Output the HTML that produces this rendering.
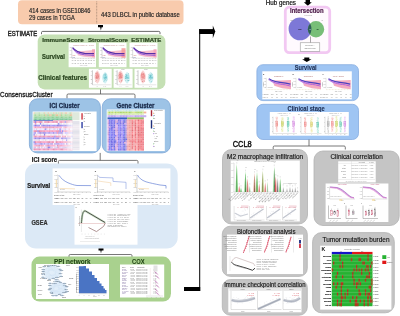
<!DOCTYPE html>
<html><head><meta charset="utf-8"><title>Workflow</title>
<style>
html,body{margin:0;padding:0;background:#fff;}
#fig{position:relative;width:400px;height:316px;overflow:hidden;background:#fff;}
svg{display:block;filter:blur(0.25px);}
</style></head>
<body><div id="fig">
<svg width="400" height="316" viewBox="0 0 400 316">
<rect x="18" y="0.3" width="165.5" height="23.9" rx="4" fill="#f8cbad"/>
<line x1="96.7" y1="1.5" x2="96.7" y2="23.5" stroke="#7a6658" stroke-width="0.6" stroke-dasharray="0.8,0.7"/>
<text x="29.1" y="13.23" font-size="6.5" font-weight="normal" fill="#262626" stroke="#262626" stroke-width="0.18" stroke-linejoin="round" textLength="61.2" lengthAdjust="spacingAndGlyphs" font-family="'Liberation Sans', Arial, sans-serif" >414 cases in GSE10846</text>
<text x="29.1" y="19.73" font-size="6.5" font-weight="normal" fill="#262626" stroke="#262626" stroke-width="0.18" stroke-linejoin="round" textLength="45.6" lengthAdjust="spacingAndGlyphs" font-family="'Liberation Sans', Arial, sans-serif" >29 cases in TCGA</text>
<text x="101" y="17.13" font-size="6.5" font-weight="normal" fill="#262626" stroke="#262626" stroke-width="0.18" stroke-linejoin="round" textLength="78.7" lengthAdjust="spacingAndGlyphs" font-family="'Liberation Sans', Arial, sans-serif" >443 DLBCL in public database</text>
<path d="M98,25.1 L103,25.1 L103,27.3 L101.6,27.3 L100.9,30.6 L100.2,27.3 L98,27.3 Z" fill="#000" />
<path d="M41.5,34.2 L41.5,32.6 Q41.5,31.4 42.7,31.4 L158.8,31.4 Q160,31.4 160,32.6 L160,34.2" fill="none" stroke="#444" stroke-width="0.8" />
<text x="7.75" y="35.76" font-size="6.3" font-weight="normal" fill="#1a1a1a" stroke="#1a1a1a" stroke-width="0.33" stroke-linejoin="round" textLength="29.5" lengthAdjust="spacingAndGlyphs" font-family="'Liberation Sans', Arial, sans-serif" >ESTIMATE</text>
<rect x="37.7" y="34.4" width="127.7" height="55" rx="7" fill="#c5e0b4"/>
<text x="42.2" y="42.08" font-size="6.1" font-weight="bold" fill="#2b4620" stroke="#2b4620" stroke-width="0.22" stroke-linejoin="round" textLength="41.55" lengthAdjust="spacingAndGlyphs" font-family="'Liberation Sans', Arial, sans-serif" >ImmuneScore</text>
<text x="88" y="42.08" font-size="6.1" font-weight="bold" fill="#2b4620" stroke="#2b4620" stroke-width="0.22" stroke-linejoin="round" textLength="40" lengthAdjust="spacingAndGlyphs" font-family="'Liberation Sans', Arial, sans-serif" >StromalScore</text>
<text x="131.25" y="42.08" font-size="6.1" font-weight="bold" fill="#2b4620" stroke="#2b4620" stroke-width="0.22" stroke-linejoin="round" textLength="30" lengthAdjust="spacingAndGlyphs" font-family="'Liberation Sans', Arial, sans-serif" >ESTIMATE</text>
<text x="42" y="58.71" font-size="7" font-weight="bold" fill="#2b4620" stroke="#2b4620" stroke-width="0.22" stroke-linejoin="round" textLength="22.9" lengthAdjust="spacingAndGlyphs" font-family="'Liberation Sans', Arial, sans-serif" >Survival</text>
<text x="38.2" y="80.21" font-size="7" font-weight="bold" fill="#2b4620" stroke="#2b4620" stroke-width="0.22" stroke-linejoin="round" textLength="48.8" lengthAdjust="spacingAndGlyphs" font-family="'Liberation Sans', Arial, sans-serif" >Clinical features</text>
<rect x="68.6" y="42.7" width="27.4" height="24.5" fill="#fff"/>
<rect x="98.8" y="42.7" width="27.7" height="24.5" fill="#fff"/>
<rect x="129.5" y="42.7" width="28" height="24.5" fill="#fff"/>
<rect x="88.9" y="68.8" width="22.8" height="19" fill="#fff"/>
<rect x="113.6" y="68.8" width="19" height="19" fill="#fff"/>
<rect x="134.5" y="68.8" width="22.8" height="19" fill="#fff"/>
<text x="0" y="96.71" font-size="7" font-weight="normal" fill="#1a1a1a" stroke="#1a1a1a" stroke-width="0.3" stroke-linejoin="round" textLength="52.6" lengthAdjust="spacingAndGlyphs" font-family="'Liberation Sans', Arial, sans-serif" >ConsensusCluster</text>
<line x1="100.5" y1="89.4" x2="100.5" y2="94" stroke="#555" stroke-width="0.8" />
<path d="M67,98.5 L67,95.2 Q67,94 68.2,94 L133.8,94 Q135,94 135,95.2 L135,98.5" fill="none" stroke="#555" stroke-width="0.8" />
<rect x="29.4" y="98.8" width="71" height="54.1" rx="8" fill="#9dc3e6" stroke="#7ea6d6" stroke-width="0.8"/>
<rect x="102.3" y="98.8" width="68.1" height="54.1" rx="8" fill="#9dc3e6" stroke="#7ea6d6" stroke-width="0.8"/>
<text x="49.5" y="108.03" font-size="6.8" font-weight="bold" fill="#1c2c4c" stroke="#1c2c4c" stroke-width="0.3" stroke-linejoin="round" textLength="30" lengthAdjust="spacingAndGlyphs" font-family="'Liberation Sans', Arial, sans-serif" >ICI Cluster</text>
<text x="116.5" y="108.03" font-size="6.8" font-weight="bold" fill="#1c2c4c" stroke="#1c2c4c" stroke-width="0.3" stroke-linejoin="round" textLength="37.9" lengthAdjust="spacingAndGlyphs" font-family="'Liberation Sans', Arial, sans-serif" >Gene Cluster</text>
<rect x="32.6" y="111.5" width="64" height="39.5" fill="#fff"/>
<rect x="106.7" y="109.5" width="58.1" height="41.5" fill="#fff"/>
<line x1="100.2" y1="152.9" x2="100.2" y2="160.4" stroke="#555" stroke-width="0.8" />
<path d="M58.4,164 L58.4,161.6 Q58.4,160.4 59.6,160.4 L136.8,160.4 Q138,160.4 138,161.6 L138,164" fill="none" stroke="#555" stroke-width="0.8" />
<text x="31.8" y="162.23" font-size="6.5" font-weight="bold" fill="#222" stroke="#222" stroke-width="0.22" stroke-linejoin="round" textLength="25.4" lengthAdjust="spacingAndGlyphs" font-family="'Liberation Sans', Arial, sans-serif" >ICI score</text>
<rect x="25" y="163.5" width="152.7" height="84.9" rx="11" fill="#dce9f6"/>
<text x="27.2" y="187.53" font-size="6.5" font-weight="bold" fill="#222" stroke="#222" stroke-width="0.22" stroke-linejoin="round" textLength="23" lengthAdjust="spacingAndGlyphs" font-family="'Liberation Sans', Arial, sans-serif" >Survival</text>
<text x="31.4" y="225.33" font-size="6.5" font-weight="bold" fill="#333" stroke="#333" stroke-width="0.22" stroke-linejoin="round" textLength="16.2" lengthAdjust="spacingAndGlyphs" font-family="'Liberation Sans', Arial, sans-serif" >GSEA</text>
<rect x="52.6" y="168.4" width="117.8" height="36.6" fill="#fff"/>
<rect x="74.5" y="205" width="63" height="39.7" fill="#fff"/>
<path d="M98.5,248.6 L103.5,248.6 L103.5,250.6 L101.6,250.6 L101,253.5 L100.4,250.6 L98.5,250.6 Z" fill="#000" />
<path d="M69,257 L69,255.7 Q69,254.5 70.2,254.5 L130.8,254.5 Q132,254.5 132,255.7 L132,257" fill="none" stroke="#555" stroke-width="0.8" />
<rect x="31.5" y="256.6" width="139.5" height="44.9" rx="8" fill="#a9d18e"/>
<text x="54" y="263.63" font-size="6.8" font-weight="bold" fill="#1d3f12" stroke="#1d3f12" stroke-width="0.05" stroke-linejoin="round" textLength="36.6" lengthAdjust="spacingAndGlyphs" font-family="'Liberation Sans', Arial, sans-serif" >PPI network</text>
<text x="132" y="263.63" font-size="6.8" font-weight="bold" fill="#1d3f12" stroke="#1d3f12" stroke-width="0.05" stroke-linejoin="round" textLength="12.6" lengthAdjust="spacingAndGlyphs" font-family="'Liberation Sans', Arial, sans-serif" >COX</text>
<rect x="36" y="264" width="73" height="35" fill="#fff"/>
<rect x="120" y="264.5" width="44.2" height="33" fill="#fff"/>
<rect x="199.2" y="29.1" width="1" height="261.9" fill="#000"/>
<rect x="199.2" y="29.1" width="14" height="4.9" fill="#000"/>
<polygon points="212.8,25.6 215.3,31.6 212.8,38.2" fill="#000" />
<rect x="184" y="287" width="16.2" height="4" fill="#000"/>
<text x="265.8" y="4.49" font-size="6.4" font-weight="normal" fill="#111" stroke="#111" stroke-width="0.2" stroke-linejoin="round" textLength="30.2" lengthAdjust="spacingAndGlyphs" font-family="'Liberation Sans', Arial, sans-serif" >Hub genes</text>
<path d="M305.6,-1 L310,-1 L310,2.2 L311.8,2.2 L307.8,5.8 L303.8,2.2 L305.6,2.2 Z" fill="#000" />
<rect x="285.3" y="7.2" width="44.4" height="45.4" rx="4" fill="#fffafe" stroke="#f2c8f2" stroke-width="2.8"/>
<text x="290" y="13.26" font-size="6.6" font-weight="bold" fill="#4e1a4a" stroke="#4e1a4a" stroke-width="0.22" stroke-linejoin="round" textLength="33.6" lengthAdjust="spacingAndGlyphs" font-family="'Liberation Sans', Arial, sans-serif" >Intersection</text>
<circle cx="300" cy="28.9" r="11.4" fill="#7d78d7" />
<circle cx="316" cy="29.3" r="8.2" fill="#78be78" />
<clipPath id="cb"><circle cx="300.0" cy="28.9" r="11.4"/></clipPath>
<circle cx="316.0" cy="29.3" r="8.2" fill="#2f5d58" clip-path="url(#cb)"/>
<line x1="310.5" y1="36.5" x2="310.5" y2="42.8" stroke="#555" stroke-width="0.5" />
<rect x="300.2" y="42.8" width="19.6" height="8.5" fill="#fff" stroke="#888" stroke-width="0.5"/>
<path d="M304.3,57.6 L309.3,57.6 L309.3,59.3 L311.5,59.3 L306.8,62 L302.1,59.3 L304.3,59.3 Z" fill="#000" />
<rect x="256.9" y="64.7" width="101.6" height="35.9" rx="6" fill="#9fc5f3" stroke="#86ace0" stroke-width="0.8"/>
<text x="294.7" y="70.03" font-size="6.5" font-weight="bold" fill="#1a2c52" stroke="#1a2c52" stroke-width="0.1" stroke-linejoin="round" textLength="22" lengthAdjust="spacingAndGlyphs" font-family="'Liberation Sans', Arial, sans-serif" >Survival</text>
<rect x="262.3" y="71.3" width="89.5" height="28" fill="#fff"/>
<rect x="256.9" y="104.3" width="101.6" height="35.2" rx="6" fill="#9fc5f3" stroke="#86ace0" stroke-width="0.8"/>
<text x="287.5" y="110.83" font-size="6.5" font-weight="bold" fill="#1a2c52" stroke="#1a2c52" stroke-width="0.1" stroke-linejoin="round" textLength="37.2" lengthAdjust="spacingAndGlyphs" font-family="'Liberation Sans', Arial, sans-serif" >Clinical stage</text>
<rect x="269.8" y="112" width="79" height="23.7" fill="#fff"/>
<line x1="309" y1="139.6" x2="309" y2="146" stroke="#555" stroke-width="0.8" />
<path d="M273.2,149.5 L273.2,147.2 Q273.2,146 274.4,146 L344.1,146 Q345.3,146 345.3,147.2 L345.3,149.5" fill="none" stroke="#555" stroke-width="0.8" />
<text x="232.7" y="146.75" font-size="8.8" font-weight="normal" fill="#111" stroke="#111" stroke-width="0.45" stroke-linejoin="round" textLength="19" lengthAdjust="spacingAndGlyphs" font-family="'Liberation Sans', Arial, sans-serif" >CCL8</text>
<rect x="222.5" y="149.5" width="85" height="74.5" rx="9" fill="#c5c5c5" stroke="#b3b3b3" stroke-width="0.8"/>
<text x="227" y="158.76" font-size="6.3" font-weight="normal" fill="#151515" stroke="#151515" stroke-width="0.14" stroke-linejoin="round" textLength="76.2" lengthAdjust="spacingAndGlyphs" font-family="'Liberation Sans', Arial, sans-serif" >M2 macrophage infiltration</text>
<rect x="230.7" y="160.5" width="69.1" height="61" fill="#fff"/>
<rect x="314" y="151" width="85.2" height="74.5" rx="9" fill="#c5c5c5" stroke="#b3b3b3" stroke-width="0.8"/>
<text x="330.5" y="159.26" font-size="6.3" font-weight="normal" fill="#151515" stroke="#151515" stroke-width="0.14" stroke-linejoin="round" textLength="52.2" lengthAdjust="spacingAndGlyphs" font-family="'Liberation Sans', Arial, sans-serif" >Clinical correlation</text>
<rect x="338.2" y="161.3" width="37.5" height="21.1" fill="#fff"/>
<rect x="325.6" y="183.5" width="62.8" height="38.5" fill="#fff"/>
<rect x="222.3" y="226.2" width="85" height="50.2" rx="8" fill="#c5c5c5" stroke="#b3b3b3" stroke-width="0.8"/>
<text x="237" y="233.66" font-size="6.3" font-weight="normal" fill="#151515" stroke="#151515" stroke-width="0.14" stroke-linejoin="round" textLength="58.5" lengthAdjust="spacingAndGlyphs" font-family="'Liberation Sans', Arial, sans-serif" >Biofonctional analysis</text>
<rect x="227" y="234.6" width="76" height="39.4" fill="#fff"/>
<rect x="222.3" y="279.6" width="85" height="35.6" rx="8" fill="#c5c5c5" stroke="#b3b3b3" stroke-width="0.8"/>
<text x="224.2" y="287.16" font-size="6.3" font-weight="normal" fill="#151515" stroke="#151515" stroke-width="0.14" stroke-linejoin="round" textLength="81.3" lengthAdjust="spacingAndGlyphs" font-family="'Liberation Sans', Arial, sans-serif" >Immune checkpoint correlation</text>
<rect x="228.3" y="288.3" width="73.2" height="24" fill="#fff"/>
<rect x="312.6" y="232.6" width="81.7" height="80.2" rx="9" fill="#c5c5c5" stroke="#b3b3b3" stroke-width="0.8"/>
<text x="322.5" y="241.76" font-size="6.3" font-weight="normal" fill="#151515" stroke="#151515" stroke-width="0.14" stroke-linejoin="round" textLength="67" lengthAdjust="spacingAndGlyphs" font-family="'Liberation Sans', Arial, sans-serif" >Tumor mutation burden</text>
<rect x="320.2" y="245.7" width="71.2" height="63.9" fill="#fff"/>
<text x="83.67" y="45.7" font-size="1.8" fill="#b98080" text-anchor="middle" font-family="'Liberation Sans', Arial, sans-serif" >Immune Score (p &lt; 0.001)</text>
<line x1="71.8" y1="47.2" x2="71.8" y2="58.2" stroke="#999" stroke-width="0.35" />
<text x="71.5" y="48.2" font-size="1.2" fill="#999" text-anchor="end" font-family="'Liberation Sans', Arial, sans-serif" >1.0</text>
<text x="71.5" y="51.4" font-size="1.2" fill="#999" text-anchor="end" font-family="'Liberation Sans', Arial, sans-serif" >0.8</text>
<text x="71.5" y="54.6" font-size="1.2" fill="#999" text-anchor="end" font-family="'Liberation Sans', Arial, sans-serif" >0.5</text>
<text x="71.5" y="57.8" font-size="1.2" fill="#999" text-anchor="end" font-family="'Liberation Sans', Arial, sans-serif" >0.2</text>
<line x1="71.8" y1="58.2" x2="95" y2="58.2" stroke="#aaa" stroke-width="0.3" />
<polygon points="77.6,51.2 83.6,50.9 95,49.7 95,57.7 83.6,56.7 77.6,55.2" fill="#f6acc0" opacity="0.8"/>
<rect x="92" y="49.2" width="3" height="8" fill="#f5a0b8" opacity="0.8"/>
<polygon points="72.6,47.2 76.6,50.7 82.6,52.5 82.6,55.2 76.6,53.7 72.6,49.2" fill="#c7a8ee" opacity="0.7"/>
<path d="M72.6,47.7 C75.6,51.5 79.6,52.9 84.6,53.3 L94,53.7" fill="none" stroke="#5530a8" stroke-width="1.3" />
<path d="M73.1,48.9 C76.1,52.7 80.1,54.3 84.6,54.8 L94,55.4" fill="none" stroke="#9a58d0" stroke-width="1" />
<text x="72.4" y="56.3" font-size="1.4" fill="#c66" text-anchor="start" font-family="'Liberation Sans', Arial, sans-serif" >High</text>
<text x="72.4" y="57.7" font-size="1.4" fill="#66a" text-anchor="start" font-family="'Liberation Sans', Arial, sans-serif" >Low</text>
<line x1="72.6" y1="58.2" x2="72.6" y2="59" stroke="#999" stroke-width="0.3" />
<text x="72.6" y="60.6" font-size="1.6" fill="#888" text-anchor="middle" font-family="'Liberation Sans', Arial, sans-serif" >90</text>
<text x="72.6" y="64.1" font-size="1.6" fill="#888" text-anchor="middle" font-family="'Liberation Sans', Arial, sans-serif" >60</text>
<line x1="75.27" y1="58.2" x2="75.27" y2="59" stroke="#999" stroke-width="0.3" />
<text x="75.27" y="60.6" font-size="1.6" fill="#888" text-anchor="middle" font-family="'Liberation Sans', Arial, sans-serif" >80</text>
<text x="75.27" y="64.1" font-size="1.6" fill="#888" text-anchor="middle" font-family="'Liberation Sans', Arial, sans-serif" >53</text>
<line x1="77.95" y1="58.2" x2="77.95" y2="59" stroke="#999" stroke-width="0.3" />
<text x="77.95" y="60.6" font-size="1.6" fill="#888" text-anchor="middle" font-family="'Liberation Sans', Arial, sans-serif" >70</text>
<text x="77.95" y="64.1" font-size="1.6" fill="#888" text-anchor="middle" font-family="'Liberation Sans', Arial, sans-serif" >46</text>
<line x1="80.62" y1="58.2" x2="80.62" y2="59" stroke="#999" stroke-width="0.3" />
<text x="80.62" y="60.6" font-size="1.6" fill="#888" text-anchor="middle" font-family="'Liberation Sans', Arial, sans-serif" >60</text>
<text x="80.62" y="64.1" font-size="1.6" fill="#888" text-anchor="middle" font-family="'Liberation Sans', Arial, sans-serif" >39</text>
<line x1="83.3" y1="58.2" x2="83.3" y2="59" stroke="#999" stroke-width="0.3" />
<text x="83.3" y="60.6" font-size="1.6" fill="#888" text-anchor="middle" font-family="'Liberation Sans', Arial, sans-serif" >50</text>
<text x="83.3" y="64.1" font-size="1.6" fill="#888" text-anchor="middle" font-family="'Liberation Sans', Arial, sans-serif" >32</text>
<line x1="85.97" y1="58.2" x2="85.97" y2="59" stroke="#999" stroke-width="0.3" />
<text x="85.97" y="60.6" font-size="1.6" fill="#888" text-anchor="middle" font-family="'Liberation Sans', Arial, sans-serif" >40</text>
<text x="85.97" y="64.1" font-size="1.6" fill="#888" text-anchor="middle" font-family="'Liberation Sans', Arial, sans-serif" >25</text>
<line x1="88.65" y1="58.2" x2="88.65" y2="59" stroke="#999" stroke-width="0.3" />
<text x="88.65" y="60.6" font-size="1.6" fill="#888" text-anchor="middle" font-family="'Liberation Sans', Arial, sans-serif" >30</text>
<text x="88.65" y="64.1" font-size="1.6" fill="#888" text-anchor="middle" font-family="'Liberation Sans', Arial, sans-serif" >18</text>
<line x1="91.33" y1="58.2" x2="91.33" y2="59" stroke="#999" stroke-width="0.3" />
<text x="91.33" y="60.6" font-size="1.6" fill="#888" text-anchor="middle" font-family="'Liberation Sans', Arial, sans-serif" >20</text>
<text x="91.33" y="64.1" font-size="1.6" fill="#888" text-anchor="middle" font-family="'Liberation Sans', Arial, sans-serif" >11</text>
<line x1="94" y1="58.2" x2="94" y2="59" stroke="#999" stroke-width="0.3" />
<text x="94" y="60.6" font-size="1.6" fill="#888" text-anchor="middle" font-family="'Liberation Sans', Arial, sans-serif" >10</text>
<text x="94" y="64.1" font-size="1.6" fill="#888" text-anchor="middle" font-family="'Liberation Sans', Arial, sans-serif" >4</text>
<text x="83.67" y="66.3" font-size="1.4" fill="#aaa" text-anchor="middle" font-family="'Liberation Sans', Arial, sans-serif" >Time (years)</text>
<text x="114.03" y="45.7" font-size="1.8" fill="#b98080" text-anchor="middle" font-family="'Liberation Sans', Arial, sans-serif" >Immune Score (p &lt; 0.001)</text>
<line x1="102" y1="47.2" x2="102" y2="58.2" stroke="#999" stroke-width="0.35" />
<text x="101.7" y="48.2" font-size="1.2" fill="#999" text-anchor="end" font-family="'Liberation Sans', Arial, sans-serif" >1.0</text>
<text x="101.7" y="51.4" font-size="1.2" fill="#999" text-anchor="end" font-family="'Liberation Sans', Arial, sans-serif" >0.8</text>
<text x="101.7" y="54.6" font-size="1.2" fill="#999" text-anchor="end" font-family="'Liberation Sans', Arial, sans-serif" >0.5</text>
<text x="101.7" y="57.8" font-size="1.2" fill="#999" text-anchor="end" font-family="'Liberation Sans', Arial, sans-serif" >0.2</text>
<line x1="102" y1="58.2" x2="125.5" y2="58.2" stroke="#aaa" stroke-width="0.3" />
<polygon points="107.8,51.2 113.8,50.9 125.5,49.7 125.5,57.7 113.8,56.7 107.8,55.2" fill="#f6acc0" opacity="0.8"/>
<rect x="121.5" y="48.2" width="4" height="9.5" fill="#f59a9a" opacity="0.85"/>
<polygon points="102.8,47.2 106.8,50.7 112.8,52.5 112.8,55.2 106.8,53.7 102.8,49.2" fill="#c7a8ee" opacity="0.7"/>
<path d="M102.8,47.7 C105.8,51.5 109.8,52.9 114.8,53.3 L124.5,53.7" fill="none" stroke="#5530a8" stroke-width="1.3" />
<path d="M103.3,48.9 C106.3,52.7 110.3,54.3 114.8,54.8 L124.5,55.4" fill="none" stroke="#9a58d0" stroke-width="1" />
<text x="102.6" y="56.3" font-size="1.4" fill="#c66" text-anchor="start" font-family="'Liberation Sans', Arial, sans-serif" >High</text>
<text x="102.6" y="57.7" font-size="1.4" fill="#66a" text-anchor="start" font-family="'Liberation Sans', Arial, sans-serif" >Low</text>
<line x1="102.8" y1="58.2" x2="102.8" y2="59" stroke="#999" stroke-width="0.3" />
<text x="102.8" y="60.6" font-size="1.6" fill="#888" text-anchor="middle" font-family="'Liberation Sans', Arial, sans-serif" >90</text>
<text x="102.8" y="64.1" font-size="1.6" fill="#888" text-anchor="middle" font-family="'Liberation Sans', Arial, sans-serif" >60</text>
<line x1="105.51" y1="58.2" x2="105.51" y2="59" stroke="#999" stroke-width="0.3" />
<text x="105.51" y="60.6" font-size="1.6" fill="#888" text-anchor="middle" font-family="'Liberation Sans', Arial, sans-serif" >80</text>
<text x="105.51" y="64.1" font-size="1.6" fill="#888" text-anchor="middle" font-family="'Liberation Sans', Arial, sans-serif" >53</text>
<line x1="108.22" y1="58.2" x2="108.22" y2="59" stroke="#999" stroke-width="0.3" />
<text x="108.22" y="60.6" font-size="1.6" fill="#888" text-anchor="middle" font-family="'Liberation Sans', Arial, sans-serif" >70</text>
<text x="108.22" y="64.1" font-size="1.6" fill="#888" text-anchor="middle" font-family="'Liberation Sans', Arial, sans-serif" >46</text>
<line x1="110.94" y1="58.2" x2="110.94" y2="59" stroke="#999" stroke-width="0.3" />
<text x="110.94" y="60.6" font-size="1.6" fill="#888" text-anchor="middle" font-family="'Liberation Sans', Arial, sans-serif" >60</text>
<text x="110.94" y="64.1" font-size="1.6" fill="#888" text-anchor="middle" font-family="'Liberation Sans', Arial, sans-serif" >39</text>
<line x1="113.65" y1="58.2" x2="113.65" y2="59" stroke="#999" stroke-width="0.3" />
<text x="113.65" y="60.6" font-size="1.6" fill="#888" text-anchor="middle" font-family="'Liberation Sans', Arial, sans-serif" >50</text>
<text x="113.65" y="64.1" font-size="1.6" fill="#888" text-anchor="middle" font-family="'Liberation Sans', Arial, sans-serif" >32</text>
<line x1="116.36" y1="58.2" x2="116.36" y2="59" stroke="#999" stroke-width="0.3" />
<text x="116.36" y="60.6" font-size="1.6" fill="#888" text-anchor="middle" font-family="'Liberation Sans', Arial, sans-serif" >40</text>
<text x="116.36" y="64.1" font-size="1.6" fill="#888" text-anchor="middle" font-family="'Liberation Sans', Arial, sans-serif" >25</text>
<line x1="119.08" y1="58.2" x2="119.08" y2="59" stroke="#999" stroke-width="0.3" />
<text x="119.08" y="60.6" font-size="1.6" fill="#888" text-anchor="middle" font-family="'Liberation Sans', Arial, sans-serif" >30</text>
<text x="119.08" y="64.1" font-size="1.6" fill="#888" text-anchor="middle" font-family="'Liberation Sans', Arial, sans-serif" >18</text>
<line x1="121.79" y1="58.2" x2="121.79" y2="59" stroke="#999" stroke-width="0.3" />
<text x="121.79" y="60.6" font-size="1.6" fill="#888" text-anchor="middle" font-family="'Liberation Sans', Arial, sans-serif" >20</text>
<text x="121.79" y="64.1" font-size="1.6" fill="#888" text-anchor="middle" font-family="'Liberation Sans', Arial, sans-serif" >11</text>
<line x1="124.5" y1="58.2" x2="124.5" y2="59" stroke="#999" stroke-width="0.3" />
<text x="124.5" y="60.6" font-size="1.6" fill="#888" text-anchor="middle" font-family="'Liberation Sans', Arial, sans-serif" >10</text>
<text x="124.5" y="64.1" font-size="1.6" fill="#888" text-anchor="middle" font-family="'Liberation Sans', Arial, sans-serif" >4</text>
<text x="114.03" y="66.3" font-size="1.4" fill="#aaa" text-anchor="middle" font-family="'Liberation Sans', Arial, sans-serif" >Time (years)</text>
<text x="144.9" y="45.7" font-size="1.8" fill="#b98080" text-anchor="middle" font-family="'Liberation Sans', Arial, sans-serif" >Immune Score (p &lt; 0.001)</text>
<line x1="132.7" y1="47.2" x2="132.7" y2="58.2" stroke="#999" stroke-width="0.35" />
<text x="132.4" y="48.2" font-size="1.2" fill="#999" text-anchor="end" font-family="'Liberation Sans', Arial, sans-serif" >1.0</text>
<text x="132.4" y="51.4" font-size="1.2" fill="#999" text-anchor="end" font-family="'Liberation Sans', Arial, sans-serif" >0.8</text>
<text x="132.4" y="54.6" font-size="1.2" fill="#999" text-anchor="end" font-family="'Liberation Sans', Arial, sans-serif" >0.5</text>
<text x="132.4" y="57.8" font-size="1.2" fill="#999" text-anchor="end" font-family="'Liberation Sans', Arial, sans-serif" >0.2</text>
<line x1="132.7" y1="58.2" x2="156.5" y2="58.2" stroke="#aaa" stroke-width="0.3" />
<polygon points="138.5,51.2 144.5,50.9 156.5,49.7 156.5,57.7 144.5,56.7 138.5,55.2" fill="#f6acc0" opacity="0.8"/>
<rect x="153.5" y="49.2" width="3" height="8" fill="#f5a0b8" opacity="0.8"/>
<polygon points="133.5,47.2 137.5,50.7 143.5,52.5 143.5,55.2 137.5,53.7 133.5,49.2" fill="#c7a8ee" opacity="0.7"/>
<path d="M133.5,47.7 C136.5,51.5 140.5,52.9 145.5,53.3 L155.5,53.7" fill="none" stroke="#5530a8" stroke-width="1.3" />
<path d="M134,48.9 C137,52.7 141,54.3 145.5,54.8 L155.5,55.4" fill="none" stroke="#9a58d0" stroke-width="1" />
<text x="133.3" y="56.3" font-size="1.4" fill="#c66" text-anchor="start" font-family="'Liberation Sans', Arial, sans-serif" >High</text>
<text x="133.3" y="57.7" font-size="1.4" fill="#66a" text-anchor="start" font-family="'Liberation Sans', Arial, sans-serif" >Low</text>
<line x1="133.5" y1="58.2" x2="133.5" y2="59" stroke="#999" stroke-width="0.3" />
<text x="133.5" y="60.6" font-size="1.6" fill="#888" text-anchor="middle" font-family="'Liberation Sans', Arial, sans-serif" >90</text>
<text x="133.5" y="64.1" font-size="1.6" fill="#888" text-anchor="middle" font-family="'Liberation Sans', Arial, sans-serif" >60</text>
<line x1="136.25" y1="58.2" x2="136.25" y2="59" stroke="#999" stroke-width="0.3" />
<text x="136.25" y="60.6" font-size="1.6" fill="#888" text-anchor="middle" font-family="'Liberation Sans', Arial, sans-serif" >80</text>
<text x="136.25" y="64.1" font-size="1.6" fill="#888" text-anchor="middle" font-family="'Liberation Sans', Arial, sans-serif" >53</text>
<line x1="139" y1="58.2" x2="139" y2="59" stroke="#999" stroke-width="0.3" />
<text x="139" y="60.6" font-size="1.6" fill="#888" text-anchor="middle" font-family="'Liberation Sans', Arial, sans-serif" >70</text>
<text x="139" y="64.1" font-size="1.6" fill="#888" text-anchor="middle" font-family="'Liberation Sans', Arial, sans-serif" >46</text>
<line x1="141.75" y1="58.2" x2="141.75" y2="59" stroke="#999" stroke-width="0.3" />
<text x="141.75" y="60.6" font-size="1.6" fill="#888" text-anchor="middle" font-family="'Liberation Sans', Arial, sans-serif" >60</text>
<text x="141.75" y="64.1" font-size="1.6" fill="#888" text-anchor="middle" font-family="'Liberation Sans', Arial, sans-serif" >39</text>
<line x1="144.5" y1="58.2" x2="144.5" y2="59" stroke="#999" stroke-width="0.3" />
<text x="144.5" y="60.6" font-size="1.6" fill="#888" text-anchor="middle" font-family="'Liberation Sans', Arial, sans-serif" >50</text>
<text x="144.5" y="64.1" font-size="1.6" fill="#888" text-anchor="middle" font-family="'Liberation Sans', Arial, sans-serif" >32</text>
<line x1="147.25" y1="58.2" x2="147.25" y2="59" stroke="#999" stroke-width="0.3" />
<text x="147.25" y="60.6" font-size="1.6" fill="#888" text-anchor="middle" font-family="'Liberation Sans', Arial, sans-serif" >40</text>
<text x="147.25" y="64.1" font-size="1.6" fill="#888" text-anchor="middle" font-family="'Liberation Sans', Arial, sans-serif" >25</text>
<line x1="150" y1="58.2" x2="150" y2="59" stroke="#999" stroke-width="0.3" />
<text x="150" y="60.6" font-size="1.6" fill="#888" text-anchor="middle" font-family="'Liberation Sans', Arial, sans-serif" >30</text>
<text x="150" y="64.1" font-size="1.6" fill="#888" text-anchor="middle" font-family="'Liberation Sans', Arial, sans-serif" >18</text>
<line x1="152.75" y1="58.2" x2="152.75" y2="59" stroke="#999" stroke-width="0.3" />
<text x="152.75" y="60.6" font-size="1.6" fill="#888" text-anchor="middle" font-family="'Liberation Sans', Arial, sans-serif" >20</text>
<text x="152.75" y="64.1" font-size="1.6" fill="#888" text-anchor="middle" font-family="'Liberation Sans', Arial, sans-serif" >11</text>
<line x1="155.5" y1="58.2" x2="155.5" y2="59" stroke="#999" stroke-width="0.3" />
<text x="155.5" y="60.6" font-size="1.6" fill="#888" text-anchor="middle" font-family="'Liberation Sans', Arial, sans-serif" >10</text>
<text x="155.5" y="64.1" font-size="1.6" fill="#888" text-anchor="middle" font-family="'Liberation Sans', Arial, sans-serif" >4</text>
<text x="144.9" y="66.3" font-size="1.4" fill="#aaa" text-anchor="middle" font-family="'Liberation Sans', Arial, sans-serif" >Time (years)</text>
<line x1="92.4" y1="70.3" x2="92.4" y2="84.8" stroke="#777" stroke-width="0.4" />
<text x="91.7" y="71.8" font-size="1.5" fill="#777" text-anchor="end" font-family="'Liberation Sans', Arial, sans-serif" >4</text>
<text x="91.7" y="75.8" font-size="1.5" fill="#777" text-anchor="end" font-family="'Liberation Sans', Arial, sans-serif" >3</text>
<text x="91.7" y="79.8" font-size="1.5" fill="#777" text-anchor="end" font-family="'Liberation Sans', Arial, sans-serif" >2</text>
<text x="91.7" y="83.8" font-size="1.5" fill="#777" text-anchor="end" font-family="'Liberation Sans', Arial, sans-serif" >1</text>
<text x="100.3" y="70.4" font-size="1.4" fill="#999" text-anchor="middle" font-family="'Liberation Sans', Arial, sans-serif" >Stage</text>
<path d="M97.34,70.3 C99.86,73 101.54,76.38 99.02,81.77 L97.34,83.8 L95.66,81.77 C93.14,76.38 94.82,73 97.34,70.3 Z" fill="#f39c9c" opacity="0.45"/>
<ellipse cx="97.34" cy="75.97" rx="1.89" ry="2.97" fill="#f39c9c" opacity="0.8"/>
<circle cx="96.02" cy="75.39" r="0.35" fill="#d35a5a" opacity="0.7"/>
<circle cx="95.72" cy="78.48" r="0.35" fill="#d35a5a" opacity="0.7"/>
<circle cx="96.83" cy="77.39" r="0.35" fill="#d35a5a" opacity="0.7"/>
<circle cx="97.36" cy="72.87" r="0.35" fill="#d35a5a" opacity="0.7"/>
<circle cx="97.09" cy="72.68" r="0.35" fill="#d35a5a" opacity="0.7"/>
<circle cx="95.79" cy="72.99" r="0.35" fill="#d35a5a" opacity="0.7"/>
<circle cx="98.57" cy="76.34" r="0.35" fill="#d35a5a" opacity="0.7"/>
<circle cx="96.29" cy="73.49" r="0.35" fill="#d35a5a" opacity="0.7"/>
<circle cx="99.03" cy="78.25" r="0.35" fill="#d35a5a" opacity="0.7"/>
<circle cx="96.95" cy="77.78" r="0.35" fill="#d35a5a" opacity="0.7"/>
<circle cx="95.62" cy="81.55" r="0.35" fill="#d35a5a" opacity="0.7"/>
<circle cx="96.54" cy="80.44" r="0.35" fill="#d35a5a" opacity="0.7"/>
<circle cx="95.89" cy="73.69" r="0.35" fill="#d35a5a" opacity="0.7"/>
<circle cx="98.53" cy="75.24" r="0.35" fill="#d35a5a" opacity="0.7"/>
<circle cx="97.64" cy="74.03" r="0.35" fill="#d35a5a" opacity="0.7"/>
<circle cx="96.85" cy="78.36" r="0.35" fill="#d35a5a" opacity="0.7"/>
<circle cx="95.68" cy="77.5" r="0.35" fill="#d35a5a" opacity="0.7"/>
<circle cx="96.22" cy="72.89" r="0.35" fill="#d35a5a" opacity="0.7"/>
<circle cx="97.06" cy="78.75" r="0.35" fill="#d35a5a" opacity="0.7"/>
<circle cx="97.66" cy="75.29" r="0.35" fill="#d35a5a" opacity="0.7"/>
<circle cx="96.58" cy="76.61" r="0.35" fill="#d35a5a" opacity="0.7"/>
<circle cx="98.09" cy="79.83" r="0.35" fill="#d35a5a" opacity="0.7"/>
<line x1="95.87" y1="77.05" x2="98.81" y2="77.05" stroke="#d35a5a" stroke-width="0.4" />
<path d="M105.09,71.8 C107.61,74.2 109.29,77.2 106.77,82 L105.09,83.8 L103.41,82 C100.89,77.2 102.57,74.2 105.09,71.8 Z" fill="#98dde4" opacity="0.45"/>
<ellipse cx="105.09" cy="76.84" rx="1.89" ry="2.64" fill="#98dde4" opacity="0.8"/>
<circle cx="105.37" cy="75.65" r="0.35" fill="#3aa6b2" opacity="0.7"/>
<circle cx="106.51" cy="78.01" r="0.35" fill="#3aa6b2" opacity="0.7"/>
<circle cx="104.29" cy="79.73" r="0.35" fill="#3aa6b2" opacity="0.7"/>
<circle cx="103.64" cy="81.83" r="0.35" fill="#3aa6b2" opacity="0.7"/>
<circle cx="106.06" cy="77.11" r="0.35" fill="#3aa6b2" opacity="0.7"/>
<circle cx="105.05" cy="74.88" r="0.35" fill="#3aa6b2" opacity="0.7"/>
<circle cx="105.72" cy="73.93" r="0.35" fill="#3aa6b2" opacity="0.7"/>
<circle cx="105.36" cy="80.02" r="0.35" fill="#3aa6b2" opacity="0.7"/>
<circle cx="104.38" cy="80.95" r="0.35" fill="#3aa6b2" opacity="0.7"/>
<circle cx="105.44" cy="79.44" r="0.35" fill="#3aa6b2" opacity="0.7"/>
<circle cx="104.92" cy="78.47" r="0.35" fill="#3aa6b2" opacity="0.7"/>
<circle cx="106.77" cy="80.66" r="0.35" fill="#3aa6b2" opacity="0.7"/>
<circle cx="105.71" cy="77.58" r="0.35" fill="#3aa6b2" opacity="0.7"/>
<circle cx="105.85" cy="74.11" r="0.35" fill="#3aa6b2" opacity="0.7"/>
<circle cx="106.95" cy="79.04" r="0.35" fill="#3aa6b2" opacity="0.7"/>
<circle cx="104.27" cy="80.5" r="0.35" fill="#3aa6b2" opacity="0.7"/>
<circle cx="105.73" cy="76.84" r="0.35" fill="#3aa6b2" opacity="0.7"/>
<circle cx="104.94" cy="73.79" r="0.35" fill="#3aa6b2" opacity="0.7"/>
<circle cx="103.64" cy="75.01" r="0.35" fill="#3aa6b2" opacity="0.7"/>
<circle cx="106.1" cy="74.1" r="0.35" fill="#3aa6b2" opacity="0.7"/>
<circle cx="104.13" cy="74.69" r="0.35" fill="#3aa6b2" opacity="0.7"/>
<circle cx="106.49" cy="76.88" r="0.35" fill="#3aa6b2" opacity="0.7"/>
<line x1="103.62" y1="77.8" x2="106.56" y2="77.8" stroke="#3aa6b2" stroke-width="0.4" />
<line x1="92.4" y1="84.8" x2="110.7" y2="84.8" stroke="#aaa" stroke-width="0.3" />
<text x="97.34" y="86.8" font-size="1.3" fill="#999" text-anchor="middle" font-family="'Liberation Sans', Arial, sans-serif" >I-II</text>
<text x="104.86" y="86.8" font-size="1.3" fill="#999" text-anchor="middle" font-family="'Liberation Sans', Arial, sans-serif" >III-IV</text>
<line x1="117.1" y1="70.3" x2="117.1" y2="84.8" stroke="#777" stroke-width="0.4" />
<text x="116.4" y="71.8" font-size="1.5" fill="#777" text-anchor="end" font-family="'Liberation Sans', Arial, sans-serif" >4</text>
<text x="116.4" y="75.8" font-size="1.5" fill="#777" text-anchor="end" font-family="'Liberation Sans', Arial, sans-serif" >3</text>
<text x="116.4" y="79.8" font-size="1.5" fill="#777" text-anchor="end" font-family="'Liberation Sans', Arial, sans-serif" >2</text>
<text x="116.4" y="83.8" font-size="1.5" fill="#777" text-anchor="end" font-family="'Liberation Sans', Arial, sans-serif" >1</text>
<text x="123.1" y="70.4" font-size="1.4" fill="#999" text-anchor="middle" font-family="'Liberation Sans', Arial, sans-serif" >Stage</text>
<path d="M120.63,70.3 C123.15,73 124.83,76.38 122.31,81.77 L120.63,83.8 L118.95,81.77 C116.43,76.38 118.11,73 120.63,70.3 Z" fill="#f39c9c" opacity="0.45"/>
<ellipse cx="120.63" cy="75.97" rx="1.89" ry="2.97" fill="#f39c9c" opacity="0.8"/>
<circle cx="120.44" cy="73.09" r="0.35" fill="#d35a5a" opacity="0.7"/>
<circle cx="122.08" cy="77.52" r="0.35" fill="#d35a5a" opacity="0.7"/>
<circle cx="122.01" cy="80.07" r="0.35" fill="#d35a5a" opacity="0.7"/>
<circle cx="120.31" cy="74.96" r="0.35" fill="#d35a5a" opacity="0.7"/>
<circle cx="122.08" cy="75.72" r="0.35" fill="#d35a5a" opacity="0.7"/>
<circle cx="119.31" cy="81.38" r="0.35" fill="#d35a5a" opacity="0.7"/>
<circle cx="119.62" cy="73.99" r="0.35" fill="#d35a5a" opacity="0.7"/>
<circle cx="120.57" cy="74.53" r="0.35" fill="#d35a5a" opacity="0.7"/>
<circle cx="119.73" cy="77.89" r="0.35" fill="#d35a5a" opacity="0.7"/>
<circle cx="120.32" cy="72.36" r="0.35" fill="#d35a5a" opacity="0.7"/>
<circle cx="120.88" cy="75.81" r="0.35" fill="#d35a5a" opacity="0.7"/>
<circle cx="121.35" cy="81.33" r="0.35" fill="#d35a5a" opacity="0.7"/>
<circle cx="121.07" cy="77.2" r="0.35" fill="#d35a5a" opacity="0.7"/>
<circle cx="118.94" cy="78.72" r="0.35" fill="#d35a5a" opacity="0.7"/>
<circle cx="121.69" cy="80.83" r="0.35" fill="#d35a5a" opacity="0.7"/>
<circle cx="121.76" cy="80.59" r="0.35" fill="#d35a5a" opacity="0.7"/>
<circle cx="120.25" cy="76.03" r="0.35" fill="#d35a5a" opacity="0.7"/>
<circle cx="121.14" cy="73.3" r="0.35" fill="#d35a5a" opacity="0.7"/>
<circle cx="118.99" cy="72.91" r="0.35" fill="#d35a5a" opacity="0.7"/>
<circle cx="119.35" cy="74.3" r="0.35" fill="#d35a5a" opacity="0.7"/>
<circle cx="118.94" cy="75.54" r="0.35" fill="#d35a5a" opacity="0.7"/>
<circle cx="119.31" cy="72.33" r="0.35" fill="#d35a5a" opacity="0.7"/>
<line x1="119.16" y1="77.05" x2="122.1" y2="77.05" stroke="#d35a5a" stroke-width="0.4" />
<path d="M127.09,71.8 C129.61,74.2 131.29,77.2 128.77,82 L127.09,83.8 L125.41,82 C122.89,77.2 124.57,74.2 127.09,71.8 Z" fill="#98dde4" opacity="0.45"/>
<ellipse cx="127.09" cy="76.84" rx="1.89" ry="2.64" fill="#98dde4" opacity="0.8"/>
<circle cx="126.57" cy="74.45" r="0.35" fill="#3aa6b2" opacity="0.7"/>
<circle cx="128.5" cy="73.81" r="0.35" fill="#3aa6b2" opacity="0.7"/>
<circle cx="125.76" cy="78.76" r="0.35" fill="#3aa6b2" opacity="0.7"/>
<circle cx="126.51" cy="75.72" r="0.35" fill="#3aa6b2" opacity="0.7"/>
<circle cx="125.66" cy="76.66" r="0.35" fill="#3aa6b2" opacity="0.7"/>
<circle cx="128.95" cy="80.73" r="0.35" fill="#3aa6b2" opacity="0.7"/>
<circle cx="127.03" cy="77.51" r="0.35" fill="#3aa6b2" opacity="0.7"/>
<circle cx="125.59" cy="74.32" r="0.35" fill="#3aa6b2" opacity="0.7"/>
<circle cx="126.2" cy="76.48" r="0.35" fill="#3aa6b2" opacity="0.7"/>
<circle cx="125.81" cy="80.56" r="0.35" fill="#3aa6b2" opacity="0.7"/>
<circle cx="128.79" cy="73.79" r="0.35" fill="#3aa6b2" opacity="0.7"/>
<circle cx="125.75" cy="78.04" r="0.35" fill="#3aa6b2" opacity="0.7"/>
<circle cx="125.3" cy="78.16" r="0.35" fill="#3aa6b2" opacity="0.7"/>
<circle cx="128.9" cy="78.04" r="0.35" fill="#3aa6b2" opacity="0.7"/>
<circle cx="127.83" cy="80.85" r="0.35" fill="#3aa6b2" opacity="0.7"/>
<circle cx="126.59" cy="75.79" r="0.35" fill="#3aa6b2" opacity="0.7"/>
<circle cx="128.12" cy="75" r="0.35" fill="#3aa6b2" opacity="0.7"/>
<circle cx="128.14" cy="78.07" r="0.35" fill="#3aa6b2" opacity="0.7"/>
<circle cx="126.04" cy="76.37" r="0.35" fill="#3aa6b2" opacity="0.7"/>
<circle cx="128.92" cy="80.42" r="0.35" fill="#3aa6b2" opacity="0.7"/>
<circle cx="128.25" cy="80.76" r="0.35" fill="#3aa6b2" opacity="0.7"/>
<circle cx="128" cy="80.47" r="0.35" fill="#3aa6b2" opacity="0.7"/>
<line x1="125.62" y1="77.8" x2="128.56" y2="77.8" stroke="#3aa6b2" stroke-width="0.4" />
<line x1="117.1" y1="84.8" x2="131.6" y2="84.8" stroke="#aaa" stroke-width="0.3" />
<text x="120.63" y="86.8" font-size="1.3" fill="#999" text-anchor="middle" font-family="'Liberation Sans', Arial, sans-serif" >I-II</text>
<text x="126.9" y="86.8" font-size="1.3" fill="#999" text-anchor="middle" font-family="'Liberation Sans', Arial, sans-serif" >III-IV</text>
<line x1="138" y1="70.3" x2="138" y2="84.8" stroke="#777" stroke-width="0.4" />
<text x="137.3" y="71.8" font-size="1.5" fill="#777" text-anchor="end" font-family="'Liberation Sans', Arial, sans-serif" >4</text>
<text x="137.3" y="75.8" font-size="1.5" fill="#777" text-anchor="end" font-family="'Liberation Sans', Arial, sans-serif" >3</text>
<text x="137.3" y="79.8" font-size="1.5" fill="#777" text-anchor="end" font-family="'Liberation Sans', Arial, sans-serif" >2</text>
<text x="137.3" y="83.8" font-size="1.5" fill="#777" text-anchor="end" font-family="'Liberation Sans', Arial, sans-serif" >1</text>
<text x="145.9" y="70.4" font-size="1.4" fill="#999" text-anchor="middle" font-family="'Liberation Sans', Arial, sans-serif" >Stage</text>
<path d="M142.94,70.3 C145.46,73 147.14,76.38 144.62,81.77 L142.94,83.8 L141.26,81.77 C138.74,76.38 140.42,73 142.94,70.3 Z" fill="#f39c9c" opacity="0.45"/>
<ellipse cx="142.94" cy="75.97" rx="1.89" ry="2.97" fill="#f39c9c" opacity="0.8"/>
<circle cx="143" cy="74.47" r="0.35" fill="#d35a5a" opacity="0.7"/>
<circle cx="141.16" cy="75.69" r="0.35" fill="#d35a5a" opacity="0.7"/>
<circle cx="142.1" cy="72.59" r="0.35" fill="#d35a5a" opacity="0.7"/>
<circle cx="143.66" cy="74.77" r="0.35" fill="#d35a5a" opacity="0.7"/>
<circle cx="142.74" cy="81.36" r="0.35" fill="#d35a5a" opacity="0.7"/>
<circle cx="144.78" cy="81.18" r="0.35" fill="#d35a5a" opacity="0.7"/>
<circle cx="142.42" cy="81.35" r="0.35" fill="#d35a5a" opacity="0.7"/>
<circle cx="141.9" cy="74.41" r="0.35" fill="#d35a5a" opacity="0.7"/>
<circle cx="141.82" cy="74.18" r="0.35" fill="#d35a5a" opacity="0.7"/>
<circle cx="144.45" cy="78.22" r="0.35" fill="#d35a5a" opacity="0.7"/>
<circle cx="142.86" cy="80.27" r="0.35" fill="#d35a5a" opacity="0.7"/>
<circle cx="144.07" cy="78.5" r="0.35" fill="#d35a5a" opacity="0.7"/>
<circle cx="143.54" cy="73.13" r="0.35" fill="#d35a5a" opacity="0.7"/>
<circle cx="144" cy="80.92" r="0.35" fill="#d35a5a" opacity="0.7"/>
<circle cx="142.85" cy="79.41" r="0.35" fill="#d35a5a" opacity="0.7"/>
<circle cx="144.03" cy="74.01" r="0.35" fill="#d35a5a" opacity="0.7"/>
<circle cx="144.07" cy="75.47" r="0.35" fill="#d35a5a" opacity="0.7"/>
<circle cx="142.54" cy="81.51" r="0.35" fill="#d35a5a" opacity="0.7"/>
<circle cx="144.62" cy="76.12" r="0.35" fill="#d35a5a" opacity="0.7"/>
<circle cx="141.69" cy="79.17" r="0.35" fill="#d35a5a" opacity="0.7"/>
<circle cx="141.62" cy="73.53" r="0.35" fill="#d35a5a" opacity="0.7"/>
<circle cx="144.09" cy="80.88" r="0.35" fill="#d35a5a" opacity="0.7"/>
<line x1="141.47" y1="77.05" x2="144.41" y2="77.05" stroke="#d35a5a" stroke-width="0.4" />
<path d="M150.69,71.8 C153.21,74.2 154.89,77.2 152.37,82 L150.69,83.8 L149.01,82 C146.49,77.2 148.17,74.2 150.69,71.8 Z" fill="#98dde4" opacity="0.45"/>
<ellipse cx="150.69" cy="76.84" rx="1.89" ry="2.64" fill="#98dde4" opacity="0.8"/>
<circle cx="151.92" cy="74.83" r="0.35" fill="#3aa6b2" opacity="0.7"/>
<circle cx="151.28" cy="81.83" r="0.35" fill="#3aa6b2" opacity="0.7"/>
<circle cx="150.87" cy="76.54" r="0.35" fill="#3aa6b2" opacity="0.7"/>
<circle cx="148.85" cy="74.7" r="0.35" fill="#3aa6b2" opacity="0.7"/>
<circle cx="151.25" cy="81.76" r="0.35" fill="#3aa6b2" opacity="0.7"/>
<circle cx="152.33" cy="78.02" r="0.35" fill="#3aa6b2" opacity="0.7"/>
<circle cx="152.09" cy="77.24" r="0.35" fill="#3aa6b2" opacity="0.7"/>
<circle cx="149.6" cy="80.54" r="0.35" fill="#3aa6b2" opacity="0.7"/>
<circle cx="149.91" cy="75.72" r="0.35" fill="#3aa6b2" opacity="0.7"/>
<circle cx="151.01" cy="75.62" r="0.35" fill="#3aa6b2" opacity="0.7"/>
<circle cx="150.38" cy="75.78" r="0.35" fill="#3aa6b2" opacity="0.7"/>
<circle cx="152.24" cy="74.7" r="0.35" fill="#3aa6b2" opacity="0.7"/>
<circle cx="150.53" cy="76.57" r="0.35" fill="#3aa6b2" opacity="0.7"/>
<circle cx="152.22" cy="78.5" r="0.35" fill="#3aa6b2" opacity="0.7"/>
<circle cx="152.27" cy="77.13" r="0.35" fill="#3aa6b2" opacity="0.7"/>
<circle cx="150.81" cy="77.81" r="0.35" fill="#3aa6b2" opacity="0.7"/>
<circle cx="148.87" cy="78" r="0.35" fill="#3aa6b2" opacity="0.7"/>
<circle cx="149.49" cy="77.3" r="0.35" fill="#3aa6b2" opacity="0.7"/>
<circle cx="151.82" cy="73.63" r="0.35" fill="#3aa6b2" opacity="0.7"/>
<circle cx="150.59" cy="75.05" r="0.35" fill="#3aa6b2" opacity="0.7"/>
<circle cx="150.9" cy="79.69" r="0.35" fill="#3aa6b2" opacity="0.7"/>
<circle cx="150.76" cy="76.34" r="0.35" fill="#3aa6b2" opacity="0.7"/>
<line x1="149.22" y1="77.8" x2="152.16" y2="77.8" stroke="#3aa6b2" stroke-width="0.4" />
<line x1="138" y1="84.8" x2="156.3" y2="84.8" stroke="#aaa" stroke-width="0.3" />
<text x="142.94" y="86.8" font-size="1.3" fill="#999" text-anchor="middle" font-family="'Liberation Sans', Arial, sans-serif" >I-II</text>
<text x="150.46" y="86.8" font-size="1.3" fill="#999" text-anchor="middle" font-family="'Liberation Sans', Arial, sans-serif" >III-IV</text>
<rect x="33.5" y="112.2" width="1.35" height="2" fill="#e8d2b8"/>
<rect x="34.8" y="112.2" width="1.35" height="2" fill="#cfe5c9"/>
<rect x="36.1" y="112.2" width="1.35" height="2" fill="#cfe5c9"/>
<rect x="37.4" y="112.2" width="1.35" height="2" fill="#c3e0bd"/>
<rect x="38.7" y="112.2" width="1.35" height="2" fill="#c3e0bd"/>
<rect x="40" y="112.2" width="1.35" height="2" fill="#d8ead0"/>
<rect x="41.3" y="112.2" width="1.35" height="2" fill="#cfe5c9"/>
<rect x="42.6" y="112.2" width="1.35" height="2" fill="#cfe5c9"/>
<rect x="43.9" y="112.2" width="1.35" height="2" fill="#e8d2b8"/>
<rect x="45.2" y="112.2" width="1.35" height="2" fill="#cfe5c9"/>
<rect x="46.5" y="112.2" width="1.35" height="2" fill="#cfe5c9"/>
<rect x="47.8" y="112.2" width="1.35" height="2" fill="#e8d2b8"/>
<rect x="49.1" y="112.2" width="1.35" height="2" fill="#d8ead0"/>
<rect x="50.4" y="112.2" width="1.35" height="2" fill="#c3e0bd"/>
<rect x="51.7" y="112.2" width="1.35" height="2" fill="#d8ead0"/>
<rect x="53" y="112.2" width="1.35" height="2" fill="#e8d2b8"/>
<rect x="54.3" y="112.2" width="1.35" height="2" fill="#e8d2b8"/>
<rect x="55.6" y="112.2" width="1.35" height="2" fill="#c3e0bd"/>
<rect x="56.9" y="112.2" width="1.35" height="2" fill="#d8ead0"/>
<rect x="58.2" y="112.2" width="1.35" height="2" fill="#c3e0bd"/>
<rect x="59.5" y="112.2" width="1.35" height="2" fill="#e8d2b8"/>
<rect x="60.8" y="112.2" width="1.35" height="2" fill="#c3e0bd"/>
<rect x="62.1" y="112.2" width="1.35" height="2" fill="#e8d2b8"/>
<rect x="63.4" y="112.2" width="1.35" height="2" fill="#cfe5c9"/>
<rect x="64.7" y="112.2" width="1.35" height="2" fill="#e8d2b8"/>
<rect x="66" y="112.2" width="1.35" height="2" fill="#e8d2b8"/>
<rect x="67.3" y="112.2" width="1.35" height="2" fill="#d8ead0"/>
<rect x="68.6" y="112.2" width="1.35" height="2" fill="#cfe5c9"/>
<rect x="69.9" y="112.2" width="1.35" height="2" fill="#c3e0bd"/>
<rect x="71.2" y="112.2" width="1.35" height="2" fill="#e8d2b8"/>
<rect x="33.5" y="114.2" width="1.35" height="2.2" fill="#b2dcaa"/>
<rect x="34.8" y="114.2" width="1.35" height="2.2" fill="#a9d8a3"/>
<rect x="36.1" y="114.2" width="1.35" height="2.2" fill="#c1e2b0"/>
<rect x="37.4" y="114.2" width="1.35" height="2.2" fill="#b2dcaa"/>
<rect x="38.7" y="114.2" width="1.35" height="2.2" fill="#a9d8a3"/>
<rect x="40" y="114.2" width="1.35" height="2.2" fill="#c1e2b0"/>
<rect x="41.3" y="114.2" width="1.35" height="2.2" fill="#a9d8a3"/>
<rect x="42.6" y="114.2" width="1.35" height="2.2" fill="#c1e2b0"/>
<rect x="43.9" y="114.2" width="1.35" height="2.2" fill="#a9d8a3"/>
<rect x="45.2" y="114.2" width="1.35" height="2.2" fill="#e2c29a"/>
<rect x="46.5" y="114.2" width="1.35" height="2.2" fill="#a9d8a3"/>
<rect x="47.8" y="114.2" width="1.35" height="2.2" fill="#b2dcaa"/>
<rect x="49.1" y="114.2" width="1.35" height="2.2" fill="#e2c29a"/>
<rect x="50.4" y="114.2" width="1.35" height="2.2" fill="#e2c29a"/>
<rect x="51.7" y="114.2" width="1.35" height="2.2" fill="#a9d8a3"/>
<rect x="53" y="114.2" width="1.35" height="2.2" fill="#a9d8a3"/>
<rect x="54.3" y="114.2" width="1.35" height="2.2" fill="#a9d8a3"/>
<rect x="55.6" y="114.2" width="1.35" height="2.2" fill="#e2c29a"/>
<rect x="56.9" y="114.2" width="1.35" height="2.2" fill="#e2c29a"/>
<rect x="58.2" y="114.2" width="1.35" height="2.2" fill="#c1e2b0"/>
<rect x="59.5" y="114.2" width="1.35" height="2.2" fill="#e2c29a"/>
<rect x="60.8" y="114.2" width="1.35" height="2.2" fill="#a9d8a3"/>
<rect x="62.1" y="114.2" width="1.35" height="2.2" fill="#c1e2b0"/>
<rect x="63.4" y="114.2" width="1.35" height="2.2" fill="#c1e2b0"/>
<rect x="64.7" y="114.2" width="1.35" height="2.2" fill="#b2dcaa"/>
<rect x="66" y="114.2" width="1.35" height="2.2" fill="#c1e2b0"/>
<rect x="67.3" y="114.2" width="1.35" height="2.2" fill="#b2dcaa"/>
<rect x="68.6" y="114.2" width="1.35" height="2.2" fill="#c1e2b0"/>
<rect x="69.9" y="114.2" width="1.35" height="2.2" fill="#e2c29a"/>
<rect x="71.2" y="114.2" width="1.35" height="2.2" fill="#e2c29a"/>
<rect x="33.5" y="116.4" width="1.35" height="2" fill="#a2d8a2"/>
<rect x="34.8" y="116.4" width="1.35" height="2" fill="#97d49c"/>
<rect x="36.1" y="116.4" width="1.35" height="2" fill="#8fd097"/>
<rect x="37.4" y="116.4" width="1.35" height="2" fill="#8fd097"/>
<rect x="38.7" y="116.4" width="1.35" height="2" fill="#a2d8a2"/>
<rect x="40" y="116.4" width="1.35" height="2" fill="#a2d8a2"/>
<rect x="41.3" y="116.4" width="1.35" height="2" fill="#8fd097"/>
<rect x="42.6" y="116.4" width="1.35" height="2" fill="#a2d8a2"/>
<rect x="43.9" y="116.4" width="1.35" height="2" fill="#97d49c"/>
<rect x="45.2" y="116.4" width="1.35" height="2" fill="#97d49c"/>
<rect x="46.5" y="116.4" width="1.35" height="2" fill="#97d49c"/>
<rect x="47.8" y="116.4" width="1.35" height="2" fill="#97d49c"/>
<rect x="49.1" y="116.4" width="1.35" height="2" fill="#97d49c"/>
<rect x="50.4" y="116.4" width="1.35" height="2" fill="#8fd097"/>
<rect x="51.7" y="116.4" width="1.35" height="2" fill="#8fd097"/>
<rect x="53" y="116.4" width="1.35" height="2" fill="#97d49c"/>
<rect x="54.3" y="116.4" width="1.35" height="2" fill="#97d49c"/>
<rect x="55.6" y="116.4" width="1.35" height="2" fill="#8fd097"/>
<rect x="56.9" y="116.4" width="1.35" height="2" fill="#97d49c"/>
<rect x="58.2" y="116.4" width="1.35" height="2" fill="#8fd097"/>
<rect x="59.5" y="116.4" width="1.35" height="2" fill="#a2d8a2"/>
<rect x="60.8" y="116.4" width="1.35" height="2" fill="#8fd097"/>
<rect x="62.1" y="116.4" width="1.35" height="2" fill="#8fd097"/>
<rect x="63.4" y="116.4" width="1.35" height="2" fill="#97d49c"/>
<rect x="64.7" y="116.4" width="1.35" height="2" fill="#a2d8a2"/>
<rect x="66" y="116.4" width="1.35" height="2" fill="#a2d8a2"/>
<rect x="67.3" y="116.4" width="1.35" height="2" fill="#a2d8a2"/>
<rect x="68.6" y="116.4" width="1.35" height="2" fill="#8fd097"/>
<rect x="69.9" y="116.4" width="1.35" height="2" fill="#a2d8a2"/>
<rect x="71.2" y="116.4" width="1.35" height="2" fill="#8fd097"/>
<rect x="33.5" y="118.4" width="1.35" height="1.8" fill="#7cc79a"/>
<rect x="34.8" y="118.4" width="1.35" height="1.8" fill="#74c295"/>
<rect x="36.1" y="118.4" width="1.35" height="1.8" fill="#7cc79a"/>
<rect x="37.4" y="118.4" width="1.35" height="1.8" fill="#86cc9c"/>
<rect x="38.7" y="118.4" width="1.35" height="1.8" fill="#7cc79a"/>
<rect x="40" y="118.4" width="1.35" height="1.8" fill="#74c295"/>
<rect x="41.3" y="118.4" width="1.35" height="1.8" fill="#7cc79a"/>
<rect x="42.6" y="118.4" width="1.35" height="1.8" fill="#74c295"/>
<rect x="43.9" y="118.4" width="1.35" height="1.8" fill="#7cc79a"/>
<rect x="45.2" y="118.4" width="1.35" height="1.8" fill="#86cc9c"/>
<rect x="46.5" y="118.4" width="1.35" height="1.8" fill="#7cc79a"/>
<rect x="47.8" y="118.4" width="1.35" height="1.8" fill="#74c295"/>
<rect x="49.1" y="118.4" width="1.35" height="1.8" fill="#7cc79a"/>
<rect x="50.4" y="118.4" width="1.35" height="1.8" fill="#86cc9c"/>
<rect x="51.7" y="118.4" width="1.35" height="1.8" fill="#7cc79a"/>
<rect x="53" y="118.4" width="1.35" height="1.8" fill="#7cc79a"/>
<rect x="54.3" y="118.4" width="1.35" height="1.8" fill="#74c295"/>
<rect x="55.6" y="118.4" width="1.35" height="1.8" fill="#7cc79a"/>
<rect x="56.9" y="118.4" width="1.35" height="1.8" fill="#74c295"/>
<rect x="58.2" y="118.4" width="1.35" height="1.8" fill="#7cc79a"/>
<rect x="59.5" y="118.4" width="1.35" height="1.8" fill="#74c295"/>
<rect x="60.8" y="118.4" width="1.35" height="1.8" fill="#86cc9c"/>
<rect x="62.1" y="118.4" width="1.35" height="1.8" fill="#74c295"/>
<rect x="63.4" y="118.4" width="1.35" height="1.8" fill="#74c295"/>
<rect x="64.7" y="118.4" width="1.35" height="1.8" fill="#86cc9c"/>
<rect x="66" y="118.4" width="1.35" height="1.8" fill="#7cc79a"/>
<rect x="67.3" y="118.4" width="1.35" height="1.8" fill="#7cc79a"/>
<rect x="68.6" y="118.4" width="1.35" height="1.8" fill="#86cc9c"/>
<rect x="69.9" y="118.4" width="1.35" height="1.8" fill="#86cc9c"/>
<rect x="71.2" y="118.4" width="1.35" height="1.8" fill="#7cc79a"/>
<rect x="33.5" y="120.2" width="19.5" height="0.9" fill="#5a72c4"/>
<rect x="53" y="120.2" width="19.5" height="0.9" fill="#e0b4c8"/>
<rect x="33.5" y="121.1" width="1.35" height="1.88" fill="#e58fad"/>
<rect x="34.8" y="121.1" width="1.35" height="1.88" fill="#8f86ee"/>
<rect x="36.1" y="121.1" width="1.35" height="1.88" fill="#f19bb9"/>
<rect x="37.4" y="121.1" width="1.35" height="1.88" fill="#ffa9c7"/>
<rect x="38.7" y="121.1" width="1.35" height="1.88" fill="#f09ab8"/>
<rect x="40" y="121.1" width="1.35" height="1.88" fill="#e993b1"/>
<rect x="41.3" y="121.1" width="1.35" height="1.88" fill="#df89a7"/>
<rect x="42.6" y="121.1" width="1.35" height="1.88" fill="#f8f0f6"/>
<rect x="43.9" y="121.1" width="1.35" height="1.88" fill="#fea8c6"/>
<rect x="45.2" y="121.1" width="1.35" height="1.88" fill="#ea94b2"/>
<rect x="46.5" y="121.1" width="1.35" height="1.88" fill="#ed97b5"/>
<rect x="47.8" y="121.1" width="1.35" height="1.88" fill="#e48eac"/>
<rect x="49.1" y="121.1" width="1.35" height="1.88" fill="#f9a3c1"/>
<rect x="50.4" y="121.1" width="1.35" height="1.88" fill="#ffaac8"/>
<rect x="51.7" y="121.1" width="1.35" height="1.88" fill="#f7a1bf"/>
<rect x="53" y="121.1" width="1.35" height="1.88" fill="#f19bb9"/>
<rect x="54.3" y="121.1" width="1.35" height="1.88" fill="#ec96b4"/>
<rect x="55.6" y="121.1" width="1.35" height="1.88" fill="#e690ae"/>
<rect x="56.9" y="121.1" width="1.35" height="1.88" fill="#f49ebc"/>
<rect x="58.2" y="121.1" width="1.35" height="1.88" fill="#f8f0f6"/>
<rect x="59.5" y="121.1" width="1.35" height="1.88" fill="#ee98b6"/>
<rect x="60.8" y="121.1" width="1.35" height="1.88" fill="#f29cc0"/>
<rect x="62.1" y="121.1" width="1.35" height="1.88" fill="#fea8c6"/>
<rect x="63.4" y="121.1" width="1.35" height="1.88" fill="#f09ab8"/>
<rect x="64.7" y="121.1" width="1.35" height="1.88" fill="#8f86ee"/>
<rect x="66" y="121.1" width="1.35" height="1.88" fill="#e892b0"/>
<rect x="67.3" y="121.1" width="1.35" height="1.88" fill="#de88a6"/>
<rect x="68.6" y="121.1" width="1.35" height="1.88" fill="#f39dbb"/>
<rect x="69.9" y="121.1" width="1.35" height="1.88" fill="#ffabc9"/>
<rect x="71.2" y="121.1" width="1.35" height="1.88" fill="#e08aa8"/>
<rect x="33.5" y="122.92" width="1.35" height="1.88" fill="#f8f1f7"/>
<rect x="34.8" y="122.92" width="1.35" height="1.88" fill="#f29cc0"/>
<rect x="36.1" y="122.92" width="1.35" height="1.88" fill="#eae3e9"/>
<rect x="37.4" y="122.92" width="1.35" height="1.88" fill="#fffeff"/>
<rect x="38.7" y="122.92" width="1.35" height="1.88" fill="#f4edf3"/>
<rect x="40" y="122.92" width="1.35" height="1.88" fill="#8f86ee"/>
<rect x="41.3" y="122.92" width="1.35" height="1.88" fill="#eee7ed"/>
<rect x="42.6" y="122.92" width="1.35" height="1.88" fill="#e7e0e6"/>
<rect x="43.9" y="122.92" width="1.35" height="1.88" fill="#f8f1f7"/>
<rect x="45.2" y="122.92" width="1.35" height="1.88" fill="#f8f0f6"/>
<rect x="46.5" y="122.92" width="1.35" height="1.88" fill="#eee7ed"/>
<rect x="47.8" y="122.92" width="1.35" height="1.88" fill="#fdf6fc"/>
<rect x="49.1" y="122.92" width="1.35" height="1.88" fill="#fffdff"/>
<rect x="50.4" y="122.92" width="1.35" height="1.88" fill="#f8f0f6"/>
<rect x="51.7" y="122.92" width="1.35" height="1.88" fill="#fffeff"/>
<rect x="53" y="122.92" width="1.35" height="1.88" fill="#fffeff"/>
<rect x="54.3" y="122.92" width="1.35" height="1.88" fill="#ffffff"/>
<rect x="55.6" y="122.92" width="1.35" height="1.88" fill="#ffffff"/>
<rect x="56.9" y="122.92" width="1.35" height="1.88" fill="#e6dfe5"/>
<rect x="58.2" y="122.92" width="1.35" height="1.88" fill="#8f86ee"/>
<rect x="59.5" y="122.92" width="1.35" height="1.88" fill="#ede6ec"/>
<rect x="60.8" y="122.92" width="1.35" height="1.88" fill="#ebe4ea"/>
<rect x="62.1" y="122.92" width="1.35" height="1.88" fill="#fffaff"/>
<rect x="63.4" y="122.92" width="1.35" height="1.88" fill="#e6dfe5"/>
<rect x="64.7" y="122.92" width="1.35" height="1.88" fill="#f4edf3"/>
<rect x="66" y="122.92" width="1.35" height="1.88" fill="#e5dee4"/>
<rect x="67.3" y="122.92" width="1.35" height="1.88" fill="#e9e2e8"/>
<rect x="68.6" y="122.92" width="1.35" height="1.88" fill="#fffeff"/>
<rect x="69.9" y="122.92" width="1.35" height="1.88" fill="#eae3e9"/>
<rect x="71.2" y="122.92" width="1.35" height="1.88" fill="#e9e2e8"/>
<rect x="33.5" y="124.75" width="1.35" height="1.88" fill="#a69bfc"/>
<rect x="34.8" y="124.75" width="1.35" height="1.88" fill="#8c81e2"/>
<rect x="36.1" y="124.75" width="1.35" height="1.88" fill="#978ced"/>
<rect x="37.4" y="124.75" width="1.35" height="1.88" fill="#958aeb"/>
<rect x="38.7" y="124.75" width="1.35" height="1.88" fill="#a59afb"/>
<rect x="40" y="124.75" width="1.35" height="1.88" fill="#f8f0f6"/>
<rect x="41.3" y="124.75" width="1.35" height="1.88" fill="#9a8ff0"/>
<rect x="42.6" y="124.75" width="1.35" height="1.88" fill="#8f86ee"/>
<rect x="43.9" y="124.75" width="1.35" height="1.88" fill="#9d92f3"/>
<rect x="45.2" y="124.75" width="1.35" height="1.88" fill="#9b90f1"/>
<rect x="46.5" y="124.75" width="1.35" height="1.88" fill="#8f86ee"/>
<rect x="47.8" y="124.75" width="1.35" height="1.88" fill="#a79cfd"/>
<rect x="49.1" y="124.75" width="1.35" height="1.88" fill="#8e83e4"/>
<rect x="50.4" y="124.75" width="1.35" height="1.88" fill="#a79cfd"/>
<rect x="51.7" y="124.75" width="1.35" height="1.88" fill="#a99eff"/>
<rect x="53" y="124.75" width="1.35" height="1.88" fill="#a59afb"/>
<rect x="54.3" y="124.75" width="1.35" height="1.88" fill="#8f84e5"/>
<rect x="55.6" y="124.75" width="1.35" height="1.88" fill="#aba0ff"/>
<rect x="56.9" y="124.75" width="1.35" height="1.88" fill="#8d82e3"/>
<rect x="58.2" y="124.75" width="1.35" height="1.88" fill="#897edf"/>
<rect x="59.5" y="124.75" width="1.35" height="1.88" fill="#8c81e2"/>
<rect x="60.8" y="124.75" width="1.35" height="1.88" fill="#a499fa"/>
<rect x="62.1" y="124.75" width="1.35" height="1.88" fill="#a095f6"/>
<rect x="63.4" y="124.75" width="1.35" height="1.88" fill="#8f86ee"/>
<rect x="64.7" y="124.75" width="1.35" height="1.88" fill="#9186e7"/>
<rect x="66" y="124.75" width="1.35" height="1.88" fill="#988dee"/>
<rect x="67.3" y="124.75" width="1.35" height="1.88" fill="#9085e6"/>
<rect x="68.6" y="124.75" width="1.35" height="1.88" fill="#a89dfe"/>
<rect x="69.9" y="124.75" width="1.35" height="1.88" fill="#8f84e5"/>
<rect x="71.2" y="124.75" width="1.35" height="1.88" fill="#968bec"/>
<rect x="33.5" y="126.58" width="1.35" height="1.88" fill="#ffb3d1"/>
<rect x="34.8" y="126.58" width="1.35" height="1.88" fill="#f29cc0"/>
<rect x="36.1" y="126.58" width="1.35" height="1.88" fill="#feb0ce"/>
<rect x="37.4" y="126.58" width="1.35" height="1.88" fill="#eb9dbb"/>
<rect x="38.7" y="126.58" width="1.35" height="1.88" fill="#faacca"/>
<rect x="40" y="126.58" width="1.35" height="1.88" fill="#f29cc0"/>
<rect x="41.3" y="126.58" width="1.35" height="1.88" fill="#fbadcb"/>
<rect x="42.6" y="126.58" width="1.35" height="1.88" fill="#eea0be"/>
<rect x="43.9" y="126.58" width="1.35" height="1.88" fill="#f4a6c4"/>
<rect x="45.2" y="126.58" width="1.35" height="1.88" fill="#e698b6"/>
<rect x="46.5" y="126.58" width="1.35" height="1.88" fill="#e698b6"/>
<rect x="47.8" y="126.58" width="1.35" height="1.88" fill="#fdafcd"/>
<rect x="49.1" y="126.58" width="1.35" height="1.88" fill="#e597b5"/>
<rect x="50.4" y="126.58" width="1.35" height="1.88" fill="#e597b5"/>
<rect x="51.7" y="126.58" width="1.35" height="1.88" fill="#f4a6c4"/>
<rect x="53" y="126.58" width="1.35" height="1.88" fill="#eb9dbb"/>
<rect x="54.3" y="126.58" width="1.35" height="1.88" fill="#f3a5c3"/>
<rect x="55.6" y="126.58" width="1.35" height="1.88" fill="#f6a8c6"/>
<rect x="56.9" y="126.58" width="1.35" height="1.88" fill="#f9abc9"/>
<rect x="58.2" y="126.58" width="1.35" height="1.88" fill="#fdafcd"/>
<rect x="59.5" y="126.58" width="1.35" height="1.88" fill="#fbadcb"/>
<rect x="60.8" y="126.58" width="1.35" height="1.88" fill="#ffb7d5"/>
<rect x="62.1" y="126.58" width="1.35" height="1.88" fill="#f8f0f6"/>
<rect x="63.4" y="126.58" width="1.35" height="1.88" fill="#fcaecc"/>
<rect x="64.7" y="126.58" width="1.35" height="1.88" fill="#ea9cba"/>
<rect x="66" y="126.58" width="1.35" height="1.88" fill="#f4a6c4"/>
<rect x="67.3" y="126.58" width="1.35" height="1.88" fill="#ffb7d5"/>
<rect x="68.6" y="126.58" width="1.35" height="1.88" fill="#ffb2d0"/>
<rect x="69.9" y="126.58" width="1.35" height="1.88" fill="#f4a6c4"/>
<rect x="71.2" y="126.58" width="1.35" height="1.88" fill="#f2a4c2"/>
<rect x="33.5" y="128.4" width="1.35" height="1.88" fill="#dfd5f3"/>
<rect x="34.8" y="128.4" width="1.35" height="1.88" fill="#f3e9ff"/>
<rect x="36.1" y="128.4" width="1.35" height="1.88" fill="#d7cdeb"/>
<rect x="37.4" y="128.4" width="1.35" height="1.88" fill="#f8f0f6"/>
<rect x="38.7" y="128.4" width="1.35" height="1.88" fill="#efe5ff"/>
<rect x="40" y="128.4" width="1.35" height="1.88" fill="#ece2ff"/>
<rect x="41.3" y="128.4" width="1.35" height="1.88" fill="#ece2ff"/>
<rect x="42.6" y="128.4" width="1.35" height="1.88" fill="#f3e9ff"/>
<rect x="43.9" y="128.4" width="1.35" height="1.88" fill="#d5cbe9"/>
<rect x="45.2" y="128.4" width="1.35" height="1.88" fill="#8f86ee"/>
<rect x="46.5" y="128.4" width="1.35" height="1.88" fill="#e7ddfb"/>
<rect x="47.8" y="128.4" width="1.35" height="1.88" fill="#f4eaff"/>
<rect x="49.1" y="128.4" width="1.35" height="1.88" fill="#d1c7e5"/>
<rect x="50.4" y="128.4" width="1.35" height="1.88" fill="#eae0fe"/>
<rect x="51.7" y="128.4" width="1.35" height="1.88" fill="#f1e7ff"/>
<rect x="53" y="128.4" width="1.35" height="1.88" fill="#e1d7f5"/>
<rect x="54.3" y="128.4" width="1.35" height="1.88" fill="#d3c9e7"/>
<rect x="55.6" y="128.4" width="1.35" height="1.88" fill="#f4eaff"/>
<rect x="56.9" y="128.4" width="1.35" height="1.88" fill="#d8ceec"/>
<rect x="58.2" y="128.4" width="1.35" height="1.88" fill="#f1e7ff"/>
<rect x="59.5" y="128.4" width="1.35" height="1.88" fill="#8f86ee"/>
<rect x="60.8" y="128.4" width="1.35" height="1.88" fill="#e8defc"/>
<rect x="62.1" y="128.4" width="1.35" height="1.88" fill="#ece2ff"/>
<rect x="63.4" y="128.4" width="1.35" height="1.88" fill="#e3d9f7"/>
<rect x="64.7" y="128.4" width="1.35" height="1.88" fill="#d1c7e5"/>
<rect x="66" y="128.4" width="1.35" height="1.88" fill="#ebe1ff"/>
<rect x="67.3" y="128.4" width="1.35" height="1.88" fill="#eee4ff"/>
<rect x="68.6" y="128.4" width="1.35" height="1.88" fill="#f29cc0"/>
<rect x="69.9" y="128.4" width="1.35" height="1.88" fill="#f1e7ff"/>
<rect x="71.2" y="128.4" width="1.35" height="1.88" fill="#ece2ff"/>
<rect x="33.5" y="130.22" width="1.35" height="1.88" fill="#e690b4"/>
<rect x="34.8" y="130.22" width="1.35" height="1.88" fill="#e993b7"/>
<rect x="36.1" y="130.22" width="1.35" height="1.88" fill="#e690b4"/>
<rect x="37.4" y="130.22" width="1.35" height="1.88" fill="#8f86ee"/>
<rect x="38.7" y="130.22" width="1.35" height="1.88" fill="#e08aae"/>
<rect x="40" y="130.22" width="1.35" height="1.88" fill="#ee98bc"/>
<rect x="41.3" y="130.22" width="1.35" height="1.88" fill="#e28cb0"/>
<rect x="42.6" y="130.22" width="1.35" height="1.88" fill="#f39dc1"/>
<rect x="43.9" y="130.22" width="1.35" height="1.88" fill="#f09abe"/>
<rect x="45.2" y="130.22" width="1.35" height="1.88" fill="#fba5c9"/>
<rect x="46.5" y="130.22" width="1.35" height="1.88" fill="#f29cc0"/>
<rect x="47.8" y="130.22" width="1.35" height="1.88" fill="#ffabcf"/>
<rect x="49.1" y="130.22" width="1.35" height="1.88" fill="#ec96ba"/>
<rect x="50.4" y="130.22" width="1.35" height="1.88" fill="#ee98bc"/>
<rect x="51.7" y="130.22" width="1.35" height="1.88" fill="#f29cc0"/>
<rect x="53" y="130.22" width="1.35" height="1.88" fill="#fda7cb"/>
<rect x="54.3" y="130.22" width="1.35" height="1.88" fill="#f49ec2"/>
<rect x="55.6" y="130.22" width="1.35" height="1.88" fill="#ef99bd"/>
<rect x="56.9" y="130.22" width="1.35" height="1.88" fill="#ef99bd"/>
<rect x="58.2" y="130.22" width="1.35" height="1.88" fill="#e18baf"/>
<rect x="59.5" y="130.22" width="1.35" height="1.88" fill="#8f86ee"/>
<rect x="60.8" y="130.22" width="1.35" height="1.88" fill="#ffa9cd"/>
<rect x="62.1" y="130.22" width="1.35" height="1.88" fill="#8f86ee"/>
<rect x="63.4" y="130.22" width="1.35" height="1.88" fill="#fba5c9"/>
<rect x="64.7" y="130.22" width="1.35" height="1.88" fill="#ee98bc"/>
<rect x="66" y="130.22" width="1.35" height="1.88" fill="#f59fc3"/>
<rect x="67.3" y="130.22" width="1.35" height="1.88" fill="#f7a1c5"/>
<rect x="68.6" y="130.22" width="1.35" height="1.88" fill="#f29cc0"/>
<rect x="69.9" y="130.22" width="1.35" height="1.88" fill="#f29cc0"/>
<rect x="71.2" y="130.22" width="1.35" height="1.88" fill="#ec96ba"/>
<rect x="33.5" y="132.05" width="1.35" height="1.88" fill="#b1a0ec"/>
<rect x="34.8" y="132.05" width="1.35" height="1.88" fill="#b3a2ee"/>
<rect x="36.1" y="132.05" width="1.35" height="1.88" fill="#f8f0f6"/>
<rect x="37.4" y="132.05" width="1.35" height="1.88" fill="#c4b3ff"/>
<rect x="38.7" y="132.05" width="1.35" height="1.88" fill="#b3a2ee"/>
<rect x="40" y="132.05" width="1.35" height="1.88" fill="#a897e3"/>
<rect x="41.3" y="132.05" width="1.35" height="1.88" fill="#ae9de9"/>
<rect x="42.6" y="132.05" width="1.35" height="1.88" fill="#a897e3"/>
<rect x="43.9" y="132.05" width="1.35" height="1.88" fill="#ae9de9"/>
<rect x="45.2" y="132.05" width="1.35" height="1.88" fill="#a897e3"/>
<rect x="46.5" y="132.05" width="1.35" height="1.88" fill="#c1b0fc"/>
<rect x="47.8" y="132.05" width="1.35" height="1.88" fill="#b9a8f4"/>
<rect x="49.1" y="132.05" width="1.35" height="1.88" fill="#aa99e5"/>
<rect x="50.4" y="132.05" width="1.35" height="1.88" fill="#baa9f5"/>
<rect x="51.7" y="132.05" width="1.35" height="1.88" fill="#c6b5ff"/>
<rect x="53" y="132.05" width="1.35" height="1.88" fill="#a796e2"/>
<rect x="54.3" y="132.05" width="1.35" height="1.88" fill="#bdacf8"/>
<rect x="55.6" y="132.05" width="1.35" height="1.88" fill="#baa9f5"/>
<rect x="56.9" y="132.05" width="1.35" height="1.88" fill="#f29cc0"/>
<rect x="58.2" y="132.05" width="1.35" height="1.88" fill="#aa99e5"/>
<rect x="59.5" y="132.05" width="1.35" height="1.88" fill="#ac9be7"/>
<rect x="60.8" y="132.05" width="1.35" height="1.88" fill="#b2a1ed"/>
<rect x="62.1" y="132.05" width="1.35" height="1.88" fill="#b8a7f3"/>
<rect x="63.4" y="132.05" width="1.35" height="1.88" fill="#f8f0f6"/>
<rect x="64.7" y="132.05" width="1.35" height="1.88" fill="#c3b2fe"/>
<rect x="66" y="132.05" width="1.35" height="1.88" fill="#c7b6ff"/>
<rect x="67.3" y="132.05" width="1.35" height="1.88" fill="#b1a0ec"/>
<rect x="68.6" y="132.05" width="1.35" height="1.88" fill="#f29cc0"/>
<rect x="69.9" y="132.05" width="1.35" height="1.88" fill="#b4a3ef"/>
<rect x="71.2" y="132.05" width="1.35" height="1.88" fill="#8f86ee"/>
<rect x="33.5" y="133.87" width="1.35" height="1.88" fill="#8f86ee"/>
<rect x="34.8" y="133.87" width="1.35" height="1.88" fill="#f5e4ee"/>
<rect x="36.1" y="133.87" width="1.35" height="1.88" fill="#e9d8e2"/>
<rect x="37.4" y="133.87" width="1.35" height="1.88" fill="#fae9f3"/>
<rect x="38.7" y="133.87" width="1.35" height="1.88" fill="#fae9f3"/>
<rect x="40" y="133.87" width="1.35" height="1.88" fill="#e7d6e0"/>
<rect x="41.3" y="133.87" width="1.35" height="1.88" fill="#f9e8f2"/>
<rect x="42.6" y="133.87" width="1.35" height="1.88" fill="#f8f0f6"/>
<rect x="43.9" y="133.87" width="1.35" height="1.88" fill="#8f86ee"/>
<rect x="45.2" y="133.87" width="1.35" height="1.88" fill="#ebdae4"/>
<rect x="46.5" y="133.87" width="1.35" height="1.88" fill="#fff1fb"/>
<rect x="47.8" y="133.87" width="1.35" height="1.88" fill="#fdecf6"/>
<rect x="49.1" y="133.87" width="1.35" height="1.88" fill="#ffeff9"/>
<rect x="50.4" y="133.87" width="1.35" height="1.88" fill="#eddce6"/>
<rect x="51.7" y="133.87" width="1.35" height="1.88" fill="#f8f0f6"/>
<rect x="53" y="133.87" width="1.35" height="1.88" fill="#f8e7f1"/>
<rect x="54.3" y="133.87" width="1.35" height="1.88" fill="#eedde7"/>
<rect x="55.6" y="133.87" width="1.35" height="1.88" fill="#f9e8f2"/>
<rect x="56.9" y="133.87" width="1.35" height="1.88" fill="#fff1fb"/>
<rect x="58.2" y="133.87" width="1.35" height="1.88" fill="#ead9e3"/>
<rect x="59.5" y="133.87" width="1.35" height="1.88" fill="#feedf7"/>
<rect x="60.8" y="133.87" width="1.35" height="1.88" fill="#f4e3ed"/>
<rect x="62.1" y="133.87" width="1.35" height="1.88" fill="#e7d6e0"/>
<rect x="63.4" y="133.87" width="1.35" height="1.88" fill="#fff6ff"/>
<rect x="64.7" y="133.87" width="1.35" height="1.88" fill="#ffeff9"/>
<rect x="66" y="133.87" width="1.35" height="1.88" fill="#e9d8e2"/>
<rect x="67.3" y="133.87" width="1.35" height="1.88" fill="#ead9e3"/>
<rect x="68.6" y="133.87" width="1.35" height="1.88" fill="#ffeef8"/>
<rect x="69.9" y="133.87" width="1.35" height="1.88" fill="#fff0fa"/>
<rect x="71.2" y="133.87" width="1.35" height="1.88" fill="#eddce6"/>
<rect x="33.5" y="135.7" width="1.35" height="1.88" fill="#ef9dbc"/>
<rect x="34.8" y="135.7" width="1.35" height="1.88" fill="#e795b4"/>
<rect x="36.1" y="135.7" width="1.35" height="1.88" fill="#f2a0bf"/>
<rect x="37.4" y="135.7" width="1.35" height="1.88" fill="#ffb2d1"/>
<rect x="38.7" y="135.7" width="1.35" height="1.88" fill="#f09ebd"/>
<rect x="40" y="135.7" width="1.35" height="1.88" fill="#ec9ab9"/>
<rect x="41.3" y="135.7" width="1.35" height="1.88" fill="#eb99b8"/>
<rect x="42.6" y="135.7" width="1.35" height="1.88" fill="#e997b6"/>
<rect x="43.9" y="135.7" width="1.35" height="1.88" fill="#ec9ab9"/>
<rect x="45.2" y="135.7" width="1.35" height="1.88" fill="#f9a7c6"/>
<rect x="46.5" y="135.7" width="1.35" height="1.88" fill="#ef9dbc"/>
<rect x="47.8" y="135.7" width="1.35" height="1.88" fill="#ee9cbb"/>
<rect x="49.1" y="135.7" width="1.35" height="1.88" fill="#e694b3"/>
<rect x="50.4" y="135.7" width="1.35" height="1.88" fill="#f29cc0"/>
<rect x="51.7" y="135.7" width="1.35" height="1.88" fill="#ee9cbb"/>
<rect x="53" y="135.7" width="1.35" height="1.88" fill="#f29cc0"/>
<rect x="54.3" y="135.7" width="1.35" height="1.88" fill="#8f86ee"/>
<rect x="55.6" y="135.7" width="1.35" height="1.88" fill="#ec9ab9"/>
<rect x="56.9" y="135.7" width="1.35" height="1.88" fill="#f7a5c4"/>
<rect x="58.2" y="135.7" width="1.35" height="1.88" fill="#eb99b8"/>
<rect x="59.5" y="135.7" width="1.35" height="1.88" fill="#f09ebd"/>
<rect x="60.8" y="135.7" width="1.35" height="1.88" fill="#f8f0f6"/>
<rect x="62.1" y="135.7" width="1.35" height="1.88" fill="#f6a4c3"/>
<rect x="63.4" y="135.7" width="1.35" height="1.88" fill="#f7a5c4"/>
<rect x="64.7" y="135.7" width="1.35" height="1.88" fill="#e290af"/>
<rect x="66" y="135.7" width="1.35" height="1.88" fill="#f8f0f6"/>
<rect x="67.3" y="135.7" width="1.35" height="1.88" fill="#ed9bba"/>
<rect x="68.6" y="135.7" width="1.35" height="1.88" fill="#f4a2c1"/>
<rect x="69.9" y="135.7" width="1.35" height="1.88" fill="#f7a5c4"/>
<rect x="71.2" y="135.7" width="1.35" height="1.88" fill="#8f86ee"/>
<rect x="33.5" y="137.52" width="1.35" height="1.88" fill="#b1a3fd"/>
<rect x="34.8" y="137.52" width="1.35" height="1.88" fill="#9688e2"/>
<rect x="36.1" y="137.52" width="1.35" height="1.88" fill="#ab9df7"/>
<rect x="37.4" y="137.52" width="1.35" height="1.88" fill="#9b8de7"/>
<rect x="38.7" y="137.52" width="1.35" height="1.88" fill="#9789e3"/>
<rect x="40" y="137.52" width="1.35" height="1.88" fill="#ab9df7"/>
<rect x="41.3" y="137.52" width="1.35" height="1.88" fill="#ac9ef8"/>
<rect x="42.6" y="137.52" width="1.35" height="1.88" fill="#a597f1"/>
<rect x="43.9" y="137.52" width="1.35" height="1.88" fill="#9587e1"/>
<rect x="45.2" y="137.52" width="1.35" height="1.88" fill="#b6a8ff"/>
<rect x="46.5" y="137.52" width="1.35" height="1.88" fill="#ac9ef8"/>
<rect x="47.8" y="137.52" width="1.35" height="1.88" fill="#a99bf5"/>
<rect x="49.1" y="137.52" width="1.35" height="1.88" fill="#ab9df7"/>
<rect x="50.4" y="137.52" width="1.35" height="1.88" fill="#9f91eb"/>
<rect x="51.7" y="137.52" width="1.35" height="1.88" fill="#ad9ff9"/>
<rect x="53" y="137.52" width="1.35" height="1.88" fill="#8f86ee"/>
<rect x="54.3" y="137.52" width="1.35" height="1.88" fill="#ab9df7"/>
<rect x="55.6" y="137.52" width="1.35" height="1.88" fill="#a99bf5"/>
<rect x="56.9" y="137.52" width="1.35" height="1.88" fill="#9c8ee8"/>
<rect x="58.2" y="137.52" width="1.35" height="1.88" fill="#9587e1"/>
<rect x="59.5" y="137.52" width="1.35" height="1.88" fill="#f8f0f6"/>
<rect x="60.8" y="137.52" width="1.35" height="1.88" fill="#a99bf5"/>
<rect x="62.1" y="137.52" width="1.35" height="1.88" fill="#9c8ee8"/>
<rect x="63.4" y="137.52" width="1.35" height="1.88" fill="#a496f0"/>
<rect x="64.7" y="137.52" width="1.35" height="1.88" fill="#9c8ee8"/>
<rect x="66" y="137.52" width="1.35" height="1.88" fill="#988ae4"/>
<rect x="67.3" y="137.52" width="1.35" height="1.88" fill="#9e90ea"/>
<rect x="68.6" y="137.52" width="1.35" height="1.88" fill="#9486e0"/>
<rect x="69.9" y="137.52" width="1.35" height="1.88" fill="#b0a2fc"/>
<rect x="71.2" y="137.52" width="1.35" height="1.88" fill="#f8f0f6"/>
<rect x="33.5" y="139.35" width="1.35" height="1.88" fill="#ecdcea"/>
<rect x="34.8" y="139.35" width="1.35" height="1.88" fill="#f0e0ee"/>
<rect x="36.1" y="139.35" width="1.35" height="1.88" fill="#eedeec"/>
<rect x="37.4" y="139.35" width="1.35" height="1.88" fill="#edddeb"/>
<rect x="38.7" y="139.35" width="1.35" height="1.88" fill="#e4d4e2"/>
<rect x="40" y="139.35" width="1.35" height="1.88" fill="#fff3ff"/>
<rect x="41.3" y="139.35" width="1.35" height="1.88" fill="#f8e8f6"/>
<rect x="42.6" y="139.35" width="1.35" height="1.88" fill="#f1e1ef"/>
<rect x="43.9" y="139.35" width="1.35" height="1.88" fill="#f8f0f6"/>
<rect x="45.2" y="139.35" width="1.35" height="1.88" fill="#e4d4e2"/>
<rect x="46.5" y="139.35" width="1.35" height="1.88" fill="#f8f0f6"/>
<rect x="47.8" y="139.35" width="1.35" height="1.88" fill="#ffeffd"/>
<rect x="49.1" y="139.35" width="1.35" height="1.88" fill="#f5e5f3"/>
<rect x="50.4" y="139.35" width="1.35" height="1.88" fill="#f5e5f3"/>
<rect x="51.7" y="139.35" width="1.35" height="1.88" fill="#fdedfb"/>
<rect x="53" y="139.35" width="1.35" height="1.88" fill="#f9e9f7"/>
<rect x="54.3" y="139.35" width="1.35" height="1.88" fill="#feeefc"/>
<rect x="55.6" y="139.35" width="1.35" height="1.88" fill="#e2d2e0"/>
<rect x="56.9" y="139.35" width="1.35" height="1.88" fill="#fff1ff"/>
<rect x="58.2" y="139.35" width="1.35" height="1.88" fill="#feeefc"/>
<rect x="59.5" y="139.35" width="1.35" height="1.88" fill="#ffeffd"/>
<rect x="60.8" y="139.35" width="1.35" height="1.88" fill="#fff0fe"/>
<rect x="62.1" y="139.35" width="1.35" height="1.88" fill="#e6d6e4"/>
<rect x="63.4" y="139.35" width="1.35" height="1.88" fill="#fdedfb"/>
<rect x="64.7" y="139.35" width="1.35" height="1.88" fill="#feeefc"/>
<rect x="66" y="139.35" width="1.35" height="1.88" fill="#8f86ee"/>
<rect x="67.3" y="139.35" width="1.35" height="1.88" fill="#e7d7e5"/>
<rect x="68.6" y="139.35" width="1.35" height="1.88" fill="#f6e6f4"/>
<rect x="69.9" y="139.35" width="1.35" height="1.88" fill="#f8f0f6"/>
<rect x="71.2" y="139.35" width="1.35" height="1.88" fill="#faeaf8"/>
<rect x="33.5" y="141.17" width="1.35" height="1.88" fill="#8f86ee"/>
<rect x="34.8" y="141.17" width="1.35" height="1.88" fill="#e48daf"/>
<rect x="36.1" y="141.17" width="1.35" height="1.88" fill="#fca5c7"/>
<rect x="37.4" y="141.17" width="1.35" height="1.88" fill="#e790b2"/>
<rect x="38.7" y="141.17" width="1.35" height="1.88" fill="#f29cc0"/>
<rect x="40" y="141.17" width="1.35" height="1.88" fill="#ed96b8"/>
<rect x="41.3" y="141.17" width="1.35" height="1.88" fill="#ee97b9"/>
<rect x="42.6" y="141.17" width="1.35" height="1.88" fill="#faa3c5"/>
<rect x="43.9" y="141.17" width="1.35" height="1.88" fill="#fda6c8"/>
<rect x="45.2" y="141.17" width="1.35" height="1.88" fill="#fba4c6"/>
<rect x="46.5" y="141.17" width="1.35" height="1.88" fill="#ed96b8"/>
<rect x="47.8" y="141.17" width="1.35" height="1.88" fill="#ec95b7"/>
<rect x="49.1" y="141.17" width="1.35" height="1.88" fill="#df88aa"/>
<rect x="50.4" y="141.17" width="1.35" height="1.88" fill="#f69fc1"/>
<rect x="51.7" y="141.17" width="1.35" height="1.88" fill="#ee97b9"/>
<rect x="53" y="141.17" width="1.35" height="1.88" fill="#f59ec0"/>
<rect x="54.3" y="141.17" width="1.35" height="1.88" fill="#f8f0f6"/>
<rect x="55.6" y="141.17" width="1.35" height="1.88" fill="#e089ab"/>
<rect x="56.9" y="141.17" width="1.35" height="1.88" fill="#f49dbf"/>
<rect x="58.2" y="141.17" width="1.35" height="1.88" fill="#f9a2c4"/>
<rect x="59.5" y="141.17" width="1.35" height="1.88" fill="#e38cae"/>
<rect x="60.8" y="141.17" width="1.35" height="1.88" fill="#ffa8ca"/>
<rect x="62.1" y="141.17" width="1.35" height="1.88" fill="#f69fc1"/>
<rect x="63.4" y="141.17" width="1.35" height="1.88" fill="#f49dbf"/>
<rect x="64.7" y="141.17" width="1.35" height="1.88" fill="#f49dbf"/>
<rect x="66" y="141.17" width="1.35" height="1.88" fill="#f49dbf"/>
<rect x="67.3" y="141.17" width="1.35" height="1.88" fill="#e28bad"/>
<rect x="68.6" y="141.17" width="1.35" height="1.88" fill="#e891b3"/>
<rect x="69.9" y="141.17" width="1.35" height="1.88" fill="#e089ab"/>
<rect x="71.2" y="141.17" width="1.35" height="1.88" fill="#fea7c9"/>
<rect x="33.5" y="143" width="1.35" height="1.88" fill="#c5b4f6"/>
<rect x="34.8" y="143" width="1.35" height="1.88" fill="#b3a2e4"/>
<rect x="36.1" y="143" width="1.35" height="1.88" fill="#c3b2f4"/>
<rect x="37.4" y="143" width="1.35" height="1.88" fill="#ccbbfd"/>
<rect x="38.7" y="143" width="1.35" height="1.88" fill="#c8b7f9"/>
<rect x="40" y="143" width="1.35" height="1.88" fill="#b9a8ea"/>
<rect x="41.3" y="143" width="1.35" height="1.88" fill="#8f86ee"/>
<rect x="42.6" y="143" width="1.35" height="1.88" fill="#d5c4ff"/>
<rect x="43.9" y="143" width="1.35" height="1.88" fill="#b7a6e8"/>
<rect x="45.2" y="143" width="1.35" height="1.88" fill="#d3c2ff"/>
<rect x="46.5" y="143" width="1.35" height="1.88" fill="#c4b3f5"/>
<rect x="47.8" y="143" width="1.35" height="1.88" fill="#beadef"/>
<rect x="49.1" y="143" width="1.35" height="1.88" fill="#cfbeff"/>
<rect x="50.4" y="143" width="1.35" height="1.88" fill="#b1a0e2"/>
<rect x="51.7" y="143" width="1.35" height="1.88" fill="#c0aff1"/>
<rect x="53" y="143" width="1.35" height="1.88" fill="#f8f0f6"/>
<rect x="54.3" y="143" width="1.35" height="1.88" fill="#baa9eb"/>
<rect x="55.6" y="143" width="1.35" height="1.88" fill="#c2b1f3"/>
<rect x="56.9" y="143" width="1.35" height="1.88" fill="#c1b0f2"/>
<rect x="58.2" y="143" width="1.35" height="1.88" fill="#b4a3e5"/>
<rect x="59.5" y="143" width="1.35" height="1.88" fill="#d4c3ff"/>
<rect x="60.8" y="143" width="1.35" height="1.88" fill="#cdbcfe"/>
<rect x="62.1" y="143" width="1.35" height="1.88" fill="#d2c1ff"/>
<rect x="63.4" y="143" width="1.35" height="1.88" fill="#c0aff1"/>
<rect x="64.7" y="143" width="1.35" height="1.88" fill="#f8f0f6"/>
<rect x="66" y="143" width="1.35" height="1.88" fill="#b2a1e3"/>
<rect x="67.3" y="143" width="1.35" height="1.88" fill="#c0aff1"/>
<rect x="68.6" y="143" width="1.35" height="1.88" fill="#f8f0f6"/>
<rect x="69.9" y="143" width="1.35" height="1.88" fill="#bdacee"/>
<rect x="71.2" y="143" width="1.35" height="1.88" fill="#bdacee"/>
<rect x="33.5" y="144.82" width="1.35" height="1.88" fill="#ffb6d4"/>
<rect x="34.8" y="144.82" width="1.35" height="1.88" fill="#feb0ce"/>
<rect x="36.1" y="144.82" width="1.35" height="1.88" fill="#efa1bf"/>
<rect x="37.4" y="144.82" width="1.35" height="1.88" fill="#e89ab8"/>
<rect x="38.7" y="144.82" width="1.35" height="1.88" fill="#e799b7"/>
<rect x="40" y="144.82" width="1.35" height="1.88" fill="#ffb4d2"/>
<rect x="41.3" y="144.82" width="1.35" height="1.88" fill="#e496b4"/>
<rect x="42.6" y="144.82" width="1.35" height="1.88" fill="#ffb1cf"/>
<rect x="43.9" y="144.82" width="1.35" height="1.88" fill="#f8f0f6"/>
<rect x="45.2" y="144.82" width="1.35" height="1.88" fill="#ffb2d0"/>
<rect x="46.5" y="144.82" width="1.35" height="1.88" fill="#ea9cba"/>
<rect x="47.8" y="144.82" width="1.35" height="1.88" fill="#e698b6"/>
<rect x="49.1" y="144.82" width="1.35" height="1.88" fill="#f4a6c4"/>
<rect x="50.4" y="144.82" width="1.35" height="1.88" fill="#f5a7c5"/>
<rect x="51.7" y="144.82" width="1.35" height="1.88" fill="#ffb1cf"/>
<rect x="53" y="144.82" width="1.35" height="1.88" fill="#ffb7d5"/>
<rect x="54.3" y="144.82" width="1.35" height="1.88" fill="#f6a8c6"/>
<rect x="55.6" y="144.82" width="1.35" height="1.88" fill="#f8f0f6"/>
<rect x="56.9" y="144.82" width="1.35" height="1.88" fill="#e496b4"/>
<rect x="58.2" y="144.82" width="1.35" height="1.88" fill="#f3a5c3"/>
<rect x="59.5" y="144.82" width="1.35" height="1.88" fill="#f0a2c0"/>
<rect x="60.8" y="144.82" width="1.35" height="1.88" fill="#f8aac8"/>
<rect x="62.1" y="144.82" width="1.35" height="1.88" fill="#fcaecc"/>
<rect x="63.4" y="144.82" width="1.35" height="1.88" fill="#f3a5c3"/>
<rect x="64.7" y="144.82" width="1.35" height="1.88" fill="#ffb8d6"/>
<rect x="66" y="144.82" width="1.35" height="1.88" fill="#ffb7d5"/>
<rect x="67.3" y="144.82" width="1.35" height="1.88" fill="#e597b5"/>
<rect x="68.6" y="144.82" width="1.35" height="1.88" fill="#f2a4c2"/>
<rect x="69.9" y="144.82" width="1.35" height="1.88" fill="#f7a9c7"/>
<rect x="71.2" y="144.82" width="1.35" height="1.88" fill="#fdafcd"/>
<rect x="33.5" y="146.65" width="1.35" height="1.88" fill="#cbc1e7"/>
<rect x="34.8" y="146.65" width="1.35" height="1.88" fill="#d1c7ed"/>
<rect x="36.1" y="146.65" width="1.35" height="1.88" fill="#f8f0f6"/>
<rect x="37.4" y="146.65" width="1.35" height="1.88" fill="#d1c7ed"/>
<rect x="38.7" y="146.65" width="1.35" height="1.88" fill="#d0c6ec"/>
<rect x="40" y="146.65" width="1.35" height="1.88" fill="#f8f0f6"/>
<rect x="41.3" y="146.65" width="1.35" height="1.88" fill="#c9bfe5"/>
<rect x="42.6" y="146.65" width="1.35" height="1.88" fill="#f8f0f6"/>
<rect x="43.9" y="146.65" width="1.35" height="1.88" fill="#ded4fa"/>
<rect x="45.2" y="146.65" width="1.35" height="1.88" fill="#e9dfff"/>
<rect x="46.5" y="146.65" width="1.35" height="1.88" fill="#cbc1e7"/>
<rect x="47.8" y="146.65" width="1.35" height="1.88" fill="#8f86ee"/>
<rect x="49.1" y="146.65" width="1.35" height="1.88" fill="#8f86ee"/>
<rect x="50.4" y="146.65" width="1.35" height="1.88" fill="#ccc2e8"/>
<rect x="51.7" y="146.65" width="1.35" height="1.88" fill="#d9cff5"/>
<rect x="53" y="146.65" width="1.35" height="1.88" fill="#f8f0f6"/>
<rect x="54.3" y="146.65" width="1.35" height="1.88" fill="#d4caf0"/>
<rect x="55.6" y="146.65" width="1.35" height="1.88" fill="#dcd2f8"/>
<rect x="56.9" y="146.65" width="1.35" height="1.88" fill="#c8bee4"/>
<rect x="58.2" y="146.65" width="1.35" height="1.88" fill="#f29cc0"/>
<rect x="59.5" y="146.65" width="1.35" height="1.88" fill="#dbd1f7"/>
<rect x="60.8" y="146.65" width="1.35" height="1.88" fill="#e7ddff"/>
<rect x="62.1" y="146.65" width="1.35" height="1.88" fill="#d9cff5"/>
<rect x="63.4" y="146.65" width="1.35" height="1.88" fill="#c8bee4"/>
<rect x="64.7" y="146.65" width="1.35" height="1.88" fill="#c8bee4"/>
<rect x="66" y="146.65" width="1.35" height="1.88" fill="#cdc3e9"/>
<rect x="67.3" y="146.65" width="1.35" height="1.88" fill="#cac0e6"/>
<rect x="68.6" y="146.65" width="1.35" height="1.88" fill="#d4caf0"/>
<rect x="69.9" y="146.65" width="1.35" height="1.88" fill="#ccc2e8"/>
<rect x="71.2" y="146.65" width="1.35" height="1.88" fill="#d9cff5"/>
<rect x="33.5" y="148.47" width="1.35" height="1.88" fill="#df8bae"/>
<rect x="34.8" y="148.47" width="1.35" height="1.88" fill="#f19dc0"/>
<rect x="36.1" y="148.47" width="1.35" height="1.88" fill="#f29cc0"/>
<rect x="37.4" y="148.47" width="1.35" height="1.88" fill="#e591b4"/>
<rect x="38.7" y="148.47" width="1.35" height="1.88" fill="#ea96b9"/>
<rect x="40" y="148.47" width="1.35" height="1.88" fill="#f5a1c4"/>
<rect x="41.3" y="148.47" width="1.35" height="1.88" fill="#ffabce"/>
<rect x="42.6" y="148.47" width="1.35" height="1.88" fill="#e995b8"/>
<rect x="43.9" y="148.47" width="1.35" height="1.88" fill="#ec98bb"/>
<rect x="45.2" y="148.47" width="1.35" height="1.88" fill="#ed99bc"/>
<rect x="46.5" y="148.47" width="1.35" height="1.88" fill="#e692b5"/>
<rect x="47.8" y="148.47" width="1.35" height="1.88" fill="#e490b3"/>
<rect x="49.1" y="148.47" width="1.35" height="1.88" fill="#ffaed1"/>
<rect x="50.4" y="148.47" width="1.35" height="1.88" fill="#f39fc2"/>
<rect x="51.7" y="148.47" width="1.35" height="1.88" fill="#f8a4c7"/>
<rect x="53" y="148.47" width="1.35" height="1.88" fill="#e490b3"/>
<rect x="54.3" y="148.47" width="1.35" height="1.88" fill="#e08caf"/>
<rect x="55.6" y="148.47" width="1.35" height="1.88" fill="#f29ec1"/>
<rect x="56.9" y="148.47" width="1.35" height="1.88" fill="#ffadd0"/>
<rect x="58.2" y="148.47" width="1.35" height="1.88" fill="#f7a3c6"/>
<rect x="59.5" y="148.47" width="1.35" height="1.88" fill="#ed99bc"/>
<rect x="60.8" y="148.47" width="1.35" height="1.88" fill="#e793b6"/>
<rect x="62.1" y="148.47" width="1.35" height="1.88" fill="#e18db0"/>
<rect x="63.4" y="148.47" width="1.35" height="1.88" fill="#f39fc2"/>
<rect x="64.7" y="148.47" width="1.35" height="1.88" fill="#fba7ca"/>
<rect x="66" y="148.47" width="1.35" height="1.88" fill="#f39fc2"/>
<rect x="67.3" y="148.47" width="1.35" height="1.88" fill="#fba7ca"/>
<rect x="68.6" y="148.47" width="1.35" height="1.88" fill="#ef9bbe"/>
<rect x="69.9" y="148.47" width="1.35" height="1.88" fill="#e793b6"/>
<rect x="71.2" y="148.47" width="1.35" height="1.88" fill="#ee9abd"/>
<linearGradient id="fadeI" x1="0" x2="1" y1="0" y2="0"><stop offset="0" stop-color="#fff" stop-opacity="0"/><stop offset="1" stop-color="#fff" stop-opacity="0.85"/></linearGradient>
<rect x="62" y="121.1" width="10.5" height="29.2" fill="url(#fadeI)"/>
<rect x="72.5" y="121.1" width="7" height="1.83" fill="#e2e2ea"/>
<rect x="72.5" y="122.92" width="7" height="1.83" fill="#e2e2ea"/>
<rect x="72.5" y="124.75" width="7" height="1.83" fill="#efeaf0"/>
<rect x="72.5" y="126.58" width="7" height="1.83" fill="#efeaf0"/>
<rect x="72.5" y="128.4" width="7" height="1.82" fill="#efeaf0"/>
<rect x="72.5" y="130.22" width="7" height="1.83" fill="#e2e2ea"/>
<rect x="72.5" y="132.05" width="7" height="1.82" fill="#e2e2ea"/>
<rect x="72.5" y="133.88" width="7" height="1.82" fill="#efeaf0"/>
<rect x="72.5" y="135.7" width="7" height="1.83" fill="#efeaf0"/>
<rect x="72.5" y="137.53" width="7" height="1.82" fill="#e2e2ea"/>
<rect x="72.5" y="139.35" width="7" height="1.83" fill="#efeaf0"/>
<rect x="72.5" y="141.18" width="7" height="1.82" fill="#e2e2ea"/>
<rect x="72.5" y="143" width="7" height="1.83" fill="#e6e4ec"/>
<rect x="72.5" y="144.83" width="7" height="1.82" fill="#efeaf0"/>
<rect x="72.5" y="146.65" width="7" height="1.83" fill="#e6e4ec"/>
<rect x="72.5" y="148.48" width="7" height="1.82" fill="#efeaf0"/>
<rect x="72.5" y="112.2" width="7" height="8" fill="#dfe9dc"/>
<rect x="81.3" y="113.2" width="1.5" height="6.4" fill="#d0444e"/>
<rect x="81.3" y="122" width="1.5" height="6.2" fill="#3b4aa8"/>
<text x="84" y="114.2" font-size="1.7" fill="#777" text-anchor="start" font-family="'Liberation Sans', Arial, sans-serif" >ICIcluster</text>
<text x="84" y="116.8" font-size="1.7" fill="#777" text-anchor="start" font-family="'Liberation Sans', Arial, sans-serif" >A</text>
<rect x="83.8" y="115.5" width="0.3" height="1.4" fill="#999"/>
<text x="84" y="119.4" font-size="1.7" fill="#777" text-anchor="start" font-family="'Liberation Sans', Arial, sans-serif" >B</text>
<rect x="83.8" y="118.1" width="0.3" height="1.4" fill="#999"/>
<text x="84" y="122" font-size="1.7" fill="#777" text-anchor="start" font-family="'Liberation Sans', Arial, sans-serif" >C</text>
<rect x="83.8" y="120.7" width="0.3" height="1.4" fill="#999"/>
<text x="84" y="124.6" font-size="1.7" fill="#777" text-anchor="start" font-family="'Liberation Sans', Arial, sans-serif" ></text>
<text x="84" y="127.2" font-size="1.7" fill="#777" text-anchor="start" font-family="'Liberation Sans', Arial, sans-serif" >Gender</text>
<text x="84" y="129.8" font-size="1.7" fill="#777" text-anchor="start" font-family="'Liberation Sans', Arial, sans-serif" >F</text>
<rect x="83.8" y="128.5" width="0.3" height="1.4" fill="#999"/>
<text x="84" y="132.4" font-size="1.7" fill="#777" text-anchor="start" font-family="'Liberation Sans', Arial, sans-serif" >M</text>
<rect x="83.8" y="131.1" width="0.3" height="1.4" fill="#999"/>
<text x="84" y="135" font-size="1.7" fill="#777" text-anchor="start" font-family="'Liberation Sans', Arial, sans-serif" >Stage</text>
<text x="84" y="137.6" font-size="1.7" fill="#777" text-anchor="start" font-family="'Liberation Sans', Arial, sans-serif" >I</text>
<rect x="83.8" y="136.3" width="0.3" height="1.4" fill="#999"/>
<text x="84" y="140.2" font-size="1.7" fill="#777" text-anchor="start" font-family="'Liberation Sans', Arial, sans-serif" >II</text>
<rect x="83.8" y="138.9" width="0.3" height="1.4" fill="#999"/>
<text x="84" y="142.8" font-size="1.7" fill="#777" text-anchor="start" font-family="'Liberation Sans', Arial, sans-serif" >III</text>
<rect x="83.8" y="141.5" width="0.3" height="1.4" fill="#999"/>
<text x="84" y="145.4" font-size="1.7" fill="#777" text-anchor="start" font-family="'Liberation Sans', Arial, sans-serif" >IV</text>
<rect x="83.8" y="144.1" width="0.3" height="1.4" fill="#999"/>
<rect x="107.5" y="110" width="1.56" height="1.6" fill="#bfe4ea"/>
<rect x="109.01" y="110" width="1.56" height="1.6" fill="#cfe9ee"/>
<rect x="110.53" y="110" width="1.56" height="1.6" fill="#cfe9ee"/>
<rect x="112.04" y="110" width="1.56" height="1.6" fill="#bfe4ea"/>
<rect x="113.55" y="110" width="1.56" height="1.6" fill="#d9eed8"/>
<rect x="115.06" y="110" width="1.56" height="1.6" fill="#bfe4ea"/>
<rect x="116.58" y="110" width="1.56" height="1.6" fill="#bfe4ea"/>
<rect x="118.09" y="110" width="1.56" height="1.6" fill="#bfe4ea"/>
<rect x="119.6" y="110" width="1.56" height="1.6" fill="#cfe9ee"/>
<rect x="121.11" y="110" width="1.56" height="1.6" fill="#cfe9ee"/>
<rect x="122.62" y="110" width="1.56" height="1.6" fill="#d9eed8"/>
<rect x="124.14" y="110" width="1.56" height="1.6" fill="#cfe9ee"/>
<rect x="125.65" y="110" width="1.56" height="1.6" fill="#bfe4ea"/>
<rect x="127.16" y="110" width="1.56" height="1.6" fill="#cfe9ee"/>
<rect x="128.68" y="110" width="1.56" height="1.6" fill="#bfe4ea"/>
<rect x="130.19" y="110" width="1.56" height="1.6" fill="#bfe4ea"/>
<rect x="131.7" y="110" width="1.56" height="1.6" fill="#cfe9ee"/>
<rect x="133.21" y="110" width="1.56" height="1.6" fill="#cfe9ee"/>
<rect x="134.73" y="110" width="1.56" height="1.6" fill="#bfe4ea"/>
<rect x="136.24" y="110" width="1.56" height="1.6" fill="#bfe4ea"/>
<rect x="137.75" y="110" width="1.56" height="1.6" fill="#d9eed8"/>
<rect x="139.26" y="110" width="1.56" height="1.6" fill="#cfe9ee"/>
<rect x="140.78" y="110" width="1.56" height="1.6" fill="#d9eed8"/>
<rect x="142.29" y="110" width="1.56" height="1.6" fill="#d9eed8"/>
<rect x="107.5" y="111.6" width="1.56" height="2" fill="#d4e58c"/>
<rect x="109.01" y="111.6" width="1.56" height="2" fill="#a9d46a"/>
<rect x="110.53" y="111.6" width="1.56" height="2" fill="#c9e07a"/>
<rect x="112.04" y="111.6" width="1.56" height="2" fill="#b5d86f"/>
<rect x="113.55" y="111.6" width="1.56" height="2" fill="#d4e58c"/>
<rect x="115.06" y="111.6" width="1.56" height="2" fill="#a9d46a"/>
<rect x="116.58" y="111.6" width="1.56" height="2" fill="#c9e07a"/>
<rect x="118.09" y="111.6" width="1.56" height="2" fill="#b5d86f"/>
<rect x="119.6" y="111.6" width="1.56" height="2" fill="#a9d46a"/>
<rect x="121.11" y="111.6" width="1.56" height="2" fill="#a9d46a"/>
<rect x="122.62" y="111.6" width="1.56" height="2" fill="#b5d86f"/>
<rect x="124.14" y="111.6" width="1.56" height="2" fill="#b5d86f"/>
<rect x="125.65" y="111.6" width="1.56" height="2" fill="#b5d86f"/>
<rect x="127.16" y="111.6" width="1.56" height="2" fill="#c9e07a"/>
<rect x="128.68" y="111.6" width="1.56" height="2" fill="#a9d46a"/>
<rect x="130.19" y="111.6" width="1.56" height="2" fill="#a9d46a"/>
<rect x="131.7" y="111.6" width="1.56" height="2" fill="#d4e58c"/>
<rect x="133.21" y="111.6" width="1.56" height="2" fill="#d4e58c"/>
<rect x="134.73" y="111.6" width="1.56" height="2" fill="#c9e07a"/>
<rect x="136.24" y="111.6" width="1.56" height="2" fill="#a9d46a"/>
<rect x="137.75" y="111.6" width="1.56" height="2" fill="#b5d86f"/>
<rect x="139.26" y="111.6" width="1.56" height="2" fill="#a9d46a"/>
<rect x="140.78" y="111.6" width="1.56" height="2" fill="#b5d86f"/>
<rect x="142.29" y="111.6" width="1.56" height="2" fill="#d4e58c"/>
<rect x="107.5" y="113.6" width="1.56" height="1.6" fill="#cfe6b3"/>
<rect x="109.01" y="113.6" width="1.56" height="1.6" fill="#cfe6b3"/>
<rect x="110.53" y="113.6" width="1.56" height="1.6" fill="#cfe6b3"/>
<rect x="112.04" y="113.6" width="1.56" height="1.6" fill="#d6eab9"/>
<rect x="113.55" y="113.6" width="1.56" height="1.6" fill="#e0efc4"/>
<rect x="115.06" y="113.6" width="1.56" height="1.6" fill="#cfe6b3"/>
<rect x="116.58" y="113.6" width="1.56" height="1.6" fill="#e0efc4"/>
<rect x="118.09" y="113.6" width="1.56" height="1.6" fill="#e0efc4"/>
<rect x="119.6" y="113.6" width="1.56" height="1.6" fill="#e0efc4"/>
<rect x="121.11" y="113.6" width="1.56" height="1.6" fill="#d6eab9"/>
<rect x="122.62" y="113.6" width="1.56" height="1.6" fill="#e0efc4"/>
<rect x="124.14" y="113.6" width="1.56" height="1.6" fill="#cfe6b3"/>
<rect x="125.65" y="113.6" width="1.56" height="1.6" fill="#d6eab9"/>
<rect x="127.16" y="113.6" width="1.56" height="1.6" fill="#cfe6b3"/>
<rect x="128.68" y="113.6" width="1.56" height="1.6" fill="#cfe6b3"/>
<rect x="130.19" y="113.6" width="1.56" height="1.6" fill="#d6eab9"/>
<rect x="131.7" y="113.6" width="1.56" height="1.6" fill="#d6eab9"/>
<rect x="133.21" y="113.6" width="1.56" height="1.6" fill="#cfe6b3"/>
<rect x="134.73" y="113.6" width="1.56" height="1.6" fill="#e0efc4"/>
<rect x="136.24" y="113.6" width="1.56" height="1.6" fill="#d6eab9"/>
<rect x="137.75" y="113.6" width="1.56" height="1.6" fill="#d6eab9"/>
<rect x="139.26" y="113.6" width="1.56" height="1.6" fill="#e0efc4"/>
<rect x="140.78" y="113.6" width="1.56" height="1.6" fill="#d6eab9"/>
<rect x="142.29" y="113.6" width="1.56" height="1.6" fill="#e0efc4"/>
<rect x="107.5" y="115.2" width="1.56" height="2.2" fill="#d4b7f4"/>
<rect x="109.01" y="115.2" width="1.56" height="2.2" fill="#c7a8f2"/>
<rect x="110.53" y="115.2" width="1.56" height="2.2" fill="#b8a5ee"/>
<rect x="112.04" y="115.2" width="1.56" height="2.2" fill="#bd9ff0"/>
<rect x="113.55" y="115.2" width="1.56" height="2.2" fill="#b8a5ee"/>
<rect x="115.06" y="115.2" width="1.56" height="2.2" fill="#c7a8f2"/>
<rect x="116.58" y="115.2" width="1.56" height="2.2" fill="#d4b7f4"/>
<rect x="118.09" y="115.2" width="1.56" height="2.2" fill="#d4b7f4"/>
<rect x="119.6" y="115.2" width="1.56" height="2.2" fill="#b8a5ee"/>
<rect x="121.11" y="115.2" width="1.56" height="2.2" fill="#b8a5ee"/>
<rect x="122.62" y="115.2" width="1.56" height="2.2" fill="#bd9ff0"/>
<rect x="124.14" y="115.2" width="1.56" height="2.2" fill="#bd9ff0"/>
<rect x="125.65" y="115.2" width="1.56" height="2.2" fill="#b8a5ee"/>
<rect x="127.16" y="115.2" width="1.56" height="2.2" fill="#c7a8f2"/>
<rect x="128.68" y="115.2" width="1.56" height="2.2" fill="#d4b7f4"/>
<rect x="130.19" y="115.2" width="1.56" height="2.2" fill="#c7a8f2"/>
<rect x="131.7" y="115.2" width="1.56" height="2.2" fill="#d4b7f4"/>
<rect x="133.21" y="115.2" width="1.56" height="2.2" fill="#d4b7f4"/>
<rect x="134.73" y="115.2" width="1.56" height="2.2" fill="#b8a5ee"/>
<rect x="136.24" y="115.2" width="1.56" height="2.2" fill="#b8a5ee"/>
<rect x="137.75" y="115.2" width="1.56" height="2.2" fill="#c7a8f2"/>
<rect x="139.26" y="115.2" width="1.56" height="2.2" fill="#c7a8f2"/>
<rect x="140.78" y="115.2" width="1.56" height="2.2" fill="#c7a8f2"/>
<rect x="142.29" y="115.2" width="1.56" height="2.2" fill="#b8a5ee"/>
<rect x="107.5" y="117.4" width="19.66" height="2" fill="#3563bf"/>
<rect x="127.16" y="117.4" width="16.64" height="2" fill="#8fc063"/>
<rect x="107.5" y="119.4" width="1.56" height="1.78" fill="#d6aee6"/>
<rect x="107.5" y="121.13" width="1.56" height="1.78" fill="#cda5dd"/>
<rect x="107.5" y="122.87" width="1.56" height="1.78" fill="#c59dd5"/>
<rect x="107.5" y="124.6" width="1.56" height="1.78" fill="#d9b1e9"/>
<rect x="107.5" y="126.33" width="1.56" height="1.78" fill="#d2aae2"/>
<rect x="107.5" y="128.07" width="1.56" height="1.78" fill="#dbb3eb"/>
<rect x="107.5" y="129.8" width="1.56" height="1.78" fill="#d0a8e0"/>
<rect x="107.5" y="131.53" width="1.56" height="1.78" fill="#c69ed6"/>
<rect x="107.5" y="133.27" width="1.56" height="1.78" fill="#c49cd4"/>
<rect x="107.5" y="135" width="1.56" height="1.78" fill="#d6aee6"/>
<rect x="107.5" y="136.73" width="1.56" height="1.78" fill="#d6aee6"/>
<rect x="107.5" y="138.47" width="1.56" height="1.78" fill="#c9a1d9"/>
<rect x="107.5" y="140.2" width="1.56" height="1.78" fill="#c69ed6"/>
<rect x="107.5" y="141.93" width="1.56" height="1.78" fill="#d6aee6"/>
<rect x="107.5" y="143.67" width="1.56" height="1.78" fill="#dbb3eb"/>
<rect x="107.5" y="145.4" width="1.56" height="1.78" fill="#d0a8e0"/>
<rect x="107.5" y="147.13" width="1.56" height="1.78" fill="#dab2ea"/>
<rect x="107.5" y="148.87" width="1.56" height="1.78" fill="#c69ed6"/>
<rect x="109.01" y="119.4" width="1.56" height="1.78" fill="#877ced"/>
<rect x="109.01" y="121.13" width="1.56" height="1.78" fill="#8378e9"/>
<rect x="109.01" y="122.87" width="1.56" height="1.78" fill="#887dee"/>
<rect x="109.01" y="124.6" width="1.56" height="1.78" fill="#897eef"/>
<rect x="109.01" y="126.33" width="1.56" height="1.78" fill="#c0a0e8"/>
<rect x="109.01" y="128.07" width="1.56" height="1.78" fill="#877ced"/>
<rect x="109.01" y="129.8" width="1.56" height="1.78" fill="#857aeb"/>
<rect x="109.01" y="131.53" width="1.56" height="1.78" fill="#8b80f1"/>
<rect x="109.01" y="133.27" width="1.56" height="1.78" fill="#9085f6"/>
<rect x="109.01" y="135" width="1.56" height="1.78" fill="#988dfe"/>
<rect x="109.01" y="136.73" width="1.56" height="1.78" fill="#857aeb"/>
<rect x="109.01" y="138.47" width="1.56" height="1.78" fill="#7d72e3"/>
<rect x="109.01" y="140.2" width="1.56" height="1.78" fill="#8e83f4"/>
<rect x="109.01" y="141.93" width="1.56" height="1.78" fill="#958afb"/>
<rect x="109.01" y="143.67" width="1.56" height="1.78" fill="#8c81f2"/>
<rect x="109.01" y="145.4" width="1.56" height="1.78" fill="#9085f6"/>
<rect x="109.01" y="147.13" width="1.56" height="1.78" fill="#7a78ea"/>
<rect x="109.01" y="148.87" width="1.56" height="1.78" fill="#9085f6"/>
<rect x="110.53" y="119.4" width="1.56" height="1.78" fill="#7e7cee"/>
<rect x="110.53" y="121.13" width="1.56" height="1.78" fill="#7371e3"/>
<rect x="110.53" y="122.87" width="1.56" height="1.78" fill="#7a78ea"/>
<rect x="110.53" y="124.6" width="1.56" height="1.78" fill="#706ee0"/>
<rect x="110.53" y="126.33" width="1.56" height="1.78" fill="#7876e8"/>
<rect x="110.53" y="128.07" width="1.56" height="1.78" fill="#716fe1"/>
<rect x="110.53" y="129.8" width="1.56" height="1.78" fill="#8280f2"/>
<rect x="110.53" y="131.53" width="1.56" height="1.78" fill="#8583f5"/>
<rect x="110.53" y="133.27" width="1.56" height="1.78" fill="#8886f8"/>
<rect x="110.53" y="135" width="1.56" height="1.78" fill="#8583f5"/>
<rect x="110.53" y="136.73" width="1.56" height="1.78" fill="#7573e5"/>
<rect x="110.53" y="138.47" width="1.56" height="1.78" fill="#8280f2"/>
<rect x="110.53" y="140.2" width="1.56" height="1.78" fill="#6e6cde"/>
<rect x="110.53" y="141.93" width="1.56" height="1.78" fill="#7a78ea"/>
<rect x="110.53" y="143.67" width="1.56" height="1.78" fill="#6f6ddf"/>
<rect x="110.53" y="145.4" width="1.56" height="1.78" fill="#7472e4"/>
<rect x="110.53" y="147.13" width="1.56" height="1.78" fill="#8684f6"/>
<rect x="110.53" y="148.87" width="1.56" height="1.78" fill="#7b79eb"/>
<rect x="112.04" y="119.4" width="1.56" height="1.78" fill="#8a7ff0"/>
<rect x="112.04" y="121.13" width="1.56" height="1.78" fill="#9287f8"/>
<rect x="112.04" y="122.87" width="1.56" height="1.78" fill="#8b80f1"/>
<rect x="112.04" y="124.6" width="1.56" height="1.78" fill="#8f84f5"/>
<rect x="112.04" y="126.33" width="1.56" height="1.78" fill="#7c71e2"/>
<rect x="112.04" y="128.07" width="1.56" height="1.78" fill="#867bec"/>
<rect x="112.04" y="129.8" width="1.56" height="1.78" fill="#8e83f4"/>
<rect x="112.04" y="131.53" width="1.56" height="1.78" fill="#857aeb"/>
<rect x="112.04" y="133.27" width="1.56" height="1.78" fill="#877ced"/>
<rect x="112.04" y="135" width="1.56" height="1.78" fill="#9186f7"/>
<rect x="112.04" y="136.73" width="1.56" height="1.78" fill="#9085f6"/>
<rect x="112.04" y="138.47" width="1.56" height="1.78" fill="#6f70e6"/>
<rect x="112.04" y="140.2" width="1.56" height="1.78" fill="#9186f7"/>
<rect x="112.04" y="141.93" width="1.56" height="1.78" fill="#867bec"/>
<rect x="112.04" y="143.67" width="1.56" height="1.78" fill="#7f74e5"/>
<rect x="112.04" y="145.4" width="1.56" height="1.78" fill="#8b80f1"/>
<rect x="112.04" y="147.13" width="1.56" height="1.78" fill="#d0a8e0"/>
<rect x="112.04" y="148.87" width="1.56" height="1.78" fill="#9085f6"/>
<rect x="113.55" y="119.4" width="1.56" height="1.78" fill="#8785f7"/>
<rect x="113.55" y="121.13" width="1.56" height="1.78" fill="#7674e6"/>
<rect x="113.55" y="122.87" width="1.56" height="1.78" fill="#7c7aec"/>
<rect x="113.55" y="124.6" width="1.56" height="1.78" fill="#7270e2"/>
<rect x="113.55" y="126.33" width="1.56" height="1.78" fill="#7674e6"/>
<rect x="113.55" y="128.07" width="1.56" height="1.78" fill="#c0a0e8"/>
<rect x="113.55" y="129.8" width="1.56" height="1.78" fill="#7573e5"/>
<rect x="113.55" y="131.53" width="1.56" height="1.78" fill="#7b79eb"/>
<rect x="113.55" y="133.27" width="1.56" height="1.78" fill="#7c7aec"/>
<rect x="113.55" y="135" width="1.56" height="1.78" fill="#8785f7"/>
<rect x="113.55" y="136.73" width="1.56" height="1.78" fill="#7270e2"/>
<rect x="113.55" y="138.47" width="1.56" height="1.78" fill="#8583f5"/>
<rect x="113.55" y="140.2" width="1.56" height="1.78" fill="#7270e2"/>
<rect x="113.55" y="141.93" width="1.56" height="1.78" fill="#7573e5"/>
<rect x="113.55" y="143.67" width="1.56" height="1.78" fill="#807ef0"/>
<rect x="113.55" y="145.4" width="1.56" height="1.78" fill="#6d6bdd"/>
<rect x="113.55" y="147.13" width="1.56" height="1.78" fill="#7d7bed"/>
<rect x="113.55" y="148.87" width="1.56" height="1.78" fill="#7d7bed"/>
<rect x="115.06" y="119.4" width="1.56" height="1.78" fill="#cba3db"/>
<rect x="115.06" y="121.13" width="1.56" height="1.78" fill="#c39bd3"/>
<rect x="115.06" y="122.87" width="1.56" height="1.78" fill="#d1a9e1"/>
<rect x="115.06" y="124.6" width="1.56" height="1.78" fill="#d7afe7"/>
<rect x="115.06" y="126.33" width="1.56" height="1.78" fill="#d2aae2"/>
<rect x="115.06" y="128.07" width="1.56" height="1.78" fill="#d5ade5"/>
<rect x="115.06" y="129.8" width="1.56" height="1.78" fill="#c69ed6"/>
<rect x="115.06" y="131.53" width="1.56" height="1.78" fill="#d8b0e8"/>
<rect x="115.06" y="133.27" width="1.56" height="1.78" fill="#deb6ee"/>
<rect x="115.06" y="135" width="1.56" height="1.78" fill="#8a7ff0"/>
<rect x="115.06" y="136.73" width="1.56" height="1.78" fill="#d6aee6"/>
<rect x="115.06" y="138.47" width="1.56" height="1.78" fill="#c59dd5"/>
<rect x="115.06" y="140.2" width="1.56" height="1.78" fill="#7a78ea"/>
<rect x="115.06" y="141.93" width="1.56" height="1.78" fill="#8f84ee"/>
<rect x="115.06" y="143.67" width="1.56" height="1.78" fill="#dbb3eb"/>
<rect x="115.06" y="145.4" width="1.56" height="1.78" fill="#d8b0e8"/>
<rect x="115.06" y="147.13" width="1.56" height="1.78" fill="#cba3db"/>
<rect x="115.06" y="148.87" width="1.56" height="1.78" fill="#c39bd3"/>
<rect x="116.58" y="119.4" width="1.56" height="1.78" fill="#d4ace4"/>
<rect x="116.58" y="121.13" width="1.56" height="1.78" fill="#c39bd3"/>
<rect x="116.58" y="122.87" width="1.56" height="1.78" fill="#7a78ea"/>
<rect x="116.58" y="124.6" width="1.56" height="1.78" fill="#dab2ea"/>
<rect x="116.58" y="126.33" width="1.56" height="1.78" fill="#d4ace4"/>
<rect x="116.58" y="128.07" width="1.56" height="1.78" fill="#cea6de"/>
<rect x="116.58" y="129.8" width="1.56" height="1.78" fill="#c29ad2"/>
<rect x="116.58" y="131.53" width="1.56" height="1.78" fill="#d5ade5"/>
<rect x="116.58" y="133.27" width="1.56" height="1.78" fill="#d7afe7"/>
<rect x="116.58" y="135" width="1.56" height="1.78" fill="#d1a9e1"/>
<rect x="116.58" y="136.73" width="1.56" height="1.78" fill="#d3abe3"/>
<rect x="116.58" y="138.47" width="1.56" height="1.78" fill="#d6aee6"/>
<rect x="116.58" y="140.2" width="1.56" height="1.78" fill="#deb6ee"/>
<rect x="116.58" y="141.93" width="1.56" height="1.78" fill="#c29ad2"/>
<rect x="116.58" y="143.67" width="1.56" height="1.78" fill="#c29ad2"/>
<rect x="116.58" y="145.4" width="1.56" height="1.78" fill="#c59dd5"/>
<rect x="116.58" y="147.13" width="1.56" height="1.78" fill="#ddb5ed"/>
<rect x="116.58" y="148.87" width="1.56" height="1.78" fill="#ddb5ed"/>
<rect x="118.09" y="119.4" width="1.56" height="1.78" fill="#7c71e2"/>
<rect x="118.09" y="121.13" width="1.56" height="1.78" fill="#8e83f4"/>
<rect x="118.09" y="122.87" width="1.56" height="1.78" fill="#9388f9"/>
<rect x="118.09" y="124.6" width="1.56" height="1.78" fill="#7d72e3"/>
<rect x="118.09" y="126.33" width="1.56" height="1.78" fill="#9388f9"/>
<rect x="118.09" y="128.07" width="1.56" height="1.78" fill="#978cfd"/>
<rect x="118.09" y="129.8" width="1.56" height="1.78" fill="#9489fa"/>
<rect x="118.09" y="131.53" width="1.56" height="1.78" fill="#9085f6"/>
<rect x="118.09" y="133.27" width="1.56" height="1.78" fill="#8b80f1"/>
<rect x="118.09" y="135" width="1.56" height="1.78" fill="#988dfe"/>
<rect x="118.09" y="136.73" width="1.56" height="1.78" fill="#7d72e3"/>
<rect x="118.09" y="138.47" width="1.56" height="1.78" fill="#7c71e2"/>
<rect x="118.09" y="140.2" width="1.56" height="1.78" fill="#988dfe"/>
<rect x="118.09" y="141.93" width="1.56" height="1.78" fill="#968bfc"/>
<rect x="118.09" y="143.67" width="1.56" height="1.78" fill="#887dee"/>
<rect x="118.09" y="145.4" width="1.56" height="1.78" fill="#9388f9"/>
<rect x="118.09" y="147.13" width="1.56" height="1.78" fill="#978cfd"/>
<rect x="118.09" y="148.87" width="1.56" height="1.78" fill="#6a76e0"/>
<rect x="119.6" y="119.4" width="1.56" height="1.78" fill="#8b80f1"/>
<rect x="119.6" y="121.13" width="1.56" height="1.78" fill="#8075e6"/>
<rect x="119.6" y="122.87" width="1.56" height="1.78" fill="#7f74e5"/>
<rect x="119.6" y="124.6" width="1.56" height="1.78" fill="#9085f6"/>
<rect x="119.6" y="126.33" width="1.56" height="1.78" fill="#958afb"/>
<rect x="119.6" y="128.07" width="1.56" height="1.78" fill="#887dee"/>
<rect x="119.6" y="129.8" width="1.56" height="1.78" fill="#8a7ff0"/>
<rect x="119.6" y="131.53" width="1.56" height="1.78" fill="#958afb"/>
<rect x="119.6" y="133.27" width="1.56" height="1.78" fill="#867bec"/>
<rect x="119.6" y="135" width="1.56" height="1.78" fill="#7d72e3"/>
<rect x="119.6" y="136.73" width="1.56" height="1.78" fill="#9085f6"/>
<rect x="119.6" y="138.47" width="1.56" height="1.78" fill="#968bfc"/>
<rect x="119.6" y="140.2" width="1.56" height="1.78" fill="#978cfd"/>
<rect x="119.6" y="141.93" width="1.56" height="1.78" fill="#7c71e2"/>
<rect x="119.6" y="143.67" width="1.56" height="1.78" fill="#8f84f5"/>
<rect x="119.6" y="145.4" width="1.56" height="1.78" fill="#8e83f4"/>
<rect x="119.6" y="147.13" width="1.56" height="1.78" fill="#988dfe"/>
<rect x="119.6" y="148.87" width="1.56" height="1.78" fill="#887dee"/>
<rect x="121.11" y="119.4" width="1.56" height="1.78" fill="#b3a3fb"/>
<rect x="121.11" y="121.13" width="1.56" height="1.78" fill="#c0a0e8"/>
<rect x="121.11" y="122.87" width="1.56" height="1.78" fill="#a292ea"/>
<rect x="121.11" y="124.6" width="1.56" height="1.78" fill="#ac9cf4"/>
<rect x="121.11" y="126.33" width="1.56" height="1.78" fill="#b2a2fa"/>
<rect x="121.11" y="128.07" width="1.56" height="1.78" fill="#9b8be3"/>
<rect x="121.11" y="129.8" width="1.56" height="1.78" fill="#9e8ee6"/>
<rect x="121.11" y="131.53" width="1.56" height="1.78" fill="#b5a5fd"/>
<rect x="121.11" y="133.27" width="1.56" height="1.78" fill="#9e8ee6"/>
<rect x="121.11" y="135" width="1.56" height="1.78" fill="#b5a5fd"/>
<rect x="121.11" y="136.73" width="1.56" height="1.78" fill="#ab9bf3"/>
<rect x="121.11" y="138.47" width="1.56" height="1.78" fill="#a999f1"/>
<rect x="121.11" y="140.2" width="1.56" height="1.78" fill="#9c8ce4"/>
<rect x="121.11" y="141.93" width="1.56" height="1.78" fill="#a999f1"/>
<rect x="121.11" y="143.67" width="1.56" height="1.78" fill="#a090e8"/>
<rect x="121.11" y="145.4" width="1.56" height="1.78" fill="#b1a1f9"/>
<rect x="121.11" y="147.13" width="1.56" height="1.78" fill="#a191e9"/>
<rect x="121.11" y="148.87" width="1.56" height="1.78" fill="#9b8be3"/>
<rect x="122.62" y="119.4" width="1.56" height="1.78" fill="#9287f8"/>
<rect x="122.62" y="121.13" width="1.56" height="1.78" fill="#8479ea"/>
<rect x="122.62" y="122.87" width="1.56" height="1.78" fill="#7c71e2"/>
<rect x="122.62" y="124.6" width="1.56" height="1.78" fill="#8a7ff0"/>
<rect x="122.62" y="126.33" width="1.56" height="1.78" fill="#8d82f3"/>
<rect x="122.62" y="128.07" width="1.56" height="1.78" fill="#9489fa"/>
<rect x="122.62" y="129.8" width="1.56" height="1.78" fill="#887dee"/>
<rect x="122.62" y="131.53" width="1.56" height="1.78" fill="#988dfe"/>
<rect x="122.62" y="133.27" width="1.56" height="1.78" fill="#968bfc"/>
<rect x="122.62" y="135" width="1.56" height="1.78" fill="#8b80f1"/>
<rect x="122.62" y="136.73" width="1.56" height="1.78" fill="#8277e8"/>
<rect x="122.62" y="138.47" width="1.56" height="1.78" fill="#8277e8"/>
<rect x="122.62" y="140.2" width="1.56" height="1.78" fill="#958afb"/>
<rect x="122.62" y="141.93" width="1.56" height="1.78" fill="#877ced"/>
<rect x="122.62" y="143.67" width="1.56" height="1.78" fill="#877ced"/>
<rect x="122.62" y="145.4" width="1.56" height="1.78" fill="#8c81f2"/>
<rect x="122.62" y="147.13" width="1.56" height="1.78" fill="#8a7ff0"/>
<rect x="122.62" y="148.87" width="1.56" height="1.78" fill="#877ced"/>
<rect x="124.14" y="119.4" width="1.56" height="1.78" fill="#707ce6"/>
<rect x="124.14" y="121.13" width="1.56" height="1.78" fill="#5e6ad4"/>
<rect x="124.14" y="122.87" width="1.56" height="1.78" fill="#c0a0e8"/>
<rect x="124.14" y="124.6" width="1.56" height="1.78" fill="#6c78e2"/>
<rect x="124.14" y="126.33" width="1.56" height="1.78" fill="#8a7ff0"/>
<rect x="124.14" y="128.07" width="1.56" height="1.78" fill="#6e7ae4"/>
<rect x="124.14" y="129.8" width="1.56" height="1.78" fill="#6470da"/>
<rect x="124.14" y="131.53" width="1.56" height="1.78" fill="#6470da"/>
<rect x="124.14" y="133.27" width="1.56" height="1.78" fill="#6a76e0"/>
<rect x="124.14" y="135" width="1.56" height="1.78" fill="#7682ec"/>
<rect x="124.14" y="136.73" width="1.56" height="1.78" fill="#606cd6"/>
<rect x="124.14" y="138.47" width="1.56" height="1.78" fill="#5d69d3"/>
<rect x="124.14" y="140.2" width="1.56" height="1.78" fill="#616dd7"/>
<rect x="124.14" y="141.93" width="1.56" height="1.78" fill="#e0a8d0"/>
<rect x="124.14" y="143.67" width="1.56" height="1.78" fill="#6773dd"/>
<rect x="124.14" y="145.4" width="1.56" height="1.78" fill="#6a76e0"/>
<rect x="124.14" y="147.13" width="1.56" height="1.78" fill="#7783ed"/>
<rect x="124.14" y="148.87" width="1.56" height="1.78" fill="#5e6ad4"/>
<rect x="125.65" y="119.4" width="1.56" height="1.78" fill="#c59dd5"/>
<rect x="125.65" y="121.13" width="1.56" height="1.78" fill="#c49cd4"/>
<rect x="125.65" y="122.87" width="1.56" height="1.78" fill="#d4ace4"/>
<rect x="125.65" y="124.6" width="1.56" height="1.78" fill="#c49cd4"/>
<rect x="125.65" y="126.33" width="1.56" height="1.78" fill="#d7afe7"/>
<rect x="125.65" y="128.07" width="1.56" height="1.78" fill="#c79fd7"/>
<rect x="125.65" y="129.8" width="1.56" height="1.78" fill="#c79fd7"/>
<rect x="125.65" y="131.53" width="1.56" height="1.78" fill="#c9a1d9"/>
<rect x="125.65" y="133.27" width="1.56" height="1.78" fill="#c9a1d9"/>
<rect x="125.65" y="135" width="1.56" height="1.78" fill="#caa2da"/>
<rect x="125.65" y="136.73" width="1.56" height="1.78" fill="#c39bd3"/>
<rect x="125.65" y="138.47" width="1.56" height="1.78" fill="#6f70e6"/>
<rect x="125.65" y="140.2" width="1.56" height="1.78" fill="#caa2da"/>
<rect x="125.65" y="141.93" width="1.56" height="1.78" fill="#d8b0e8"/>
<rect x="125.65" y="143.67" width="1.56" height="1.78" fill="#dab2ea"/>
<rect x="125.65" y="145.4" width="1.56" height="1.78" fill="#c39bd3"/>
<rect x="125.65" y="147.13" width="1.56" height="1.78" fill="#cca4dc"/>
<rect x="125.65" y="148.87" width="1.56" height="1.78" fill="#c8a0d8"/>
<rect x="127.16" y="119.4" width="1.56" height="1.78" fill="#f9abae"/>
<rect x="127.16" y="121.13" width="1.56" height="1.78" fill="#ffb1b4"/>
<rect x="127.16" y="122.87" width="1.56" height="1.78" fill="#f6a8ab"/>
<rect x="127.16" y="124.6" width="1.56" height="1.78" fill="#efa1a4"/>
<rect x="127.16" y="126.33" width="1.56" height="1.78" fill="#f2a4a7"/>
<rect x="127.16" y="128.07" width="1.56" height="1.78" fill="#ec9ea1"/>
<rect x="127.16" y="129.8" width="1.56" height="1.78" fill="#ffb2b5"/>
<rect x="127.16" y="131.53" width="1.56" height="1.78" fill="#fcaeb1"/>
<rect x="127.16" y="133.27" width="1.56" height="1.78" fill="#f5a7aa"/>
<rect x="127.16" y="135" width="1.56" height="1.78" fill="#ed9fa2"/>
<rect x="127.16" y="136.73" width="1.56" height="1.78" fill="#ec9ea1"/>
<rect x="127.16" y="138.47" width="1.56" height="1.78" fill="#eea0a3"/>
<rect x="127.16" y="140.2" width="1.56" height="1.78" fill="#faacaf"/>
<rect x="127.16" y="141.93" width="1.56" height="1.78" fill="#ffb5b8"/>
<rect x="127.16" y="143.67" width="1.56" height="1.78" fill="#ffb1b4"/>
<rect x="127.16" y="145.4" width="1.56" height="1.78" fill="#ea9c9f"/>
<rect x="127.16" y="147.13" width="1.56" height="1.78" fill="#f3a5a8"/>
<rect x="127.16" y="148.87" width="1.56" height="1.78" fill="#fbadb0"/>
<rect x="128.68" y="119.4" width="1.56" height="1.78" fill="#f1a3a6"/>
<rect x="128.68" y="121.13" width="1.56" height="1.78" fill="#f6a8ab"/>
<rect x="128.68" y="122.87" width="1.56" height="1.78" fill="#f2a4a7"/>
<rect x="128.68" y="124.6" width="1.56" height="1.78" fill="#eea0a3"/>
<rect x="128.68" y="126.33" width="1.56" height="1.78" fill="#ec9ea1"/>
<rect x="128.68" y="128.07" width="1.56" height="1.78" fill="#f8aaad"/>
<rect x="128.68" y="129.8" width="1.56" height="1.78" fill="#f5a7aa"/>
<rect x="128.68" y="131.53" width="1.56" height="1.78" fill="#efa1a4"/>
<rect x="128.68" y="133.27" width="1.56" height="1.78" fill="#eea0a3"/>
<rect x="128.68" y="135" width="1.56" height="1.78" fill="#efa1a4"/>
<rect x="128.68" y="136.73" width="1.56" height="1.78" fill="#f0a2a5"/>
<rect x="128.68" y="138.47" width="1.56" height="1.78" fill="#ec9ea1"/>
<rect x="128.68" y="140.2" width="1.56" height="1.78" fill="#ea9c9f"/>
<rect x="128.68" y="141.93" width="1.56" height="1.78" fill="#ffb5b8"/>
<rect x="128.68" y="143.67" width="1.56" height="1.78" fill="#eb9da0"/>
<rect x="128.68" y="145.4" width="1.56" height="1.78" fill="#e89a9d"/>
<rect x="128.68" y="147.13" width="1.56" height="1.78" fill="#ffb2b5"/>
<rect x="128.68" y="148.87" width="1.56" height="1.78" fill="#ed9fa2"/>
<rect x="130.19" y="119.4" width="1.56" height="1.78" fill="#ea9c9f"/>
<rect x="130.19" y="121.13" width="1.56" height="1.78" fill="#ed9fa2"/>
<rect x="130.19" y="122.87" width="1.56" height="1.78" fill="#f4a6a9"/>
<rect x="130.19" y="124.6" width="1.56" height="1.78" fill="#eea0a3"/>
<rect x="130.19" y="126.33" width="1.56" height="1.78" fill="#ea9c9f"/>
<rect x="130.19" y="128.07" width="1.56" height="1.78" fill="#f4a6a9"/>
<rect x="130.19" y="129.8" width="1.56" height="1.78" fill="#e89a9d"/>
<rect x="130.19" y="131.53" width="1.56" height="1.78" fill="#f0a2a5"/>
<rect x="130.19" y="133.27" width="1.56" height="1.78" fill="#f29aa0"/>
<rect x="130.19" y="135" width="1.56" height="1.78" fill="#f1a3a6"/>
<rect x="130.19" y="136.73" width="1.56" height="1.78" fill="#f29aa0"/>
<rect x="130.19" y="138.47" width="1.56" height="1.78" fill="#f0a2a5"/>
<rect x="130.19" y="140.2" width="1.56" height="1.78" fill="#ee7a84"/>
<rect x="130.19" y="141.93" width="1.56" height="1.78" fill="#ed9fa2"/>
<rect x="130.19" y="143.67" width="1.56" height="1.78" fill="#ec9ea1"/>
<rect x="130.19" y="145.4" width="1.56" height="1.78" fill="#ec9ea1"/>
<rect x="130.19" y="147.13" width="1.56" height="1.78" fill="#eea0a3"/>
<rect x="130.19" y="148.87" width="1.56" height="1.78" fill="#ed9fa2"/>
<rect x="131.7" y="119.4" width="1.56" height="1.78" fill="#fe8d94"/>
<rect x="131.7" y="121.13" width="1.56" height="1.78" fill="#f18087"/>
<rect x="131.7" y="122.87" width="1.56" height="1.78" fill="#e7767d"/>
<rect x="131.7" y="124.6" width="1.56" height="1.78" fill="#f5848b"/>
<rect x="131.7" y="126.33" width="1.56" height="1.78" fill="#f6858c"/>
<rect x="131.7" y="128.07" width="1.56" height="1.78" fill="#f4838a"/>
<rect x="131.7" y="129.8" width="1.56" height="1.78" fill="#e27178"/>
<rect x="131.7" y="131.53" width="1.56" height="1.78" fill="#f9888f"/>
<rect x="131.7" y="133.27" width="1.56" height="1.78" fill="#fc8b92"/>
<rect x="131.7" y="135" width="1.56" height="1.78" fill="#e37279"/>
<rect x="131.7" y="136.73" width="1.56" height="1.78" fill="#ed7c83"/>
<rect x="131.7" y="138.47" width="1.56" height="1.78" fill="#fc8b92"/>
<rect x="131.7" y="140.2" width="1.56" height="1.78" fill="#f18087"/>
<rect x="131.7" y="141.93" width="1.56" height="1.78" fill="#ef7e85"/>
<rect x="131.7" y="143.67" width="1.56" height="1.78" fill="#f18087"/>
<rect x="131.7" y="145.4" width="1.56" height="1.78" fill="#f7868d"/>
<rect x="131.7" y="147.13" width="1.56" height="1.78" fill="#e7767d"/>
<rect x="131.7" y="148.87" width="1.56" height="1.78" fill="#f6b2b2"/>
<rect x="133.21" y="119.4" width="1.56" height="1.78" fill="#f9abae"/>
<rect x="133.21" y="121.13" width="1.56" height="1.78" fill="#e7999c"/>
<rect x="133.21" y="122.87" width="1.56" height="1.78" fill="#f5a7aa"/>
<rect x="133.21" y="124.6" width="1.56" height="1.78" fill="#e99b9e"/>
<rect x="133.21" y="126.33" width="1.56" height="1.78" fill="#fdafb2"/>
<rect x="133.21" y="128.07" width="1.56" height="1.78" fill="#ffb3b6"/>
<rect x="133.21" y="129.8" width="1.56" height="1.78" fill="#f1a3a6"/>
<rect x="133.21" y="131.53" width="1.56" height="1.78" fill="#ffb4b7"/>
<rect x="133.21" y="133.27" width="1.56" height="1.78" fill="#ffb1b4"/>
<rect x="133.21" y="135" width="1.56" height="1.78" fill="#f0a2a5"/>
<rect x="133.21" y="136.73" width="1.56" height="1.78" fill="#feb0b3"/>
<rect x="133.21" y="138.47" width="1.56" height="1.78" fill="#f29aa0"/>
<rect x="133.21" y="140.2" width="1.56" height="1.78" fill="#f07f86"/>
<rect x="133.21" y="141.93" width="1.56" height="1.78" fill="#eea0a3"/>
<rect x="133.21" y="143.67" width="1.56" height="1.78" fill="#ec9ea1"/>
<rect x="133.21" y="145.4" width="1.56" height="1.78" fill="#efa1a4"/>
<rect x="133.21" y="147.13" width="1.56" height="1.78" fill="#f6b2b2"/>
<rect x="133.21" y="148.87" width="1.56" height="1.78" fill="#feb0b3"/>
<rect x="134.73" y="119.4" width="1.56" height="1.78" fill="#fc8b92"/>
<rect x="134.73" y="121.13" width="1.56" height="1.78" fill="#f4838a"/>
<rect x="134.73" y="122.87" width="1.56" height="1.78" fill="#e9787f"/>
<rect x="134.73" y="124.6" width="1.56" height="1.78" fill="#e5747b"/>
<rect x="134.73" y="126.33" width="1.56" height="1.78" fill="#e5747b"/>
<rect x="134.73" y="128.07" width="1.56" height="1.78" fill="#e37279"/>
<rect x="134.73" y="129.8" width="1.56" height="1.78" fill="#f07f86"/>
<rect x="134.73" y="131.53" width="1.56" height="1.78" fill="#f28188"/>
<rect x="134.73" y="133.27" width="1.56" height="1.78" fill="#e5747b"/>
<rect x="134.73" y="135" width="1.56" height="1.78" fill="#ee7d84"/>
<rect x="134.73" y="136.73" width="1.56" height="1.78" fill="#f38289"/>
<rect x="134.73" y="138.47" width="1.56" height="1.78" fill="#fd8c93"/>
<rect x="134.73" y="140.2" width="1.56" height="1.78" fill="#f7868d"/>
<rect x="134.73" y="141.93" width="1.56" height="1.78" fill="#f9888f"/>
<rect x="134.73" y="143.67" width="1.56" height="1.78" fill="#f6b2b2"/>
<rect x="134.73" y="145.4" width="1.56" height="1.78" fill="#ee7d84"/>
<rect x="134.73" y="147.13" width="1.56" height="1.78" fill="#f5848b"/>
<rect x="134.73" y="148.87" width="1.56" height="1.78" fill="#f07f86"/>
<rect x="136.24" y="119.4" width="1.56" height="1.78" fill="#f1a3a6"/>
<rect x="136.24" y="121.13" width="1.56" height="1.78" fill="#ffb3b6"/>
<rect x="136.24" y="122.87" width="1.56" height="1.78" fill="#f4a6a9"/>
<rect x="136.24" y="124.6" width="1.56" height="1.78" fill="#f9abae"/>
<rect x="136.24" y="126.33" width="1.56" height="1.78" fill="#f1a3a6"/>
<rect x="136.24" y="128.07" width="1.56" height="1.78" fill="#ffb4b7"/>
<rect x="136.24" y="129.8" width="1.56" height="1.78" fill="#f1a3a6"/>
<rect x="136.24" y="131.53" width="1.56" height="1.78" fill="#fcaeb1"/>
<rect x="136.24" y="133.27" width="1.56" height="1.78" fill="#eea0a3"/>
<rect x="136.24" y="135" width="1.56" height="1.78" fill="#fcaeb1"/>
<rect x="136.24" y="136.73" width="1.56" height="1.78" fill="#f2a4a7"/>
<rect x="136.24" y="138.47" width="1.56" height="1.78" fill="#ec9ea1"/>
<rect x="136.24" y="140.2" width="1.56" height="1.78" fill="#f4a6a9"/>
<rect x="136.24" y="141.93" width="1.56" height="1.78" fill="#f3939a"/>
<rect x="136.24" y="143.67" width="1.56" height="1.78" fill="#f4a6a9"/>
<rect x="136.24" y="145.4" width="1.56" height="1.78" fill="#ffb1b4"/>
<rect x="136.24" y="147.13" width="1.56" height="1.78" fill="#f5a7aa"/>
<rect x="136.24" y="148.87" width="1.56" height="1.78" fill="#ffb2b5"/>
<rect x="137.75" y="119.4" width="1.56" height="1.78" fill="#e37279"/>
<rect x="137.75" y="121.13" width="1.56" height="1.78" fill="#f5848b"/>
<rect x="137.75" y="122.87" width="1.56" height="1.78" fill="#f7868d"/>
<rect x="137.75" y="124.6" width="1.56" height="1.78" fill="#f6858c"/>
<rect x="137.75" y="126.33" width="1.56" height="1.78" fill="#e37279"/>
<rect x="137.75" y="128.07" width="1.56" height="1.78" fill="#ea7980"/>
<rect x="137.75" y="129.8" width="1.56" height="1.78" fill="#e27178"/>
<rect x="137.75" y="131.53" width="1.56" height="1.78" fill="#e37279"/>
<rect x="137.75" y="133.27" width="1.56" height="1.78" fill="#eb7a81"/>
<rect x="137.75" y="135" width="1.56" height="1.78" fill="#e7767d"/>
<rect x="137.75" y="136.73" width="1.56" height="1.78" fill="#f5848b"/>
<rect x="137.75" y="138.47" width="1.56" height="1.78" fill="#f28188"/>
<rect x="137.75" y="140.2" width="1.56" height="1.78" fill="#e4737a"/>
<rect x="137.75" y="141.93" width="1.56" height="1.78" fill="#f38289"/>
<rect x="137.75" y="143.67" width="1.56" height="1.78" fill="#f07f86"/>
<rect x="137.75" y="145.4" width="1.56" height="1.78" fill="#e6757c"/>
<rect x="137.75" y="147.13" width="1.56" height="1.78" fill="#ef7e85"/>
<rect x="137.75" y="148.87" width="1.56" height="1.78" fill="#ea7980"/>
<rect x="139.26" y="119.4" width="1.56" height="1.78" fill="#f9888f"/>
<rect x="139.26" y="121.13" width="1.56" height="1.78" fill="#fc8b92"/>
<rect x="139.26" y="122.87" width="1.56" height="1.78" fill="#f8878e"/>
<rect x="139.26" y="124.6" width="1.56" height="1.78" fill="#f6858c"/>
<rect x="139.26" y="126.33" width="1.56" height="1.78" fill="#f38289"/>
<rect x="139.26" y="128.07" width="1.56" height="1.78" fill="#f07f86"/>
<rect x="139.26" y="129.8" width="1.56" height="1.78" fill="#eb7a81"/>
<rect x="139.26" y="131.53" width="1.56" height="1.78" fill="#f18087"/>
<rect x="139.26" y="133.27" width="1.56" height="1.78" fill="#e27178"/>
<rect x="139.26" y="135" width="1.56" height="1.78" fill="#e9787f"/>
<rect x="139.26" y="136.73" width="1.56" height="1.78" fill="#f38289"/>
<rect x="139.26" y="138.47" width="1.56" height="1.78" fill="#f4838a"/>
<rect x="139.26" y="140.2" width="1.56" height="1.78" fill="#ed7c83"/>
<rect x="139.26" y="141.93" width="1.56" height="1.78" fill="#e9787f"/>
<rect x="139.26" y="143.67" width="1.56" height="1.78" fill="#ec7b82"/>
<rect x="139.26" y="145.4" width="1.56" height="1.78" fill="#eb7a81"/>
<rect x="139.26" y="147.13" width="1.56" height="1.78" fill="#e8777e"/>
<rect x="139.26" y="148.87" width="1.56" height="1.78" fill="#f29aa0"/>
<rect x="140.78" y="119.4" width="1.56" height="1.78" fill="#f5848b"/>
<rect x="140.78" y="121.13" width="1.56" height="1.78" fill="#f07f86"/>
<rect x="140.78" y="122.87" width="1.56" height="1.78" fill="#f28188"/>
<rect x="140.78" y="124.6" width="1.56" height="1.78" fill="#f07f86"/>
<rect x="140.78" y="126.33" width="1.56" height="1.78" fill="#fa8990"/>
<rect x="140.78" y="128.07" width="1.56" height="1.78" fill="#e9787f"/>
<rect x="140.78" y="129.8" width="1.56" height="1.78" fill="#f7868d"/>
<rect x="140.78" y="131.53" width="1.56" height="1.78" fill="#e6757c"/>
<rect x="140.78" y="133.27" width="1.56" height="1.78" fill="#f7868d"/>
<rect x="140.78" y="135" width="1.56" height="1.78" fill="#f7868d"/>
<rect x="140.78" y="136.73" width="1.56" height="1.78" fill="#f5848b"/>
<rect x="140.78" y="138.47" width="1.56" height="1.78" fill="#fc8b92"/>
<rect x="140.78" y="140.2" width="1.56" height="1.78" fill="#e5747b"/>
<rect x="140.78" y="141.93" width="1.56" height="1.78" fill="#f9888f"/>
<rect x="140.78" y="143.67" width="1.56" height="1.78" fill="#f18087"/>
<rect x="140.78" y="145.4" width="1.56" height="1.78" fill="#f6858c"/>
<rect x="140.78" y="147.13" width="1.56" height="1.78" fill="#f8878e"/>
<rect x="140.78" y="148.87" width="1.56" height="1.78" fill="#fd8c93"/>
<rect x="142.29" y="119.4" width="1.56" height="1.78" fill="#f8848e"/>
<rect x="142.29" y="121.13" width="1.56" height="1.78" fill="#e36f79"/>
<rect x="142.29" y="122.87" width="1.56" height="1.78" fill="#f27e88"/>
<rect x="142.29" y="124.6" width="1.56" height="1.78" fill="#fb8791"/>
<rect x="142.29" y="126.33" width="1.56" height="1.78" fill="#fb8791"/>
<rect x="142.29" y="128.07" width="1.56" height="1.78" fill="#e36f79"/>
<rect x="142.29" y="129.8" width="1.56" height="1.78" fill="#ee7a84"/>
<rect x="142.29" y="131.53" width="1.56" height="1.78" fill="#e9757f"/>
<rect x="142.29" y="133.27" width="1.56" height="1.78" fill="#e9757f"/>
<rect x="142.29" y="135" width="1.56" height="1.78" fill="#f07c86"/>
<rect x="142.29" y="136.73" width="1.56" height="1.78" fill="#ec7882"/>
<rect x="142.29" y="138.47" width="1.56" height="1.78" fill="#e06c76"/>
<rect x="142.29" y="140.2" width="1.56" height="1.78" fill="#fb8791"/>
<rect x="142.29" y="141.93" width="1.56" height="1.78" fill="#ec7882"/>
<rect x="142.29" y="143.67" width="1.56" height="1.78" fill="#e5717b"/>
<rect x="142.29" y="145.4" width="1.56" height="1.78" fill="#f9858f"/>
<rect x="142.29" y="147.13" width="1.56" height="1.78" fill="#f27e88"/>
<rect x="142.29" y="148.87" width="1.56" height="1.78" fill="#e7737d"/>
<rect x="143.8" y="111.6" width="2.5" height="1.8" fill="#f2b49a"/>
<rect x="143.8" y="115.2" width="2.5" height="2" fill="#c8b0f0"/>
<rect x="150.8" y="110.2" width="1.4" height="6" fill="#a8283a"/>
<rect x="150.8" y="120.2" width="1.4" height="8.3" fill="#1f2f7a"/>
<text x="154" y="111.2" font-size="1.7" fill="#777" text-anchor="start" font-family="'Liberation Sans', Arial, sans-serif" >geneCluster</text>
<text x="154" y="113.75" font-size="1.7" fill="#777" text-anchor="start" font-family="'Liberation Sans', Arial, sans-serif" >A</text>
<rect x="153" y="112.75" width="0.8" height="1" fill="#f0a050"/>
<text x="154" y="116.3" font-size="1.7" fill="#777" text-anchor="start" font-family="'Liberation Sans', Arial, sans-serif" >B</text>
<rect x="153" y="115.3" width="0.8" height="1" fill="#60a0e0"/>
<text x="154" y="118.85" font-size="1.7" fill="#777" text-anchor="start" font-family="'Liberation Sans', Arial, sans-serif" >C</text>
<rect x="153" y="117.85" width="0.8" height="1" fill="#80c080"/>
<text x="154" y="121.4" font-size="1.7" fill="#777" text-anchor="start" font-family="'Liberation Sans', Arial, sans-serif" ></text>
<text x="154" y="123.95" font-size="1.7" fill="#777" text-anchor="start" font-family="'Liberation Sans', Arial, sans-serif" >ICIcluster</text>
<text x="154" y="126.5" font-size="1.7" fill="#777" text-anchor="start" font-family="'Liberation Sans', Arial, sans-serif" >A</text>
<rect x="153" y="125.5" width="0.8" height="1" fill="#f0a050"/>
<text x="154" y="129.05" font-size="1.7" fill="#777" text-anchor="start" font-family="'Liberation Sans', Arial, sans-serif" >B</text>
<rect x="153" y="128.05" width="0.8" height="1" fill="#60a0e0"/>
<text x="154" y="131.6" font-size="1.7" fill="#777" text-anchor="start" font-family="'Liberation Sans', Arial, sans-serif" >C</text>
<rect x="153" y="130.6" width="0.8" height="1" fill="#80c080"/>
<text x="154" y="134.15" font-size="1.7" fill="#777" text-anchor="start" font-family="'Liberation Sans', Arial, sans-serif" >Age</text>
<rect x="153" y="133.15" width="0.8" height="1" fill="#b080e0"/>
<text x="154" y="136.7" font-size="1.7" fill="#777" text-anchor="start" font-family="'Liberation Sans', Arial, sans-serif" >&lt;=60</text>
<text x="154" y="139.25" font-size="1.7" fill="#777" text-anchor="start" font-family="'Liberation Sans', Arial, sans-serif" >&gt;60</text>
<text x="154" y="141.8" font-size="1.7" fill="#777" text-anchor="start" font-family="'Liberation Sans', Arial, sans-serif" >Stage</text>
<text x="154" y="144.35" font-size="1.7" fill="#777" text-anchor="start" font-family="'Liberation Sans', Arial, sans-serif" >I</text>
<rect x="153" y="143.35" width="0.8" height="1" fill="#80c080"/>
<text x="154" y="146.9" font-size="1.7" fill="#777" text-anchor="start" font-family="'Liberation Sans', Arial, sans-serif" >II</text>
<rect x="153" y="145.9" width="0.8" height="1" fill="#b080e0"/>
<text x="55.3" y="171.6" font-size="2.3" fill="#333" text-anchor="start" font-family="'Liberation Sans', Arial, sans-serif" font-weight="bold">a</text>
<line x1="58" y1="175" x2="58" y2="192" stroke="#888" stroke-width="0.35" />
<line x1="58" y1="192" x2="90.5" y2="192" stroke="#888" stroke-width="0.35" />
<line x1="57.2" y1="175" x2="58" y2="175" stroke="#888" stroke-width="0.3" />
<text x="57" y="175.5" font-size="1.3" fill="#999" text-anchor="end" font-family="'Liberation Sans', Arial, sans-serif" >1.00</text>
<line x1="57.2" y1="179.25" x2="58" y2="179.25" stroke="#888" stroke-width="0.3" />
<text x="57" y="179.75" font-size="1.3" fill="#999" text-anchor="end" font-family="'Liberation Sans', Arial, sans-serif" >0.75</text>
<line x1="57.2" y1="183.5" x2="58" y2="183.5" stroke="#888" stroke-width="0.3" />
<text x="57" y="184" font-size="1.3" fill="#999" text-anchor="end" font-family="'Liberation Sans', Arial, sans-serif" >0.50</text>
<line x1="57.2" y1="187.75" x2="58" y2="187.75" stroke="#888" stroke-width="0.3" />
<text x="57" y="188.25" font-size="1.3" fill="#999" text-anchor="end" font-family="'Liberation Sans', Arial, sans-serif" >0.25</text>
<line x1="57.2" y1="192" x2="58" y2="192" stroke="#888" stroke-width="0.3" />
<text x="57" y="192.5" font-size="1.3" fill="#999" text-anchor="end" font-family="'Liberation Sans', Arial, sans-serif" >0.00</text>
<rect x="55.8" y="180" width="1" height="7" fill="#f3d9a6"/>
<line x1="58" y1="192" x2="58" y2="192.9" stroke="#888" stroke-width="0.3" />
<line x1="62.06" y1="192" x2="62.06" y2="192.9" stroke="#888" stroke-width="0.3" />
<line x1="66.12" y1="192" x2="66.12" y2="192.9" stroke="#888" stroke-width="0.3" />
<line x1="70.19" y1="192" x2="70.19" y2="192.9" stroke="#888" stroke-width="0.3" />
<line x1="74.25" y1="192" x2="74.25" y2="192.9" stroke="#888" stroke-width="0.3" />
<line x1="78.31" y1="192" x2="78.31" y2="192.9" stroke="#888" stroke-width="0.3" />
<line x1="82.38" y1="192" x2="82.38" y2="192.9" stroke="#888" stroke-width="0.3" />
<line x1="86.44" y1="192" x2="86.44" y2="192.9" stroke="#888" stroke-width="0.3" />
<line x1="90.5" y1="192" x2="90.5" y2="192.9" stroke="#888" stroke-width="0.3" />
<path d="M59,175.3 C61,178.5 64,181 68,182.8 C71,184 74,185.2 77,185.5 L91,185.6" fill="none" stroke="#5b79d2" stroke-width="0.65" />
<path d="M59.5,188.4 L75,188.9" fill="none" stroke="#f2c88a" stroke-width="0.5" />
<text x="60" y="189.8" font-size="1.3" fill="#888" text-anchor="start" font-family="'Liberation Sans', Arial, sans-serif" >p&lt;0.001</text>
<text x="76.7" y="194.8" font-size="1.3" fill="#999" text-anchor="middle" font-family="'Liberation Sans', Arial, sans-serif" >Time (years)</text>
<text x="54" y="196.3" font-size="1.6" fill="#555" text-anchor="start" font-family="'Liberation Sans', Arial, sans-serif" >Number at risk</text>
<text x="54" y="199.3" font-size="1.7" fill="#444" text-anchor="start" font-family="'Liberation Sans', Arial, sans-serif" >High</text>
<text x="58" y="199.3" font-size="1.8" fill="#555" text-anchor="middle" font-family="'Liberation Sans', Arial, sans-serif" >200</text>
<text x="62.06" y="199.3" font-size="1.8" fill="#555" text-anchor="middle" font-family="'Liberation Sans', Arial, sans-serif" >180</text>
<text x="66.12" y="199.3" font-size="1.8" fill="#555" text-anchor="middle" font-family="'Liberation Sans', Arial, sans-serif" >160</text>
<text x="70.19" y="199.3" font-size="1.8" fill="#555" text-anchor="middle" font-family="'Liberation Sans', Arial, sans-serif" >140</text>
<text x="74.25" y="199.3" font-size="1.8" fill="#555" text-anchor="middle" font-family="'Liberation Sans', Arial, sans-serif" >120</text>
<text x="78.31" y="199.3" font-size="1.8" fill="#555" text-anchor="middle" font-family="'Liberation Sans', Arial, sans-serif" >100</text>
<text x="82.38" y="199.3" font-size="1.8" fill="#555" text-anchor="middle" font-family="'Liberation Sans', Arial, sans-serif" >80</text>
<text x="86.44" y="199.3" font-size="1.8" fill="#555" text-anchor="middle" font-family="'Liberation Sans', Arial, sans-serif" >60</text>
<text x="90.5" y="199.3" font-size="1.8" fill="#555" text-anchor="middle" font-family="'Liberation Sans', Arial, sans-serif" >40</text>
<text x="54" y="202.7" font-size="1.7" fill="#444" text-anchor="start" font-family="'Liberation Sans', Arial, sans-serif" >Low</text>
<text x="58" y="202.7" font-size="1.8" fill="#555" text-anchor="middle" font-family="'Liberation Sans', Arial, sans-serif" >160</text>
<text x="62.06" y="202.7" font-size="1.8" fill="#555" text-anchor="middle" font-family="'Liberation Sans', Arial, sans-serif" >140</text>
<text x="66.12" y="202.7" font-size="1.8" fill="#555" text-anchor="middle" font-family="'Liberation Sans', Arial, sans-serif" >120</text>
<text x="70.19" y="202.7" font-size="1.8" fill="#555" text-anchor="middle" font-family="'Liberation Sans', Arial, sans-serif" >100</text>
<text x="74.25" y="202.7" font-size="1.8" fill="#555" text-anchor="middle" font-family="'Liberation Sans', Arial, sans-serif" >80</text>
<text x="78.31" y="202.7" font-size="1.8" fill="#555" text-anchor="middle" font-family="'Liberation Sans', Arial, sans-serif" >60</text>
<text x="82.38" y="202.7" font-size="1.8" fill="#555" text-anchor="middle" font-family="'Liberation Sans', Arial, sans-serif" >40</text>
<text x="86.44" y="202.7" font-size="1.8" fill="#555" text-anchor="middle" font-family="'Liberation Sans', Arial, sans-serif" >20</text>
<text x="90.5" y="202.7" font-size="1.8" fill="#555" text-anchor="middle" font-family="'Liberation Sans', Arial, sans-serif" >0</text>
<text x="76.7" y="204.6" font-size="1.2" fill="#999" text-anchor="middle" font-family="'Liberation Sans', Arial, sans-serif" >Time (years)</text>
<text x="94.8" y="171.6" font-size="2.3" fill="#333" text-anchor="start" font-family="'Liberation Sans', Arial, sans-serif" font-weight="bold">b</text>
<line x1="97.5" y1="175" x2="97.5" y2="192" stroke="#888" stroke-width="0.35" />
<line x1="97.5" y1="192" x2="130" y2="192" stroke="#888" stroke-width="0.35" />
<line x1="96.7" y1="175" x2="97.5" y2="175" stroke="#888" stroke-width="0.3" />
<text x="96.5" y="175.5" font-size="1.3" fill="#999" text-anchor="end" font-family="'Liberation Sans', Arial, sans-serif" >1.00</text>
<line x1="96.7" y1="179.25" x2="97.5" y2="179.25" stroke="#888" stroke-width="0.3" />
<text x="96.5" y="179.75" font-size="1.3" fill="#999" text-anchor="end" font-family="'Liberation Sans', Arial, sans-serif" >0.75</text>
<line x1="96.7" y1="183.5" x2="97.5" y2="183.5" stroke="#888" stroke-width="0.3" />
<text x="96.5" y="184" font-size="1.3" fill="#999" text-anchor="end" font-family="'Liberation Sans', Arial, sans-serif" >0.50</text>
<line x1="96.7" y1="187.75" x2="97.5" y2="187.75" stroke="#888" stroke-width="0.3" />
<text x="96.5" y="188.25" font-size="1.3" fill="#999" text-anchor="end" font-family="'Liberation Sans', Arial, sans-serif" >0.25</text>
<line x1="96.7" y1="192" x2="97.5" y2="192" stroke="#888" stroke-width="0.3" />
<text x="96.5" y="192.5" font-size="1.3" fill="#999" text-anchor="end" font-family="'Liberation Sans', Arial, sans-serif" >0.00</text>
<rect x="95.3" y="180" width="1" height="7" fill="#f3d9a6"/>
<line x1="97.5" y1="192" x2="97.5" y2="192.9" stroke="#888" stroke-width="0.3" />
<line x1="101.56" y1="192" x2="101.56" y2="192.9" stroke="#888" stroke-width="0.3" />
<line x1="105.62" y1="192" x2="105.62" y2="192.9" stroke="#888" stroke-width="0.3" />
<line x1="109.69" y1="192" x2="109.69" y2="192.9" stroke="#888" stroke-width="0.3" />
<line x1="113.75" y1="192" x2="113.75" y2="192.9" stroke="#888" stroke-width="0.3" />
<line x1="117.81" y1="192" x2="117.81" y2="192.9" stroke="#888" stroke-width="0.3" />
<line x1="121.88" y1="192" x2="121.88" y2="192.9" stroke="#888" stroke-width="0.3" />
<line x1="125.94" y1="192" x2="125.94" y2="192.9" stroke="#888" stroke-width="0.3" />
<line x1="130" y1="192" x2="130" y2="192.9" stroke="#888" stroke-width="0.3" />
<path d="M98,175.5 L99.5,177.4 L113,177.9 L113,181.4 L126,182.3 L126,189" fill="none" stroke="#7a92dc" stroke-width="0.55" />
<path d="M98,181 L110.8,182.8 L110.8,186" fill="none" stroke="#f0c48a" stroke-width="0.45" />
<text x="99.5" y="189.8" font-size="1.3" fill="#888" text-anchor="start" font-family="'Liberation Sans', Arial, sans-serif" >p&lt;0.001</text>
<text x="116.2" y="194.8" font-size="1.3" fill="#999" text-anchor="middle" font-family="'Liberation Sans', Arial, sans-serif" >Time (years)</text>
<text x="93.5" y="196.3" font-size="1.6" fill="#555" text-anchor="start" font-family="'Liberation Sans', Arial, sans-serif" >Number at risk</text>
<text x="93.5" y="199.3" font-size="1.7" fill="#444" text-anchor="start" font-family="'Liberation Sans', Arial, sans-serif" >High</text>
<text x="97.5" y="199.3" font-size="1.8" fill="#555" text-anchor="middle" font-family="'Liberation Sans', Arial, sans-serif" >200</text>
<text x="101.56" y="199.3" font-size="1.8" fill="#555" text-anchor="middle" font-family="'Liberation Sans', Arial, sans-serif" >180</text>
<text x="105.62" y="199.3" font-size="1.8" fill="#555" text-anchor="middle" font-family="'Liberation Sans', Arial, sans-serif" >160</text>
<text x="109.69" y="199.3" font-size="1.8" fill="#555" text-anchor="middle" font-family="'Liberation Sans', Arial, sans-serif" >140</text>
<text x="113.75" y="199.3" font-size="1.8" fill="#555" text-anchor="middle" font-family="'Liberation Sans', Arial, sans-serif" >120</text>
<text x="117.81" y="199.3" font-size="1.8" fill="#555" text-anchor="middle" font-family="'Liberation Sans', Arial, sans-serif" >100</text>
<text x="121.88" y="199.3" font-size="1.8" fill="#555" text-anchor="middle" font-family="'Liberation Sans', Arial, sans-serif" >80</text>
<text x="125.94" y="199.3" font-size="1.8" fill="#555" text-anchor="middle" font-family="'Liberation Sans', Arial, sans-serif" >60</text>
<text x="130" y="199.3" font-size="1.8" fill="#555" text-anchor="middle" font-family="'Liberation Sans', Arial, sans-serif" >40</text>
<text x="93.5" y="202.7" font-size="1.7" fill="#444" text-anchor="start" font-family="'Liberation Sans', Arial, sans-serif" >Low</text>
<text x="97.5" y="202.7" font-size="1.8" fill="#555" text-anchor="middle" font-family="'Liberation Sans', Arial, sans-serif" >160</text>
<text x="101.56" y="202.7" font-size="1.8" fill="#555" text-anchor="middle" font-family="'Liberation Sans', Arial, sans-serif" >140</text>
<text x="105.62" y="202.7" font-size="1.8" fill="#555" text-anchor="middle" font-family="'Liberation Sans', Arial, sans-serif" >120</text>
<text x="109.69" y="202.7" font-size="1.8" fill="#555" text-anchor="middle" font-family="'Liberation Sans', Arial, sans-serif" >100</text>
<text x="113.75" y="202.7" font-size="1.8" fill="#555" text-anchor="middle" font-family="'Liberation Sans', Arial, sans-serif" >80</text>
<text x="117.81" y="202.7" font-size="1.8" fill="#555" text-anchor="middle" font-family="'Liberation Sans', Arial, sans-serif" >60</text>
<text x="121.88" y="202.7" font-size="1.8" fill="#555" text-anchor="middle" font-family="'Liberation Sans', Arial, sans-serif" >40</text>
<text x="125.94" y="202.7" font-size="1.8" fill="#555" text-anchor="middle" font-family="'Liberation Sans', Arial, sans-serif" >20</text>
<text x="130" y="202.7" font-size="1.8" fill="#555" text-anchor="middle" font-family="'Liberation Sans', Arial, sans-serif" >0</text>
<text x="116.2" y="204.6" font-size="1.2" fill="#999" text-anchor="middle" font-family="'Liberation Sans', Arial, sans-serif" >Time (years)</text>
<text x="134.3" y="171.6" font-size="2.3" fill="#333" text-anchor="start" font-family="'Liberation Sans', Arial, sans-serif" font-weight="bold">c</text>
<line x1="137" y1="175" x2="137" y2="192" stroke="#888" stroke-width="0.35" />
<line x1="137" y1="192" x2="168.4" y2="192" stroke="#888" stroke-width="0.35" />
<line x1="136.2" y1="175" x2="137" y2="175" stroke="#888" stroke-width="0.3" />
<text x="136" y="175.5" font-size="1.3" fill="#999" text-anchor="end" font-family="'Liberation Sans', Arial, sans-serif" >1.00</text>
<line x1="136.2" y1="179.25" x2="137" y2="179.25" stroke="#888" stroke-width="0.3" />
<text x="136" y="179.75" font-size="1.3" fill="#999" text-anchor="end" font-family="'Liberation Sans', Arial, sans-serif" >0.75</text>
<line x1="136.2" y1="183.5" x2="137" y2="183.5" stroke="#888" stroke-width="0.3" />
<text x="136" y="184" font-size="1.3" fill="#999" text-anchor="end" font-family="'Liberation Sans', Arial, sans-serif" >0.50</text>
<line x1="136.2" y1="187.75" x2="137" y2="187.75" stroke="#888" stroke-width="0.3" />
<text x="136" y="188.25" font-size="1.3" fill="#999" text-anchor="end" font-family="'Liberation Sans', Arial, sans-serif" >0.25</text>
<line x1="136.2" y1="192" x2="137" y2="192" stroke="#888" stroke-width="0.3" />
<text x="136" y="192.5" font-size="1.3" fill="#999" text-anchor="end" font-family="'Liberation Sans', Arial, sans-serif" >0.00</text>
<rect x="134.8" y="180" width="1" height="7" fill="#f3d9a6"/>
<line x1="137" y1="192" x2="137" y2="192.9" stroke="#888" stroke-width="0.3" />
<line x1="140.93" y1="192" x2="140.93" y2="192.9" stroke="#888" stroke-width="0.3" />
<line x1="144.85" y1="192" x2="144.85" y2="192.9" stroke="#888" stroke-width="0.3" />
<line x1="148.78" y1="192" x2="148.78" y2="192.9" stroke="#888" stroke-width="0.3" />
<line x1="152.7" y1="192" x2="152.7" y2="192.9" stroke="#888" stroke-width="0.3" />
<line x1="156.62" y1="192" x2="156.62" y2="192.9" stroke="#888" stroke-width="0.3" />
<line x1="160.55" y1="192" x2="160.55" y2="192.9" stroke="#888" stroke-width="0.3" />
<line x1="164.47" y1="192" x2="164.47" y2="192.9" stroke="#888" stroke-width="0.3" />
<line x1="168.4" y1="192" x2="168.4" y2="192.9" stroke="#888" stroke-width="0.3" />
<path d="M137.5,175 C139,178 141.5,180.2 146,181.8 C150,183 155,184 160,185 L166,185.6 L166,188.5" fill="none" stroke="#5b79d2" stroke-width="0.65" />
<path d="M138,188.4 L149,188.8" fill="none" stroke="#f2c88a" stroke-width="0.5" />
<text x="139" y="189.8" font-size="1.3" fill="#888" text-anchor="start" font-family="'Liberation Sans', Arial, sans-serif" >p&lt;0.001</text>
<text x="155.04" y="194.8" font-size="1.3" fill="#999" text-anchor="middle" font-family="'Liberation Sans', Arial, sans-serif" >Time (years)</text>
<text x="133" y="196.3" font-size="1.6" fill="#555" text-anchor="start" font-family="'Liberation Sans', Arial, sans-serif" >Number at risk</text>
<text x="133" y="199.3" font-size="1.7" fill="#444" text-anchor="start" font-family="'Liberation Sans', Arial, sans-serif" >High</text>
<text x="137" y="199.3" font-size="1.8" fill="#555" text-anchor="middle" font-family="'Liberation Sans', Arial, sans-serif" >200</text>
<text x="140.93" y="199.3" font-size="1.8" fill="#555" text-anchor="middle" font-family="'Liberation Sans', Arial, sans-serif" >180</text>
<text x="144.85" y="199.3" font-size="1.8" fill="#555" text-anchor="middle" font-family="'Liberation Sans', Arial, sans-serif" >160</text>
<text x="148.78" y="199.3" font-size="1.8" fill="#555" text-anchor="middle" font-family="'Liberation Sans', Arial, sans-serif" >140</text>
<text x="152.7" y="199.3" font-size="1.8" fill="#555" text-anchor="middle" font-family="'Liberation Sans', Arial, sans-serif" >120</text>
<text x="156.62" y="199.3" font-size="1.8" fill="#555" text-anchor="middle" font-family="'Liberation Sans', Arial, sans-serif" >100</text>
<text x="160.55" y="199.3" font-size="1.8" fill="#555" text-anchor="middle" font-family="'Liberation Sans', Arial, sans-serif" >80</text>
<text x="164.47" y="199.3" font-size="1.8" fill="#555" text-anchor="middle" font-family="'Liberation Sans', Arial, sans-serif" >60</text>
<text x="168.4" y="199.3" font-size="1.8" fill="#555" text-anchor="middle" font-family="'Liberation Sans', Arial, sans-serif" >40</text>
<text x="133" y="202.7" font-size="1.7" fill="#444" text-anchor="start" font-family="'Liberation Sans', Arial, sans-serif" >Low</text>
<text x="137" y="202.7" font-size="1.8" fill="#555" text-anchor="middle" font-family="'Liberation Sans', Arial, sans-serif" >160</text>
<text x="140.93" y="202.7" font-size="1.8" fill="#555" text-anchor="middle" font-family="'Liberation Sans', Arial, sans-serif" >140</text>
<text x="144.85" y="202.7" font-size="1.8" fill="#555" text-anchor="middle" font-family="'Liberation Sans', Arial, sans-serif" >120</text>
<text x="148.78" y="202.7" font-size="1.8" fill="#555" text-anchor="middle" font-family="'Liberation Sans', Arial, sans-serif" >100</text>
<text x="152.7" y="202.7" font-size="1.8" fill="#555" text-anchor="middle" font-family="'Liberation Sans', Arial, sans-serif" >80</text>
<text x="156.62" y="202.7" font-size="1.8" fill="#555" text-anchor="middle" font-family="'Liberation Sans', Arial, sans-serif" >60</text>
<text x="160.55" y="202.7" font-size="1.8" fill="#555" text-anchor="middle" font-family="'Liberation Sans', Arial, sans-serif" >40</text>
<text x="164.47" y="202.7" font-size="1.8" fill="#555" text-anchor="middle" font-family="'Liberation Sans', Arial, sans-serif" >20</text>
<text x="168.4" y="202.7" font-size="1.8" fill="#555" text-anchor="middle" font-family="'Liberation Sans', Arial, sans-serif" >0</text>
<text x="155.04" y="204.6" font-size="1.2" fill="#999" text-anchor="middle" font-family="'Liberation Sans', Arial, sans-serif" >Time (years)</text>
<text x="75.5" y="208.2" font-size="2" fill="#555" text-anchor="start" font-family="'Liberation Sans', Arial, sans-serif" >d</text>
<line x1="81.4" y1="209.5" x2="81.4" y2="232" stroke="#bbb" stroke-width="0.35" />
<line x1="78" y1="223.5" x2="105.5" y2="223.5" stroke="#d9a0a0" stroke-width="0.45" />
<path d="M81.4,223 C81.8,218 82.3,213.5 83.5,211.8 C84.2,210.9 85,210.8 85.8,211.2 L105.2,222.6" fill="none" stroke="#cfe3c8" stroke-width="2.2" />
<path d="M81.4,223 C81.8,218 82.3,213.5 83.5,211.8 C84.2,210.9 85,210.8 85.8,211.2 L105.2,222.6" fill="none" stroke="#3e3e3e" stroke-width="0.9" />
<path d="M81.6,222 C82,217 82.4,214 83.4,212.6" fill="none" stroke="#88a888" stroke-width="0.5" />
<path d="M88.5,227.5 L96.5,231.6 L103.6,226.4 L105.2,223.2" fill="none" stroke="#9a7878" stroke-width="0.8" />
<text x="79.6" y="226" font-size="1.3" fill="#999" text-anchor="start" font-family="'Liberation Sans', Arial, sans-serif" transform="rotate(-90 79.6 226)">Enrichment score</text>
<text x="107.5" y="214.5" font-size="1.6" fill="#8c8c8c" text-anchor="start" font-family="'Liberation Sans', Arial, sans-serif" >HALLMARK_ALLOGRAFT_REJ</text>
<text x="107.5" y="216.35" font-size="1.6" fill="#8c8c8c" text-anchor="start" font-family="'Liberation Sans', Arial, sans-serif" >HALLMARK_INTERFERON_G</text>
<text x="107.5" y="218.2" font-size="1.6" fill="#8c8c8c" text-anchor="start" font-family="'Liberation Sans', Arial, sans-serif" >HALLMARK_IL6_JAK_STAT3</text>
<text x="107.5" y="220.05" font-size="1.6" fill="#8c8c8c" text-anchor="start" font-family="'Liberation Sans', Arial, sans-serif" >HALLMARK_INFLAMMATORY</text>
<text x="107.5" y="221.9" font-size="1.6" fill="#8c8c8c" text-anchor="start" font-family="'Liberation Sans', Arial, sans-serif" >HALLMARK_COMPLEMENT</text>
<text x="107.5" y="223.75" font-size="1.6" fill="#8c8c8c" text-anchor="start" font-family="'Liberation Sans', Arial, sans-serif" >HALLMARK_TNFA_SIGNAL</text>
<text x="107.5" y="225.6" font-size="1.6" fill="#8c8c8c" text-anchor="start" font-family="'Liberation Sans', Arial, sans-serif" >KEGG_CHEMOKINE</text>
<text x="107.5" y="227.45" font-size="1.6" fill="#8c8c8c" text-anchor="start" font-family="'Liberation Sans', Arial, sans-serif" >REACTOME_IFN_SIGNAL</text>
<text x="92" y="239" font-size="1.3" fill="#aaa" text-anchor="middle" font-family="'Liberation Sans', Arial, sans-serif" >Rank in Ordered Dataset</text>
<line x1="82" y1="233.5" x2="82" y2="234.7" stroke="#bbb" stroke-width="0.3" />
<line x1="85.2" y1="233.5" x2="85.2" y2="234.7" stroke="#bbb" stroke-width="0.3" />
<line x1="88.4" y1="233.5" x2="88.4" y2="234.7" stroke="#bbb" stroke-width="0.3" />
<line x1="91.6" y1="233.5" x2="91.6" y2="234.7" stroke="#bbb" stroke-width="0.3" />
<line x1="94.8" y1="233.5" x2="94.8" y2="234.7" stroke="#bbb" stroke-width="0.3" />
<line x1="98" y1="233.5" x2="98" y2="234.7" stroke="#bbb" stroke-width="0.3" />
<line x1="101.2" y1="233.5" x2="101.2" y2="234.7" stroke="#bbb" stroke-width="0.3" />
<line x1="104.4" y1="233.5" x2="104.4" y2="234.7" stroke="#bbb" stroke-width="0.3" />
<text x="90" y="236.5" font-size="1.3" fill="#bbb" text-anchor="middle" font-family="'Liberation Sans', Arial, sans-serif" >Enrichment plot</text>
<line x1="80" y1="241.5" x2="100" y2="241.5" stroke="#ccc" stroke-width="0.35" />
<ellipse cx="52" cy="272.5" rx="8.5" ry="6.38" fill="#e2eef9"/>
<line x1="60.49" y1="273.68" x2="56.54" y2="279.76" stroke="#c8dcef" stroke-width="0.15" />
<line x1="60.49" y1="273.68" x2="42.87" y2="277.09" stroke="#c8dcef" stroke-width="0.15" />
<line x1="60.49" y1="273.68" x2="44.22" y2="266.86" stroke="#c8dcef" stroke-width="0.15" />
<line x1="60.49" y1="273.68" x2="58.3" y2="266.13" stroke="#c8dcef" stroke-width="0.15" />
<line x1="61.07" y1="276.37" x2="53.32" y2="278.16" stroke="#c8dcef" stroke-width="0.15" />
<line x1="61.07" y1="276.37" x2="42.97" y2="274.2" stroke="#c8dcef" stroke-width="0.15" />
<line x1="61.07" y1="276.37" x2="48.46" y2="266.02" stroke="#c8dcef" stroke-width="0.15" />
<line x1="61.07" y1="276.37" x2="60.05" y2="269.16" stroke="#c8dcef" stroke-width="0.15" />
<line x1="57.17" y1="277.29" x2="49.38" y2="279.15" stroke="#c8dcef" stroke-width="0.15" />
<line x1="57.17" y1="277.29" x2="43.22" y2="271.59" stroke="#c8dcef" stroke-width="0.15" />
<line x1="57.17" y1="277.29" x2="50.64" y2="265.97" stroke="#c8dcef" stroke-width="0.15" />
<line x1="57.17" y1="277.29" x2="61.36" y2="270.62" stroke="#c8dcef" stroke-width="0.15" />
<line x1="56.54" y1="279.76" x2="45.37" y2="278.32" stroke="#c8dcef" stroke-width="0.15" />
<line x1="56.54" y1="279.76" x2="43.25" y2="269.57" stroke="#c8dcef" stroke-width="0.15" />
<line x1="56.54" y1="279.76" x2="54.38" y2="265.63" stroke="#c8dcef" stroke-width="0.15" />
<line x1="53.32" y1="278.16" x2="42.87" y2="277.09" stroke="#c8dcef" stroke-width="0.15" />
<line x1="53.32" y1="278.16" x2="44.22" y2="266.86" stroke="#c8dcef" stroke-width="0.15" />
<line x1="53.32" y1="278.16" x2="58.3" y2="266.13" stroke="#c8dcef" stroke-width="0.15" />
<line x1="49.38" y1="279.15" x2="42.97" y2="274.2" stroke="#c8dcef" stroke-width="0.15" />
<line x1="49.38" y1="279.15" x2="48.46" y2="266.02" stroke="#c8dcef" stroke-width="0.15" />
<line x1="49.38" y1="279.15" x2="60.05" y2="269.16" stroke="#c8dcef" stroke-width="0.15" />
<line x1="45.37" y1="278.32" x2="43.22" y2="271.59" stroke="#c8dcef" stroke-width="0.15" />
<line x1="45.37" y1="278.32" x2="50.64" y2="265.97" stroke="#c8dcef" stroke-width="0.15" />
<line x1="45.37" y1="278.32" x2="61.36" y2="270.62" stroke="#c8dcef" stroke-width="0.15" />
<line x1="42.87" y1="277.09" x2="43.25" y2="269.57" stroke="#c8dcef" stroke-width="0.15" />
<line x1="42.87" y1="277.09" x2="54.38" y2="265.63" stroke="#c8dcef" stroke-width="0.15" />
<line x1="42.97" y1="274.2" x2="44.22" y2="266.86" stroke="#c8dcef" stroke-width="0.15" />
<line x1="42.97" y1="274.2" x2="58.3" y2="266.13" stroke="#c8dcef" stroke-width="0.15" />
<line x1="43.22" y1="271.59" x2="48.46" y2="266.02" stroke="#c8dcef" stroke-width="0.15" />
<line x1="43.22" y1="271.59" x2="60.05" y2="269.16" stroke="#c8dcef" stroke-width="0.15" />
<line x1="43.25" y1="269.57" x2="50.64" y2="265.97" stroke="#c8dcef" stroke-width="0.15" />
<line x1="43.25" y1="269.57" x2="61.36" y2="270.62" stroke="#c8dcef" stroke-width="0.15" />
<line x1="44.22" y1="266.86" x2="54.38" y2="265.63" stroke="#c8dcef" stroke-width="0.15" />
<line x1="48.46" y1="266.02" x2="58.3" y2="266.13" stroke="#c8dcef" stroke-width="0.15" />
<line x1="50.64" y1="265.97" x2="60.05" y2="269.16" stroke="#c8dcef" stroke-width="0.15" />
<line x1="54.38" y1="265.63" x2="61.36" y2="270.62" stroke="#c8dcef" stroke-width="0.15" />
<ellipse cx="60.49" cy="273.68" rx="1.3" ry="0.75" fill="#cfe2f4" stroke="#a9c7e4" stroke-width="0.15"/>
<text x="60.49" y="274.18" font-size="1.3" fill="#4a5a6a" text-anchor="middle" font-family="'Liberation Sans', Arial, sans-serif" >CCL8</text>
<ellipse cx="61.07" cy="276.37" rx="1.3" ry="0.75" fill="#cfe2f4" stroke="#a9c7e4" stroke-width="0.15"/>
<text x="61.07" y="276.87" font-size="1.3" fill="#4a5a6a" text-anchor="middle" font-family="'Liberation Sans', Arial, sans-serif" >GZMB</text>
<ellipse cx="57.17" cy="277.29" rx="1.3" ry="0.75" fill="#cfe2f4" stroke="#a9c7e4" stroke-width="0.15"/>
<text x="57.17" y="277.79" font-size="1.3" fill="#4a5a6a" text-anchor="middle" font-family="'Liberation Sans', Arial, sans-serif" >PSMB9</text>
<ellipse cx="56.54" cy="279.76" rx="1.3" ry="0.75" fill="#cfe2f4" stroke="#a9c7e4" stroke-width="0.15"/>
<text x="56.54" y="280.26" font-size="1.3" fill="#4a5a6a" text-anchor="middle" font-family="'Liberation Sans', Arial, sans-serif" >CXCL9</text>
<ellipse cx="53.32" cy="278.16" rx="1.3" ry="0.75" fill="#cfe2f4" stroke="#a9c7e4" stroke-width="0.15"/>
<text x="53.32" y="278.66" font-size="1.3" fill="#4a5a6a" text-anchor="middle" font-family="'Liberation Sans', Arial, sans-serif" >PRF1</text>
<ellipse cx="49.38" cy="279.15" rx="1.3" ry="0.75" fill="#cfe2f4" stroke="#a9c7e4" stroke-width="0.15"/>
<text x="49.38" y="279.65" font-size="1.3" fill="#4a5a6a" text-anchor="middle" font-family="'Liberation Sans', Arial, sans-serif" >TAP1</text>
<ellipse cx="45.37" cy="278.32" rx="1.3" ry="0.75" fill="#cfe2f4" stroke="#a9c7e4" stroke-width="0.15"/>
<text x="45.37" y="278.82" font-size="1.3" fill="#4a5a6a" text-anchor="middle" font-family="'Liberation Sans', Arial, sans-serif" >STAT1</text>
<ellipse cx="42.87" cy="277.09" rx="1.3" ry="0.75" fill="#cfe2f4" stroke="#a9c7e4" stroke-width="0.15"/>
<text x="42.87" y="277.59" font-size="1.3" fill="#4a5a6a" text-anchor="middle" font-family="'Liberation Sans', Arial, sans-serif" >IFNG</text>
<ellipse cx="42.97" cy="274.2" rx="1.3" ry="0.75" fill="#cfe2f4" stroke="#a9c7e4" stroke-width="0.15"/>
<text x="42.97" y="274.7" font-size="1.3" fill="#4a5a6a" text-anchor="middle" font-family="'Liberation Sans', Arial, sans-serif" >HLA-E</text>
<ellipse cx="43.22" cy="271.59" rx="1.3" ry="0.75" fill="#cfe2f4" stroke="#a9c7e4" stroke-width="0.15"/>
<text x="43.22" y="272.09" font-size="1.3" fill="#4a5a6a" text-anchor="middle" font-family="'Liberation Sans', Arial, sans-serif" >GBP1</text>
<ellipse cx="43.25" cy="269.57" rx="1.3" ry="0.75" fill="#cfe2f4" stroke="#a9c7e4" stroke-width="0.15"/>
<text x="43.25" y="270.07" font-size="1.3" fill="#4a5a6a" text-anchor="middle" font-family="'Liberation Sans', Arial, sans-serif" >CCL5</text>
<ellipse cx="44.22" cy="266.86" rx="1.3" ry="0.75" fill="#cfe2f4" stroke="#a9c7e4" stroke-width="0.15"/>
<text x="44.22" y="267.36" font-size="1.3" fill="#4a5a6a" text-anchor="middle" font-family="'Liberation Sans', Arial, sans-serif" >CD38</text>
<ellipse cx="48.46" cy="266.02" rx="1.3" ry="0.75" fill="#cfe2f4" stroke="#a9c7e4" stroke-width="0.15"/>
<text x="48.46" y="266.52" font-size="1.3" fill="#4a5a6a" text-anchor="middle" font-family="'Liberation Sans', Arial, sans-serif" >IDO1</text>
<ellipse cx="50.64" cy="265.97" rx="1.3" ry="0.75" fill="#cfe2f4" stroke="#a9c7e4" stroke-width="0.15"/>
<text x="50.64" y="266.47" font-size="1.3" fill="#4a5a6a" text-anchor="middle" font-family="'Liberation Sans', Arial, sans-serif" >CXCL10</text>
<ellipse cx="54.38" cy="265.63" rx="1.3" ry="0.75" fill="#cfe2f4" stroke="#a9c7e4" stroke-width="0.15"/>
<text x="54.38" y="266.13" font-size="1.3" fill="#4a5a6a" text-anchor="middle" font-family="'Liberation Sans', Arial, sans-serif" >CXCL11</text>
<ellipse cx="58.3" cy="266.13" rx="1.3" ry="0.75" fill="#cfe2f4" stroke="#a9c7e4" stroke-width="0.15"/>
<text x="58.3" y="266.63" font-size="1.3" fill="#4a5a6a" text-anchor="middle" font-family="'Liberation Sans', Arial, sans-serif" >CD274</text>
<ellipse cx="60.05" cy="269.16" rx="1.3" ry="0.75" fill="#cfe2f4" stroke="#a9c7e4" stroke-width="0.15"/>
<text x="60.05" y="269.66" font-size="1.3" fill="#4a5a6a" text-anchor="middle" font-family="'Liberation Sans', Arial, sans-serif" >IRF1</text>
<ellipse cx="61.36" cy="270.62" rx="1.3" ry="0.75" fill="#cfe2f4" stroke="#a9c7e4" stroke-width="0.15"/>
<text x="61.36" y="271.12" font-size="1.3" fill="#4a5a6a" text-anchor="middle" font-family="'Liberation Sans', Arial, sans-serif" >ISG15</text>
<ellipse cx="58" cy="288.5" rx="8.07" ry="6.38" fill="#e2eef9"/>
<line x1="66.1" y1="289.79" x2="62.14" y2="295.58" stroke="#c8dcef" stroke-width="0.15" />
<line x1="66.1" y1="289.79" x2="51.85" y2="293.16" stroke="#c8dcef" stroke-width="0.15" />
<line x1="66.1" y1="289.79" x2="49.74" y2="285.43" stroke="#c8dcef" stroke-width="0.15" />
<line x1="66.1" y1="289.79" x2="58.58" y2="281.08" stroke="#c8dcef" stroke-width="0.15" />
<line x1="66.1" y1="289.79" x2="66.76" y2="286.99" stroke="#c8dcef" stroke-width="0.15" />
<line x1="66.98" y1="291.67" x2="59.57" y2="294.28" stroke="#c8dcef" stroke-width="0.15" />
<line x1="66.98" y1="291.67" x2="51.31" y2="292.09" stroke="#c8dcef" stroke-width="0.15" />
<line x1="66.98" y1="291.67" x2="50.02" y2="283.2" stroke="#c8dcef" stroke-width="0.15" />
<line x1="66.98" y1="291.67" x2="60.52" y2="282.39" stroke="#c8dcef" stroke-width="0.15" />
<line x1="64.45" y1="292.47" x2="56.32" y2="295.82" stroke="#c8dcef" stroke-width="0.15" />
<line x1="64.45" y1="292.47" x2="49.39" y2="289.96" stroke="#c8dcef" stroke-width="0.15" />
<line x1="64.45" y1="292.47" x2="54.51" y2="283.47" stroke="#c8dcef" stroke-width="0.15" />
<line x1="64.45" y1="292.47" x2="64.49" y2="283.49" stroke="#c8dcef" stroke-width="0.15" />
<line x1="62.14" y1="295.58" x2="53.21" y2="295.8" stroke="#c8dcef" stroke-width="0.15" />
<line x1="62.14" y1="295.58" x2="50.27" y2="288.27" stroke="#c8dcef" stroke-width="0.15" />
<line x1="62.14" y1="295.58" x2="55.76" y2="281.01" stroke="#c8dcef" stroke-width="0.15" />
<line x1="62.14" y1="295.58" x2="64.85" y2="285.58" stroke="#c8dcef" stroke-width="0.15" />
<line x1="59.57" y1="294.28" x2="51.85" y2="293.16" stroke="#c8dcef" stroke-width="0.15" />
<line x1="59.57" y1="294.28" x2="49.74" y2="285.43" stroke="#c8dcef" stroke-width="0.15" />
<line x1="59.57" y1="294.28" x2="58.58" y2="281.08" stroke="#c8dcef" stroke-width="0.15" />
<line x1="59.57" y1="294.28" x2="66.76" y2="286.99" stroke="#c8dcef" stroke-width="0.15" />
<line x1="56.32" y1="295.82" x2="51.31" y2="292.09" stroke="#c8dcef" stroke-width="0.15" />
<line x1="56.32" y1="295.82" x2="50.02" y2="283.2" stroke="#c8dcef" stroke-width="0.15" />
<line x1="56.32" y1="295.82" x2="60.52" y2="282.39" stroke="#c8dcef" stroke-width="0.15" />
<line x1="53.21" y1="295.8" x2="49.39" y2="289.96" stroke="#c8dcef" stroke-width="0.15" />
<line x1="53.21" y1="295.8" x2="54.51" y2="283.47" stroke="#c8dcef" stroke-width="0.15" />
<line x1="53.21" y1="295.8" x2="64.49" y2="283.49" stroke="#c8dcef" stroke-width="0.15" />
<line x1="51.85" y1="293.16" x2="50.27" y2="288.27" stroke="#c8dcef" stroke-width="0.15" />
<line x1="51.85" y1="293.16" x2="55.76" y2="281.01" stroke="#c8dcef" stroke-width="0.15" />
<line x1="51.85" y1="293.16" x2="64.85" y2="285.58" stroke="#c8dcef" stroke-width="0.15" />
<line x1="51.31" y1="292.09" x2="49.74" y2="285.43" stroke="#c8dcef" stroke-width="0.15" />
<line x1="51.31" y1="292.09" x2="58.58" y2="281.08" stroke="#c8dcef" stroke-width="0.15" />
<line x1="51.31" y1="292.09" x2="66.76" y2="286.99" stroke="#c8dcef" stroke-width="0.15" />
<line x1="49.39" y1="289.96" x2="50.02" y2="283.2" stroke="#c8dcef" stroke-width="0.15" />
<line x1="49.39" y1="289.96" x2="60.52" y2="282.39" stroke="#c8dcef" stroke-width="0.15" />
<line x1="50.27" y1="288.27" x2="54.51" y2="283.47" stroke="#c8dcef" stroke-width="0.15" />
<line x1="50.27" y1="288.27" x2="64.49" y2="283.49" stroke="#c8dcef" stroke-width="0.15" />
<line x1="49.74" y1="285.43" x2="55.76" y2="281.01" stroke="#c8dcef" stroke-width="0.15" />
<line x1="49.74" y1="285.43" x2="64.85" y2="285.58" stroke="#c8dcef" stroke-width="0.15" />
<line x1="50.02" y1="283.2" x2="58.58" y2="281.08" stroke="#c8dcef" stroke-width="0.15" />
<line x1="50.02" y1="283.2" x2="66.76" y2="286.99" stroke="#c8dcef" stroke-width="0.15" />
<line x1="54.51" y1="283.47" x2="60.52" y2="282.39" stroke="#c8dcef" stroke-width="0.15" />
<line x1="55.76" y1="281.01" x2="64.49" y2="283.49" stroke="#c8dcef" stroke-width="0.15" />
<line x1="58.58" y1="281.08" x2="64.85" y2="285.58" stroke="#c8dcef" stroke-width="0.15" />
<line x1="60.52" y1="282.39" x2="66.76" y2="286.99" stroke="#c8dcef" stroke-width="0.15" />
<ellipse cx="66.1" cy="289.79" rx="1.3" ry="0.75" fill="#cfe2f4" stroke="#a9c7e4" stroke-width="0.15"/>
<text x="66.1" y="290.29" font-size="1.3" fill="#4a5a6a" text-anchor="middle" font-family="'Liberation Sans', Arial, sans-serif" >CCL8</text>
<ellipse cx="66.98" cy="291.67" rx="1.3" ry="0.75" fill="#cfe2f4" stroke="#a9c7e4" stroke-width="0.15"/>
<text x="66.98" y="292.17" font-size="1.3" fill="#4a5a6a" text-anchor="middle" font-family="'Liberation Sans', Arial, sans-serif" >GZMB</text>
<ellipse cx="64.45" cy="292.47" rx="1.3" ry="0.75" fill="#cfe2f4" stroke="#a9c7e4" stroke-width="0.15"/>
<text x="64.45" y="292.97" font-size="1.3" fill="#4a5a6a" text-anchor="middle" font-family="'Liberation Sans', Arial, sans-serif" >PSMB9</text>
<ellipse cx="62.14" cy="295.58" rx="1.3" ry="0.75" fill="#cfe2f4" stroke="#a9c7e4" stroke-width="0.15"/>
<text x="62.14" y="296.08" font-size="1.3" fill="#4a5a6a" text-anchor="middle" font-family="'Liberation Sans', Arial, sans-serif" >CXCL9</text>
<ellipse cx="59.57" cy="294.28" rx="1.3" ry="0.75" fill="#cfe2f4" stroke="#a9c7e4" stroke-width="0.15"/>
<text x="59.57" y="294.78" font-size="1.3" fill="#4a5a6a" text-anchor="middle" font-family="'Liberation Sans', Arial, sans-serif" >PRF1</text>
<ellipse cx="56.32" cy="295.82" rx="1.3" ry="0.75" fill="#cfe2f4" stroke="#a9c7e4" stroke-width="0.15"/>
<text x="56.32" y="296.32" font-size="1.3" fill="#4a5a6a" text-anchor="middle" font-family="'Liberation Sans', Arial, sans-serif" >TAP1</text>
<ellipse cx="53.21" cy="295.8" rx="1.3" ry="0.75" fill="#cfe2f4" stroke="#a9c7e4" stroke-width="0.15"/>
<text x="53.21" y="296.3" font-size="1.3" fill="#4a5a6a" text-anchor="middle" font-family="'Liberation Sans', Arial, sans-serif" >STAT1</text>
<ellipse cx="51.85" cy="293.16" rx="1.3" ry="0.75" fill="#cfe2f4" stroke="#a9c7e4" stroke-width="0.15"/>
<text x="51.85" y="293.66" font-size="1.3" fill="#4a5a6a" text-anchor="middle" font-family="'Liberation Sans', Arial, sans-serif" >IFNG</text>
<ellipse cx="51.31" cy="292.09" rx="1.3" ry="0.75" fill="#cfe2f4" stroke="#a9c7e4" stroke-width="0.15"/>
<text x="51.31" y="292.59" font-size="1.3" fill="#4a5a6a" text-anchor="middle" font-family="'Liberation Sans', Arial, sans-serif" >HLA-E</text>
<ellipse cx="49.39" cy="289.96" rx="1.3" ry="0.75" fill="#cfe2f4" stroke="#a9c7e4" stroke-width="0.15"/>
<text x="49.39" y="290.46" font-size="1.3" fill="#4a5a6a" text-anchor="middle" font-family="'Liberation Sans', Arial, sans-serif" >GBP1</text>
<ellipse cx="50.27" cy="288.27" rx="1.3" ry="0.75" fill="#cfe2f4" stroke="#a9c7e4" stroke-width="0.15"/>
<text x="50.27" y="288.77" font-size="1.3" fill="#4a5a6a" text-anchor="middle" font-family="'Liberation Sans', Arial, sans-serif" >CCL5</text>
<ellipse cx="49.74" cy="285.43" rx="1.3" ry="0.75" fill="#cfe2f4" stroke="#a9c7e4" stroke-width="0.15"/>
<text x="49.74" y="285.93" font-size="1.3" fill="#4a5a6a" text-anchor="middle" font-family="'Liberation Sans', Arial, sans-serif" >CD38</text>
<ellipse cx="50.02" cy="283.2" rx="1.3" ry="0.75" fill="#cfe2f4" stroke="#a9c7e4" stroke-width="0.15"/>
<text x="50.02" y="283.7" font-size="1.3" fill="#4a5a6a" text-anchor="middle" font-family="'Liberation Sans', Arial, sans-serif" >IDO1</text>
<ellipse cx="54.51" cy="283.47" rx="1.3" ry="0.75" fill="#cfe2f4" stroke="#a9c7e4" stroke-width="0.15"/>
<text x="54.51" y="283.97" font-size="1.3" fill="#4a5a6a" text-anchor="middle" font-family="'Liberation Sans', Arial, sans-serif" >CXCL10</text>
<ellipse cx="55.76" cy="281.01" rx="1.3" ry="0.75" fill="#cfe2f4" stroke="#a9c7e4" stroke-width="0.15"/>
<text x="55.76" y="281.51" font-size="1.3" fill="#4a5a6a" text-anchor="middle" font-family="'Liberation Sans', Arial, sans-serif" >CXCL11</text>
<ellipse cx="58.58" cy="281.08" rx="1.3" ry="0.75" fill="#cfe2f4" stroke="#a9c7e4" stroke-width="0.15"/>
<text x="58.58" y="281.58" font-size="1.3" fill="#4a5a6a" text-anchor="middle" font-family="'Liberation Sans', Arial, sans-serif" >CD274</text>
<ellipse cx="60.52" cy="282.39" rx="1.3" ry="0.75" fill="#cfe2f4" stroke="#a9c7e4" stroke-width="0.15"/>
<text x="60.52" y="282.89" font-size="1.3" fill="#4a5a6a" text-anchor="middle" font-family="'Liberation Sans', Arial, sans-serif" >IRF1</text>
<ellipse cx="64.49" cy="283.49" rx="1.3" ry="0.75" fill="#cfe2f4" stroke="#a9c7e4" stroke-width="0.15"/>
<text x="64.49" y="283.99" font-size="1.3" fill="#4a5a6a" text-anchor="middle" font-family="'Liberation Sans', Arial, sans-serif" >ISG15</text>
<ellipse cx="64.85" cy="285.58" rx="1.3" ry="0.75" fill="#cfe2f4" stroke="#a9c7e4" stroke-width="0.15"/>
<text x="64.85" y="286.08" font-size="1.3" fill="#4a5a6a" text-anchor="middle" font-family="'Liberation Sans', Arial, sans-serif" >LAG3</text>
<ellipse cx="66.76" cy="286.99" rx="1.3" ry="0.75" fill="#cfe2f4" stroke="#a9c7e4" stroke-width="0.15"/>
<text x="66.76" y="287.49" font-size="1.3" fill="#4a5a6a" text-anchor="middle" font-family="'Liberation Sans', Arial, sans-serif" >GBP5</text>
<text x="37.5" y="286" font-size="1.5" fill="#555" text-anchor="start" font-family="'Liberation Sans', Arial, sans-serif" >CD274</text>
<text x="37.5" y="290.5" font-size="1.5" fill="#555" text-anchor="start" font-family="'Liberation Sans', Arial, sans-serif" >CXCL9</text>
<text x="38" y="295" font-size="1.5" fill="#555" text-anchor="start" font-family="'Liberation Sans', Arial, sans-serif" >IDO1</text>
<text x="40" y="279" font-size="1.5" fill="#555" text-anchor="start" font-family="'Liberation Sans', Arial, sans-serif" >LAG3</text>
<text x="66" y="265.5" font-size="1.5" fill="#555" text-anchor="start" font-family="'Liberation Sans', Arial, sans-serif" >IFNG</text>
<text x="69" y="279" font-size="1.5" fill="#555" text-anchor="start" font-family="'Liberation Sans', Arial, sans-serif" >GZMB</text>
<text x="38.5" y="268" font-size="1.5" fill="#555" text-anchor="start" font-family="'Liberation Sans', Arial, sans-serif" >PRF1</text>
<text x="44" y="265.5" font-size="1.5" fill="#555" text-anchor="start" font-family="'Liberation Sans', Arial, sans-serif" >CCL5</text>
<text x="62" y="297.5" font-size="1.5" fill="#555" text-anchor="start" font-family="'Liberation Sans', Arial, sans-serif" >GBP5</text>
<text x="41" y="273.5" font-size="1.5" fill="#555" text-anchor="start" font-family="'Liberation Sans', Arial, sans-serif" >TAP1</text>
<text x="68" y="285" font-size="1.5" fill="#555" text-anchor="start" font-family="'Liberation Sans', Arial, sans-serif" >IRF1</text>
<text x="47" y="281" font-size="1.5" fill="#555" text-anchor="start" font-family="'Liberation Sans', Arial, sans-serif" >CD38</text>
<line x1="79" y1="266.3" x2="79" y2="293.2" stroke="#999" stroke-width="0.3" />
<polygon points="79,293.2 79,266.3 83.5,266.3 83.5,266 86,266 86,268.5 89,268.5 89,271.5 92,271.5 92,275 94.5,275 94.5,278 97,278 97,281 99.5,281 99.5,283.5 101.5,283.5 101.5,286 103.5,286 103.5,288.5 105,288.5 105,290 106.5,290 106.5,291.5 106.5,293.2" fill="#4a74c4" />
<text x="76.8" y="292.3" font-size="1.6" fill="#555" text-anchor="start" font-family="'Liberation Sans', Arial, sans-serif" transform="rotate(-90 76.8 292.3)">Number of adjacent nodes</text>
<text x="78.6" y="268.3" font-size="1" fill="#999" text-anchor="end" font-family="'Liberation Sans', Arial, sans-serif" >CCL8</text>
<text x="78.6" y="270.5" font-size="1" fill="#999" text-anchor="end" font-family="'Liberation Sans', Arial, sans-serif" >CCL8</text>
<text x="78.6" y="272.7" font-size="1" fill="#999" text-anchor="end" font-family="'Liberation Sans', Arial, sans-serif" >CCL8</text>
<text x="78.6" y="274.9" font-size="1" fill="#999" text-anchor="end" font-family="'Liberation Sans', Arial, sans-serif" >CCL8</text>
<text x="78.6" y="277.1" font-size="1" fill="#999" text-anchor="end" font-family="'Liberation Sans', Arial, sans-serif" >CCL8</text>
<text x="78.6" y="279.3" font-size="1" fill="#999" text-anchor="end" font-family="'Liberation Sans', Arial, sans-serif" >CCL8</text>
<text x="78.6" y="281.5" font-size="1" fill="#999" text-anchor="end" font-family="'Liberation Sans', Arial, sans-serif" >CCL8</text>
<text x="78.6" y="283.7" font-size="1" fill="#999" text-anchor="end" font-family="'Liberation Sans', Arial, sans-serif" >CCL8</text>
<text x="78.6" y="285.9" font-size="1" fill="#999" text-anchor="end" font-family="'Liberation Sans', Arial, sans-serif" >CCL8</text>
<text x="78.6" y="288.1" font-size="1" fill="#999" text-anchor="end" font-family="'Liberation Sans', Arial, sans-serif" >CCL8</text>
<text x="78.6" y="290.3" font-size="1" fill="#999" text-anchor="end" font-family="'Liberation Sans', Arial, sans-serif" >CCL8</text>
<text x="78.6" y="292.5" font-size="1" fill="#999" text-anchor="end" font-family="'Liberation Sans', Arial, sans-serif" >CCL8</text>
<line x1="79" y1="293.7" x2="106.5" y2="293.7" stroke="#aaa" stroke-width="0.3" />
<text x="79" y="295.7" font-size="1.2" fill="#999" text-anchor="middle" font-family="'Liberation Sans', Arial, sans-serif" >0</text>
<text x="84" y="295.7" font-size="1.2" fill="#999" text-anchor="middle" font-family="'Liberation Sans', Arial, sans-serif" >5</text>
<text x="89" y="295.7" font-size="1.2" fill="#999" text-anchor="middle" font-family="'Liberation Sans', Arial, sans-serif" >10</text>
<text x="94" y="295.7" font-size="1.2" fill="#999" text-anchor="middle" font-family="'Liberation Sans', Arial, sans-serif" >15</text>
<text x="99" y="295.7" font-size="1.2" fill="#999" text-anchor="middle" font-family="'Liberation Sans', Arial, sans-serif" >20</text>
<text x="104" y="295.7" font-size="1.2" fill="#999" text-anchor="middle" font-family="'Liberation Sans', Arial, sans-serif" >25</text>
<text x="95" y="297.4" font-size="1.2" fill="#999" text-anchor="middle" font-family="'Liberation Sans', Arial, sans-serif" >Degree</text>
<text x="122" y="267.5" font-size="1.4" fill="#555" text-anchor="start" font-family="'Liberation Sans', Arial, sans-serif" >Gene</text>
<text x="130" y="267.5" font-size="1.4" fill="#555" text-anchor="start" font-family="'Liberation Sans', Arial, sans-serif" >pvalue</text>
<text x="137" y="267.5" font-size="1.4" fill="#555" text-anchor="start" font-family="'Liberation Sans', Arial, sans-serif" >Hazard ratio</text>
<text x="122" y="269.8" font-size="1.6" fill="#8a7aa8" text-anchor="start" font-family="'Liberation Sans', Arial, sans-serif" >CCL8</text>
<text x="130" y="269.8" font-size="1.6" fill="#8a8a8a" text-anchor="start" font-family="'Liberation Sans', Arial, sans-serif" >0.002</text>
<text x="136" y="269.8" font-size="1.6" fill="#8a8a8a" text-anchor="start" font-family="'Liberation Sans', Arial, sans-serif" >1.100(1.00-1.10)</text>
<text x="153.6" y="269.8" font-size="1.3" fill="#999" text-anchor="start" font-family="'Liberation Sans', Arial, sans-serif" >1.10</text>
<text x="122" y="271.25" font-size="1.6" fill="#8a7aa8" text-anchor="start" font-family="'Liberation Sans', Arial, sans-serif" >CXCL9</text>
<text x="130" y="271.25" font-size="1.6" fill="#8a8a8a" text-anchor="start" font-family="'Liberation Sans', Arial, sans-serif" >&lt;0.001</text>
<text x="136" y="271.25" font-size="1.6" fill="#8a8a8a" text-anchor="start" font-family="'Liberation Sans', Arial, sans-serif" >1.130(1.01-1.11)</text>
<text x="153.6" y="271.25" font-size="1.3" fill="#999" text-anchor="start" font-family="'Liberation Sans', Arial, sans-serif" >1.13</text>
<text x="122" y="272.7" font-size="1.6" fill="#8a7aa8" text-anchor="start" font-family="'Liberation Sans', Arial, sans-serif" >CXCL10</text>
<text x="130" y="272.7" font-size="1.6" fill="#8a8a8a" text-anchor="start" font-family="'Liberation Sans', Arial, sans-serif" >&lt;0.001</text>
<text x="136" y="272.7" font-size="1.6" fill="#8a8a8a" text-anchor="start" font-family="'Liberation Sans', Arial, sans-serif" >1.160(1.02-1.12)</text>
<text x="153.6" y="272.7" font-size="1.3" fill="#999" text-anchor="start" font-family="'Liberation Sans', Arial, sans-serif" >1.16</text>
<text x="122" y="274.15" font-size="1.6" fill="#8a7aa8" text-anchor="start" font-family="'Liberation Sans', Arial, sans-serif" >GBP1</text>
<text x="130" y="274.15" font-size="1.6" fill="#8a8a8a" text-anchor="start" font-family="'Liberation Sans', Arial, sans-serif" >0.002</text>
<text x="136" y="274.15" font-size="1.6" fill="#8a8a8a" text-anchor="start" font-family="'Liberation Sans', Arial, sans-serif" >1.190(1.03-1.13)</text>
<text x="153.6" y="274.15" font-size="1.3" fill="#999" text-anchor="start" font-family="'Liberation Sans', Arial, sans-serif" >1.19</text>
<text x="122" y="275.6" font-size="1.6" fill="#8a7aa8" text-anchor="start" font-family="'Liberation Sans', Arial, sans-serif" >STAT1</text>
<text x="130" y="275.6" font-size="1.6" fill="#8a8a8a" text-anchor="start" font-family="'Liberation Sans', Arial, sans-serif" >&lt;0.001</text>
<text x="136" y="275.6" font-size="1.6" fill="#8a8a8a" text-anchor="start" font-family="'Liberation Sans', Arial, sans-serif" >1.220(1.04-1.14)</text>
<text x="153.6" y="275.6" font-size="1.3" fill="#999" text-anchor="start" font-family="'Liberation Sans', Arial, sans-serif" >1.22</text>
<text x="122" y="277.05" font-size="1.6" fill="#8a7aa8" text-anchor="start" font-family="'Liberation Sans', Arial, sans-serif" >IDO1</text>
<text x="130" y="277.05" font-size="1.6" fill="#8a8a8a" text-anchor="start" font-family="'Liberation Sans', Arial, sans-serif" >&lt;0.001</text>
<text x="136" y="277.05" font-size="1.6" fill="#8a8a8a" text-anchor="start" font-family="'Liberation Sans', Arial, sans-serif" >1.250(1.05-1.15)</text>
<text x="153.6" y="277.05" font-size="1.3" fill="#999" text-anchor="start" font-family="'Liberation Sans', Arial, sans-serif" >1.25</text>
<text x="122" y="278.5" font-size="1.6" fill="#8a7aa8" text-anchor="start" font-family="'Liberation Sans', Arial, sans-serif" >CD274</text>
<text x="130" y="278.5" font-size="1.6" fill="#8a8a8a" text-anchor="start" font-family="'Liberation Sans', Arial, sans-serif" >0.002</text>
<text x="136" y="278.5" font-size="1.6" fill="#8a8a8a" text-anchor="start" font-family="'Liberation Sans', Arial, sans-serif" >1.280(1.06-1.16)</text>
<text x="153.6" y="278.5" font-size="1.3" fill="#999" text-anchor="start" font-family="'Liberation Sans', Arial, sans-serif" >1.28</text>
<text x="122" y="279.95" font-size="1.6" fill="#8a7aa8" text-anchor="start" font-family="'Liberation Sans', Arial, sans-serif" >LAG3</text>
<text x="130" y="279.95" font-size="1.6" fill="#8a8a8a" text-anchor="start" font-family="'Liberation Sans', Arial, sans-serif" >&lt;0.001</text>
<text x="136" y="279.95" font-size="1.6" fill="#8a8a8a" text-anchor="start" font-family="'Liberation Sans', Arial, sans-serif" >1.310(1.07-1.17)</text>
<text x="153.6" y="279.95" font-size="1.3" fill="#999" text-anchor="start" font-family="'Liberation Sans', Arial, sans-serif" >1.31</text>
<text x="122" y="281.4" font-size="1.6" fill="#8a7aa8" text-anchor="start" font-family="'Liberation Sans', Arial, sans-serif" >GZMB</text>
<text x="130" y="281.4" font-size="1.6" fill="#8a8a8a" text-anchor="start" font-family="'Liberation Sans', Arial, sans-serif" >&lt;0.001</text>
<text x="136" y="281.4" font-size="1.6" fill="#8a8a8a" text-anchor="start" font-family="'Liberation Sans', Arial, sans-serif" >1.340(1.08-1.18)</text>
<text x="153.6" y="281.4" font-size="1.3" fill="#999" text-anchor="start" font-family="'Liberation Sans', Arial, sans-serif" >1.34</text>
<text x="122" y="282.85" font-size="1.6" fill="#8a7aa8" text-anchor="start" font-family="'Liberation Sans', Arial, sans-serif" >PRF1</text>
<text x="130" y="282.85" font-size="1.6" fill="#8a8a8a" text-anchor="start" font-family="'Liberation Sans', Arial, sans-serif" >0.002</text>
<text x="136" y="282.85" font-size="1.6" fill="#8a8a8a" text-anchor="start" font-family="'Liberation Sans', Arial, sans-serif" >1.370(1.00-1.19)</text>
<text x="153.6" y="282.85" font-size="1.3" fill="#999" text-anchor="start" font-family="'Liberation Sans', Arial, sans-serif" >1.37</text>
<text x="122" y="284.3" font-size="1.6" fill="#8a7aa8" text-anchor="start" font-family="'Liberation Sans', Arial, sans-serif" >IFNG</text>
<text x="130" y="284.3" font-size="1.6" fill="#8a8a8a" text-anchor="start" font-family="'Liberation Sans', Arial, sans-serif" >&lt;0.001</text>
<text x="136" y="284.3" font-size="1.6" fill="#8a8a8a" text-anchor="start" font-family="'Liberation Sans', Arial, sans-serif" >1.400(1.01-1.20)</text>
<text x="153.6" y="284.3" font-size="1.3" fill="#999" text-anchor="start" font-family="'Liberation Sans', Arial, sans-serif" >1.40</text>
<text x="122" y="285.75" font-size="1.6" fill="#8a7aa8" text-anchor="start" font-family="'Liberation Sans', Arial, sans-serif" >CCL5</text>
<text x="130" y="285.75" font-size="1.6" fill="#8a8a8a" text-anchor="start" font-family="'Liberation Sans', Arial, sans-serif" >&lt;0.001</text>
<text x="136" y="285.75" font-size="1.6" fill="#8a8a8a" text-anchor="start" font-family="'Liberation Sans', Arial, sans-serif" >1.430(1.02-1.21)</text>
<text x="153.6" y="285.75" font-size="1.3" fill="#999" text-anchor="start" font-family="'Liberation Sans', Arial, sans-serif" >1.43</text>
<text x="122" y="287.2" font-size="1.6" fill="#8a7aa8" text-anchor="start" font-family="'Liberation Sans', Arial, sans-serif" >CXCL13</text>
<text x="130" y="287.2" font-size="1.6" fill="#8a8a8a" text-anchor="start" font-family="'Liberation Sans', Arial, sans-serif" >0.002</text>
<text x="136" y="287.2" font-size="1.6" fill="#8a8a8a" text-anchor="start" font-family="'Liberation Sans', Arial, sans-serif" >1.460(1.03-1.22)</text>
<text x="153.6" y="287.2" font-size="1.3" fill="#999" text-anchor="start" font-family="'Liberation Sans', Arial, sans-serif" >1.46</text>
<text x="122" y="288.65" font-size="1.6" fill="#8a7aa8" text-anchor="start" font-family="'Liberation Sans', Arial, sans-serif" >PDCD1</text>
<text x="130" y="288.65" font-size="1.6" fill="#8a8a8a" text-anchor="start" font-family="'Liberation Sans', Arial, sans-serif" >&lt;0.001</text>
<text x="136" y="288.65" font-size="1.6" fill="#8a8a8a" text-anchor="start" font-family="'Liberation Sans', Arial, sans-serif" >1.490(1.04-1.23)</text>
<text x="153.6" y="288.65" font-size="1.3" fill="#999" text-anchor="start" font-family="'Liberation Sans', Arial, sans-serif" >1.49</text>
<text x="122" y="290.1" font-size="1.6" fill="#8a7aa8" text-anchor="start" font-family="'Liberation Sans', Arial, sans-serif" >CTLA4</text>
<text x="130" y="290.1" font-size="1.6" fill="#8a8a8a" text-anchor="start" font-family="'Liberation Sans', Arial, sans-serif" >&lt;0.001</text>
<text x="136" y="290.1" font-size="1.6" fill="#8a8a8a" text-anchor="start" font-family="'Liberation Sans', Arial, sans-serif" >1.520(1.05-1.24)</text>
<text x="153.6" y="290.1" font-size="1.3" fill="#999" text-anchor="start" font-family="'Liberation Sans', Arial, sans-serif" >1.52</text>
<text x="122" y="291.55" font-size="1.6" fill="#8a7aa8" text-anchor="start" font-family="'Liberation Sans', Arial, sans-serif" >HAVCR2</text>
<text x="130" y="291.55" font-size="1.6" fill="#8a8a8a" text-anchor="start" font-family="'Liberation Sans', Arial, sans-serif" >0.002</text>
<text x="136" y="291.55" font-size="1.6" fill="#8a8a8a" text-anchor="start" font-family="'Liberation Sans', Arial, sans-serif" >1.550(1.06-1.25)</text>
<text x="153.6" y="291.55" font-size="1.3" fill="#999" text-anchor="start" font-family="'Liberation Sans', Arial, sans-serif" >1.55</text>
<text x="122" y="293" font-size="1.6" fill="#8a7aa8" text-anchor="start" font-family="'Liberation Sans', Arial, sans-serif" >TIGIT</text>
<text x="130" y="293" font-size="1.6" fill="#8a8a8a" text-anchor="start" font-family="'Liberation Sans', Arial, sans-serif" >&lt;0.001</text>
<text x="136" y="293" font-size="1.6" fill="#8a8a8a" text-anchor="start" font-family="'Liberation Sans', Arial, sans-serif" >1.580(1.07-1.26)</text>
<text x="153.6" y="293" font-size="1.3" fill="#999" text-anchor="start" font-family="'Liberation Sans', Arial, sans-serif" >1.58</text>
<text x="122" y="294.45" font-size="1.6" fill="#8a7aa8" text-anchor="start" font-family="'Liberation Sans', Arial, sans-serif" >IRF1</text>
<text x="130" y="294.45" font-size="1.6" fill="#8a8a8a" text-anchor="start" font-family="'Liberation Sans', Arial, sans-serif" >&lt;0.001</text>
<text x="136" y="294.45" font-size="1.6" fill="#8a8a8a" text-anchor="start" font-family="'Liberation Sans', Arial, sans-serif" >1.610(1.08-1.27)</text>
<text x="153.6" y="294.45" font-size="1.3" fill="#999" text-anchor="start" font-family="'Liberation Sans', Arial, sans-serif" >1.61</text>
<rect x="153.5" y="265.5" width="4" height="6" fill="#e2e2e2"/>
<line x1="150.3" y1="268" x2="150.3" y2="295" stroke="#f0c8d0" stroke-width="0.3" />
<line x1="154.3" y1="271.5" x2="156.7" y2="273.1" stroke="#c66fa8" stroke-width="0.45" />
<line x1="155.2" y1="272.4" x2="157.6" y2="274" stroke="#9c4fb0" stroke-width="0.45" />
<line x1="156.1" y1="273.3" x2="158.5" y2="274.9" stroke="#e09ac0" stroke-width="0.45" />
<line x1="155.5" y1="275.5" x2="157.9" y2="277.1" stroke="#c66fa8" stroke-width="0.45" />
<line x1="156.4" y1="276.4" x2="158.8" y2="278" stroke="#9c4fb0" stroke-width="0.45" />
<line x1="157.3" y1="277.3" x2="159.7" y2="278.9" stroke="#e09ac0" stroke-width="0.45" />
<line x1="154.3" y1="280.5" x2="156.7" y2="282.1" stroke="#c66fa8" stroke-width="0.45" />
<line x1="155.2" y1="281.4" x2="157.6" y2="283" stroke="#9c4fb0" stroke-width="0.45" />
<line x1="156.1" y1="282.3" x2="158.5" y2="283.9" stroke="#e09ac0" stroke-width="0.45" />
<line x1="155.5" y1="284.5" x2="157.9" y2="286.1" stroke="#c66fa8" stroke-width="0.45" />
<line x1="156.4" y1="285.4" x2="158.8" y2="287" stroke="#9c4fb0" stroke-width="0.45" />
<line x1="157.3" y1="286.3" x2="159.7" y2="287.9" stroke="#e09ac0" stroke-width="0.45" />
<line x1="154.3" y1="288.5" x2="156.7" y2="290.1" stroke="#c66fa8" stroke-width="0.45" />
<line x1="155.2" y1="289.4" x2="157.6" y2="291" stroke="#9c4fb0" stroke-width="0.45" />
<line x1="156.1" y1="290.3" x2="158.5" y2="291.9" stroke="#e09ac0" stroke-width="0.45" />
<line x1="155.5" y1="292" x2="157.9" y2="293.6" stroke="#c66fa8" stroke-width="0.45" />
<line x1="156.4" y1="292.9" x2="158.8" y2="294.5" stroke="#9c4fb0" stroke-width="0.45" />
<line x1="157.3" y1="293.8" x2="159.7" y2="295.4" stroke="#e09ac0" stroke-width="0.45" />
<line x1="146" y1="296" x2="163" y2="296" stroke="#aaa" stroke-width="0.3" />
<text x="147" y="298" font-size="1.2" fill="#999" text-anchor="middle" font-family="'Liberation Sans', Arial, sans-serif" >0</text>
<text x="151.5" y="298" font-size="1.2" fill="#999" text-anchor="middle" font-family="'Liberation Sans', Arial, sans-serif" >1</text>
<text x="156" y="298" font-size="1.2" fill="#999" text-anchor="middle" font-family="'Liberation Sans', Arial, sans-serif" >2</text>
<text x="160.5" y="298" font-size="1.2" fill="#999" text-anchor="middle" font-family="'Liberation Sans', Arial, sans-serif" >3</text>
<text x="308" y="15.5" font-size="1.3" fill="#999" text-anchor="middle" font-family="'Liberation Sans', Arial, sans-serif" >Venn diagram</text>
<text x="290.5" y="20.5" font-size="1.2" fill="#888" text-anchor="start" font-family="'Liberation Sans', Arial, sans-serif" >DEGs</text>
<text x="321.5" y="20.8" font-size="1.2" fill="#888" text-anchor="start" font-family="'Liberation Sans', Arial, sans-serif" >ICI</text>
<text x="300" y="30" font-size="1.8" fill="#223" text-anchor="middle" font-family="'Liberation Sans', Arial, sans-serif" font-weight="bold">1024</text>
<text x="317.6" y="30.2" font-size="1.8" fill="#132" text-anchor="middle" font-family="'Liberation Sans', Arial, sans-serif" font-weight="bold">38</text>
<text x="310" y="30" font-size="1.5" fill="#cde" text-anchor="middle" font-family="'Liberation Sans', Arial, sans-serif" >12</text>
<text x="310" y="45.8" font-size="1.3" fill="#666" text-anchor="middle" font-family="'Liberation Sans', Arial, sans-serif" >CCL8 CXCL9 ...</text>
<text x="310" y="48.8" font-size="1.3" fill="#666" text-anchor="middle" font-family="'Liberation Sans', Arial, sans-serif" >GBP1 STAT1 IDO1</text>
<text x="262.9" y="74.5" font-size="2.2" fill="#333" text-anchor="start" font-family="'Liberation Sans', Arial, sans-serif" font-weight="bold">a</text>
<text x="278.63" y="77.1" font-size="1.9" fill="#b07070" text-anchor="middle" font-family="'Liberation Sans', Arial, sans-serif" >GSE10846</text>
<line x1="266.3" y1="77.8" x2="266.3" y2="88.3" stroke="#aaa" stroke-width="0.3" />
<text x="265.9" y="78.8" font-size="1.1" fill="#999" text-anchor="end" font-family="'Liberation Sans', Arial, sans-serif" >1.00</text>
<text x="265.9" y="81.8" font-size="1.1" fill="#999" text-anchor="end" font-family="'Liberation Sans', Arial, sans-serif" >0.75</text>
<text x="265.9" y="84.8" font-size="1.1" fill="#999" text-anchor="end" font-family="'Liberation Sans', Arial, sans-serif" >0.50</text>
<text x="265.9" y="87.8" font-size="1.1" fill="#999" text-anchor="end" font-family="'Liberation Sans', Arial, sans-serif" >0.25</text>
<text x="263.7" y="86.8" font-size="1.3" fill="#999" text-anchor="start" font-family="'Liberation Sans', Arial, sans-serif" transform="rotate(-90 263.7 86.8)">Survival</text>
<polygon points="272.3,80.3 280.3,80.5 291,79.9 291,89.3 282.3,88.3 274.3,85.8" fill="#f4a2b8" opacity="0.9"/>
<polygon points="268.3,78.8 274.3,80.8 280.3,81.8 280.3,84.8 274.3,83.8 268.3,80.3" fill="#c9b0f0" opacity="0.7"/>
<path d="M268.8,78.7 C272.3,81.1 277.3,82.3 285.8,83.1 L290.5,84.1" fill="none" stroke="#4b3fc0" stroke-width="1.2" />
<path d="M269.3,79.7 C272.8,82.5 277.3,83.9 285.8,84.9 L290.5,86.1" fill="none" stroke="#b760d8" stroke-width="1" />
<text x="267.8" y="88.3" font-size="1.3" fill="#777" text-anchor="start" font-family="'Liberation Sans', Arial, sans-serif" >p&lt;0.001</text>
<line x1="266.3" y1="89.6" x2="290.5" y2="89.6" stroke="#d9c99a" stroke-width="0.4" stroke-dasharray="0.9,0.6"/>
<text x="278.63" y="91.9" font-size="1.3" fill="#999" text-anchor="middle" font-family="'Liberation Sans', Arial, sans-serif" >Time (years)</text>
<text x="267.3" y="95.3" font-size="1.6" fill="#888" text-anchor="middle" font-family="'Liberation Sans', Arial, sans-serif" >120</text>
<text x="272.04" y="95.3" font-size="1.6" fill="#888" text-anchor="middle" font-family="'Liberation Sans', Arial, sans-serif" >102</text>
<text x="276.78" y="95.3" font-size="1.6" fill="#888" text-anchor="middle" font-family="'Liberation Sans', Arial, sans-serif" >84</text>
<text x="281.52" y="95.3" font-size="1.6" fill="#888" text-anchor="middle" font-family="'Liberation Sans', Arial, sans-serif" >66</text>
<text x="286.26" y="95.3" font-size="1.6" fill="#888" text-anchor="middle" font-family="'Liberation Sans', Arial, sans-serif" >48</text>
<text x="291" y="95.3" font-size="1.6" fill="#888" text-anchor="middle" font-family="'Liberation Sans', Arial, sans-serif" >30</text>
<text x="262.8" y="95.3" font-size="1.5" fill="#777" text-anchor="start" font-family="'Liberation Sans', Arial, sans-serif" >High</text>
<text x="262.8" y="97.9" font-size="1.5" fill="#777" text-anchor="start" font-family="'Liberation Sans', Arial, sans-serif" >Low</text>
<text x="267.3" y="97.9" font-size="1.6" fill="#999" text-anchor="middle" font-family="'Liberation Sans', Arial, sans-serif" >90</text>
<text x="272.04" y="97.9" font-size="1.6" fill="#999" text-anchor="middle" font-family="'Liberation Sans', Arial, sans-serif" >76</text>
<text x="276.78" y="97.9" font-size="1.6" fill="#999" text-anchor="middle" font-family="'Liberation Sans', Arial, sans-serif" >62</text>
<text x="281.52" y="97.9" font-size="1.6" fill="#999" text-anchor="middle" font-family="'Liberation Sans', Arial, sans-serif" >48</text>
<text x="286.26" y="97.9" font-size="1.6" fill="#999" text-anchor="middle" font-family="'Liberation Sans', Arial, sans-serif" >34</text>
<text x="291" y="97.9" font-size="1.6" fill="#999" text-anchor="middle" font-family="'Liberation Sans', Arial, sans-serif" >20</text>
<text x="292.6" y="74.5" font-size="2.2" fill="#333" text-anchor="start" font-family="'Liberation Sans', Arial, sans-serif" font-weight="bold">b</text>
<text x="308.5" y="77.1" font-size="1.9" fill="#b07070" text-anchor="middle" font-family="'Liberation Sans', Arial, sans-serif" >GSE10846</text>
<line x1="296" y1="77.8" x2="296" y2="88.3" stroke="#aaa" stroke-width="0.3" />
<text x="295.6" y="78.8" font-size="1.1" fill="#999" text-anchor="end" font-family="'Liberation Sans', Arial, sans-serif" >1.00</text>
<text x="295.6" y="81.8" font-size="1.1" fill="#999" text-anchor="end" font-family="'Liberation Sans', Arial, sans-serif" >0.75</text>
<text x="295.6" y="84.8" font-size="1.1" fill="#999" text-anchor="end" font-family="'Liberation Sans', Arial, sans-serif" >0.50</text>
<text x="295.6" y="87.8" font-size="1.1" fill="#999" text-anchor="end" font-family="'Liberation Sans', Arial, sans-serif" >0.25</text>
<text x="293.4" y="86.8" font-size="1.3" fill="#999" text-anchor="start" font-family="'Liberation Sans', Arial, sans-serif" transform="rotate(-90 293.4 86.8)">Survival</text>
<polygon points="302,80.3 310,80.5 321,79.9 321,89.3 312,88.3 304,85.8" fill="#f4a2b8" opacity="0.9"/>
<polygon points="298,78.8 304,80.8 310,81.8 310,84.8 304,83.8 298,80.3" fill="#c9b0f0" opacity="0.7"/>
<path d="M298.5,78.7 C302,81.1 307,82.3 315.5,83.1 L320.5,84.1" fill="none" stroke="#4b3fc0" stroke-width="1.2" />
<path d="M299,79.7 C302.5,82.5 307,83.9 315.5,84.9 L320.5,86.1" fill="none" stroke="#b760d8" stroke-width="1" />
<text x="297.5" y="88.3" font-size="1.3" fill="#777" text-anchor="start" font-family="'Liberation Sans', Arial, sans-serif" >p&lt;0.001</text>
<line x1="296" y1="89.6" x2="320.5" y2="89.6" stroke="#d9c99a" stroke-width="0.4" stroke-dasharray="0.9,0.6"/>
<text x="308.5" y="91.9" font-size="1.3" fill="#999" text-anchor="middle" font-family="'Liberation Sans', Arial, sans-serif" >Time (years)</text>
<text x="297" y="95.3" font-size="1.6" fill="#888" text-anchor="middle" font-family="'Liberation Sans', Arial, sans-serif" >120</text>
<text x="301.8" y="95.3" font-size="1.6" fill="#888" text-anchor="middle" font-family="'Liberation Sans', Arial, sans-serif" >102</text>
<text x="306.6" y="95.3" font-size="1.6" fill="#888" text-anchor="middle" font-family="'Liberation Sans', Arial, sans-serif" >84</text>
<text x="311.4" y="95.3" font-size="1.6" fill="#888" text-anchor="middle" font-family="'Liberation Sans', Arial, sans-serif" >66</text>
<text x="316.2" y="95.3" font-size="1.6" fill="#888" text-anchor="middle" font-family="'Liberation Sans', Arial, sans-serif" >48</text>
<text x="321" y="95.3" font-size="1.6" fill="#888" text-anchor="middle" font-family="'Liberation Sans', Arial, sans-serif" >30</text>
<text x="292.5" y="95.3" font-size="1.5" fill="#777" text-anchor="start" font-family="'Liberation Sans', Arial, sans-serif" >High</text>
<text x="292.5" y="97.9" font-size="1.5" fill="#777" text-anchor="start" font-family="'Liberation Sans', Arial, sans-serif" >Low</text>
<text x="297" y="97.9" font-size="1.6" fill="#999" text-anchor="middle" font-family="'Liberation Sans', Arial, sans-serif" >90</text>
<text x="301.8" y="97.9" font-size="1.6" fill="#999" text-anchor="middle" font-family="'Liberation Sans', Arial, sans-serif" >76</text>
<text x="306.6" y="97.9" font-size="1.6" fill="#999" text-anchor="middle" font-family="'Liberation Sans', Arial, sans-serif" >62</text>
<text x="311.4" y="97.9" font-size="1.6" fill="#999" text-anchor="middle" font-family="'Liberation Sans', Arial, sans-serif" >48</text>
<text x="316.2" y="97.9" font-size="1.6" fill="#999" text-anchor="middle" font-family="'Liberation Sans', Arial, sans-serif" >34</text>
<text x="321" y="97.9" font-size="1.6" fill="#999" text-anchor="middle" font-family="'Liberation Sans', Arial, sans-serif" >20</text>
<text x="322.6" y="74.5" font-size="2.2" fill="#333" text-anchor="start" font-family="'Liberation Sans', Arial, sans-serif" font-weight="bold">c</text>
<text x="338.33" y="77.1" font-size="1.9" fill="#b07070" text-anchor="middle" font-family="'Liberation Sans', Arial, sans-serif" >TCGA-DLBC</text>
<line x1="326" y1="77.8" x2="326" y2="88.3" stroke="#aaa" stroke-width="0.3" />
<text x="325.6" y="78.8" font-size="1.1" fill="#999" text-anchor="end" font-family="'Liberation Sans', Arial, sans-serif" >1.00</text>
<text x="325.6" y="81.8" font-size="1.1" fill="#999" text-anchor="end" font-family="'Liberation Sans', Arial, sans-serif" >0.75</text>
<text x="325.6" y="84.8" font-size="1.1" fill="#999" text-anchor="end" font-family="'Liberation Sans', Arial, sans-serif" >0.50</text>
<text x="325.6" y="87.8" font-size="1.1" fill="#999" text-anchor="end" font-family="'Liberation Sans', Arial, sans-serif" >0.25</text>
<text x="323.4" y="86.8" font-size="1.3" fill="#999" text-anchor="start" font-family="'Liberation Sans', Arial, sans-serif" transform="rotate(-90 323.4 86.8)">Survival</text>
<polygon points="332,80.3 340,80.5 350.7,79.9 350.7,89.3 342,88.3 334,85.8" fill="#f4a2b8" opacity="0.9"/>
<polygon points="328,78.8 334,80.8 340,81.8 340,84.8 334,83.8 328,80.3" fill="#c9b0f0" opacity="0.7"/>
<path d="M328.5,78.7 C332,81.1 337,82.3 345.5,83.1 L350.2,84.1" fill="none" stroke="#4b3fc0" stroke-width="1.2" />
<path d="M329,79.7 C332.5,82.5 337,83.9 345.5,84.9 L350.2,86.1" fill="none" stroke="#b760d8" stroke-width="1" />
<text x="327.5" y="88.3" font-size="1.3" fill="#777" text-anchor="start" font-family="'Liberation Sans', Arial, sans-serif" >p&lt;0.001</text>
<line x1="326" y1="89.6" x2="350.2" y2="89.6" stroke="#d9c99a" stroke-width="0.4" stroke-dasharray="0.9,0.6"/>
<text x="338.33" y="91.9" font-size="1.3" fill="#999" text-anchor="middle" font-family="'Liberation Sans', Arial, sans-serif" >Time (years)</text>
<text x="327" y="95.3" font-size="1.6" fill="#888" text-anchor="middle" font-family="'Liberation Sans', Arial, sans-serif" >120</text>
<text x="331.74" y="95.3" font-size="1.6" fill="#888" text-anchor="middle" font-family="'Liberation Sans', Arial, sans-serif" >102</text>
<text x="336.48" y="95.3" font-size="1.6" fill="#888" text-anchor="middle" font-family="'Liberation Sans', Arial, sans-serif" >84</text>
<text x="341.22" y="95.3" font-size="1.6" fill="#888" text-anchor="middle" font-family="'Liberation Sans', Arial, sans-serif" >66</text>
<text x="345.96" y="95.3" font-size="1.6" fill="#888" text-anchor="middle" font-family="'Liberation Sans', Arial, sans-serif" >48</text>
<text x="350.7" y="95.3" font-size="1.6" fill="#888" text-anchor="middle" font-family="'Liberation Sans', Arial, sans-serif" >30</text>
<text x="322.5" y="95.3" font-size="1.5" fill="#777" text-anchor="start" font-family="'Liberation Sans', Arial, sans-serif" >High</text>
<text x="322.5" y="97.9" font-size="1.5" fill="#777" text-anchor="start" font-family="'Liberation Sans', Arial, sans-serif" >Low</text>
<text x="327" y="97.9" font-size="1.6" fill="#999" text-anchor="middle" font-family="'Liberation Sans', Arial, sans-serif" >90</text>
<text x="331.74" y="97.9" font-size="1.6" fill="#999" text-anchor="middle" font-family="'Liberation Sans', Arial, sans-serif" >76</text>
<text x="336.48" y="97.9" font-size="1.6" fill="#999" text-anchor="middle" font-family="'Liberation Sans', Arial, sans-serif" >62</text>
<text x="341.22" y="97.9" font-size="1.6" fill="#999" text-anchor="middle" font-family="'Liberation Sans', Arial, sans-serif" >48</text>
<text x="345.96" y="97.9" font-size="1.6" fill="#999" text-anchor="middle" font-family="'Liberation Sans', Arial, sans-serif" >34</text>
<text x="350.7" y="97.9" font-size="1.6" fill="#999" text-anchor="middle" font-family="'Liberation Sans', Arial, sans-serif" >20</text>
<text x="284.25" y="113.8" font-size="1.3" fill="#999" text-anchor="middle" font-family="'Liberation Sans', Arial, sans-serif" >Kruskal-Wallis, p = 0.0</text>
<text x="284.25" y="115.8" font-size="1.2" fill="#aaa" text-anchor="middle" font-family="'Liberation Sans', Arial, sans-serif" >Stage  I  II  III  IV</text>
<line x1="273" y1="116.7" x2="273" y2="133.5" stroke="#999" stroke-width="0.3" />
<text x="272.7" y="118.2" font-size="1.2" fill="#999" text-anchor="end" font-family="'Liberation Sans', Arial, sans-serif" >8</text>
<text x="272.7" y="122.7" font-size="1.2" fill="#999" text-anchor="end" font-family="'Liberation Sans', Arial, sans-serif" >6</text>
<text x="272.7" y="127.2" font-size="1.2" fill="#999" text-anchor="end" font-family="'Liberation Sans', Arial, sans-serif" >4</text>
<text x="272.7" y="131.7" font-size="1.2" fill="#999" text-anchor="end" font-family="'Liberation Sans', Arial, sans-serif" >2</text>
<line x1="273" y1="133.5" x2="297" y2="133.5" stroke="#aaa" stroke-width="0.3" />
<rect x="275.91" y="116.6" width="1.8" height="15.43" fill="#f4a09a" opacity="0.3"/>
<circle cx="277.81" cy="124.8" r="0.3" fill="#f4a09a" opacity="0.9"/>
<circle cx="276.63" cy="125.46" r="0.3" fill="#f4a09a" opacity="0.9"/>
<circle cx="276.13" cy="118.47" r="0.3" fill="#f4a09a" opacity="0.9"/>
<circle cx="276.03" cy="128.32" r="0.3" fill="#f4a09a" opacity="0.9"/>
<circle cx="276.15" cy="118.14" r="0.3" fill="#f4a09a" opacity="0.9"/>
<circle cx="277.46" cy="124.66" r="0.3" fill="#f4a09a" opacity="0.9"/>
<circle cx="277.43" cy="126.06" r="0.3" fill="#f4a09a" opacity="0.9"/>
<circle cx="275.84" cy="117.56" r="0.3" fill="#f4a09a" opacity="0.9"/>
<circle cx="276.46" cy="128.49" r="0.3" fill="#f4a09a" opacity="0.9"/>
<circle cx="276.52" cy="127.64" r="0.3" fill="#f4a09a" opacity="0.9"/>
<circle cx="276.35" cy="119.21" r="0.3" fill="#f4a09a" opacity="0.9"/>
<circle cx="277.62" cy="118.13" r="0.3" fill="#f4a09a" opacity="0.9"/>
<circle cx="276.51" cy="125.58" r="0.3" fill="#f4a09a" opacity="0.9"/>
<circle cx="276.58" cy="123.54" r="0.3" fill="#f4a09a" opacity="0.9"/>
<circle cx="277.59" cy="117.44" r="0.3" fill="#f4a09a" opacity="0.9"/>
<circle cx="277.73" cy="125.59" r="0.3" fill="#f4a09a" opacity="0.9"/>
<circle cx="277.05" cy="123.38" r="0.3" fill="#f4a09a" opacity="0.9"/>
<circle cx="275.9" cy="120.45" r="0.3" fill="#f4a09a" opacity="0.9"/>
<circle cx="277.52" cy="130.96" r="0.3" fill="#f4a09a" opacity="0.9"/>
<circle cx="277.61" cy="121.46" r="0.3" fill="#f4a09a" opacity="0.9"/>
<circle cx="276.42" cy="129.19" r="0.3" fill="#f4a09a" opacity="0.9"/>
<circle cx="277.73" cy="125.9" r="0.3" fill="#f4a09a" opacity="0.9"/>
<circle cx="277.71" cy="124.25" r="0.3" fill="#f4a09a" opacity="0.9"/>
<circle cx="276.59" cy="120.35" r="0.3" fill="#f4a09a" opacity="0.9"/>
<circle cx="276.26" cy="127.69" r="0.3" fill="#f4a09a" opacity="0.9"/>
<circle cx="277.56" cy="121.37" r="0.3" fill="#f4a09a" opacity="0.9"/>
<rect x="275.81" y="121.54" width="2" height="4.63" fill="#f4a09a" opacity="0.6"/>
<rect x="275.81" y="121.54" width="2" height="4.63" fill="none" stroke="#e07070" stroke-width="0.25"/>
<line x1="275.81" y1="123.85" x2="277.81" y2="123.85" stroke="#e07070" stroke-width="0.3" />
<text x="276.81" y="135.1" font-size="1.3" fill="#999" text-anchor="middle" font-family="'Liberation Sans', Arial, sans-serif" >I</text>
<rect x="281.54" y="116.93" width="1.8" height="14.88" fill="#d6e070" opacity="0.3"/>
<circle cx="281.78" cy="120.55" r="0.3" fill="#d6e070" opacity="0.9"/>
<circle cx="281.81" cy="122.26" r="0.3" fill="#d6e070" opacity="0.9"/>
<circle cx="282.02" cy="131.39" r="0.3" fill="#d6e070" opacity="0.9"/>
<circle cx="281.67" cy="125.28" r="0.3" fill="#d6e070" opacity="0.9"/>
<circle cx="282.21" cy="124.87" r="0.3" fill="#d6e070" opacity="0.9"/>
<circle cx="281.57" cy="122.93" r="0.3" fill="#d6e070" opacity="0.9"/>
<circle cx="283.09" cy="118.76" r="0.3" fill="#d6e070" opacity="0.9"/>
<circle cx="281.93" cy="122.15" r="0.3" fill="#d6e070" opacity="0.9"/>
<circle cx="282" cy="119.77" r="0.3" fill="#d6e070" opacity="0.9"/>
<circle cx="281.51" cy="120.46" r="0.3" fill="#d6e070" opacity="0.9"/>
<circle cx="282.12" cy="126.81" r="0.3" fill="#d6e070" opacity="0.9"/>
<circle cx="282.85" cy="119.25" r="0.3" fill="#d6e070" opacity="0.9"/>
<circle cx="281.98" cy="118.31" r="0.3" fill="#d6e070" opacity="0.9"/>
<circle cx="281.69" cy="129.36" r="0.3" fill="#d6e070" opacity="0.9"/>
<circle cx="283.11" cy="123.52" r="0.3" fill="#d6e070" opacity="0.9"/>
<circle cx="281.76" cy="128.91" r="0.3" fill="#d6e070" opacity="0.9"/>
<circle cx="282.88" cy="122.18" r="0.3" fill="#d6e070" opacity="0.9"/>
<circle cx="283.35" cy="122.54" r="0.3" fill="#d6e070" opacity="0.9"/>
<circle cx="283.34" cy="120.02" r="0.3" fill="#d6e070" opacity="0.9"/>
<circle cx="281.89" cy="124.44" r="0.3" fill="#d6e070" opacity="0.9"/>
<circle cx="281.7" cy="123.66" r="0.3" fill="#d6e070" opacity="0.9"/>
<circle cx="281.96" cy="127.44" r="0.3" fill="#d6e070" opacity="0.9"/>
<circle cx="282.61" cy="130.32" r="0.3" fill="#d6e070" opacity="0.9"/>
<circle cx="281.93" cy="122.4" r="0.3" fill="#d6e070" opacity="0.9"/>
<circle cx="281.86" cy="125.98" r="0.3" fill="#d6e070" opacity="0.9"/>
<circle cx="281.68" cy="129.91" r="0.3" fill="#d6e070" opacity="0.9"/>
<rect x="281.44" y="121.69" width="2" height="4.47" fill="#d6e070" opacity="0.6"/>
<rect x="281.44" y="121.69" width="2" height="4.47" fill="none" stroke="#a8b040" stroke-width="0.25"/>
<line x1="281.44" y1="123.92" x2="283.44" y2="123.92" stroke="#a8b040" stroke-width="0.3" />
<text x="282.44" y="135.1" font-size="1.3" fill="#999" text-anchor="middle" font-family="'Liberation Sans', Arial, sans-serif" >II</text>
<rect x="287.16" y="116.97" width="1.8" height="15.22" fill="#7ad8c4" opacity="0.3"/>
<circle cx="288.61" cy="121.08" r="0.3" fill="#7ad8c4" opacity="0.9"/>
<circle cx="288.38" cy="122.83" r="0.3" fill="#7ad8c4" opacity="0.9"/>
<circle cx="287.68" cy="125.61" r="0.3" fill="#7ad8c4" opacity="0.9"/>
<circle cx="287.23" cy="122.9" r="0.3" fill="#7ad8c4" opacity="0.9"/>
<circle cx="288.76" cy="119.66" r="0.3" fill="#7ad8c4" opacity="0.9"/>
<circle cx="288.39" cy="121.85" r="0.3" fill="#7ad8c4" opacity="0.9"/>
<circle cx="288.19" cy="118.63" r="0.3" fill="#7ad8c4" opacity="0.9"/>
<circle cx="288.06" cy="122.47" r="0.3" fill="#7ad8c4" opacity="0.9"/>
<circle cx="287.19" cy="121.49" r="0.3" fill="#7ad8c4" opacity="0.9"/>
<circle cx="287.52" cy="121.71" r="0.3" fill="#7ad8c4" opacity="0.9"/>
<circle cx="288.5" cy="118.89" r="0.3" fill="#7ad8c4" opacity="0.9"/>
<circle cx="287.87" cy="121.27" r="0.3" fill="#7ad8c4" opacity="0.9"/>
<circle cx="288.61" cy="130.8" r="0.3" fill="#7ad8c4" opacity="0.9"/>
<circle cx="288.79" cy="130.4" r="0.3" fill="#7ad8c4" opacity="0.9"/>
<circle cx="287.62" cy="118.98" r="0.3" fill="#7ad8c4" opacity="0.9"/>
<circle cx="288.42" cy="117.42" r="0.3" fill="#7ad8c4" opacity="0.9"/>
<circle cx="287.77" cy="127.07" r="0.3" fill="#7ad8c4" opacity="0.9"/>
<circle cx="288.38" cy="123.25" r="0.3" fill="#7ad8c4" opacity="0.9"/>
<circle cx="287.56" cy="127.61" r="0.3" fill="#7ad8c4" opacity="0.9"/>
<circle cx="287.77" cy="129.85" r="0.3" fill="#7ad8c4" opacity="0.9"/>
<circle cx="287.43" cy="126.54" r="0.3" fill="#7ad8c4" opacity="0.9"/>
<circle cx="288.89" cy="118.72" r="0.3" fill="#7ad8c4" opacity="0.9"/>
<circle cx="288.49" cy="128.14" r="0.3" fill="#7ad8c4" opacity="0.9"/>
<circle cx="287.14" cy="117.59" r="0.3" fill="#7ad8c4" opacity="0.9"/>
<circle cx="287.46" cy="119.43" r="0.3" fill="#7ad8c4" opacity="0.9"/>
<circle cx="287.82" cy="121.58" r="0.3" fill="#7ad8c4" opacity="0.9"/>
<rect x="287.06" y="121.84" width="2" height="4.56" fill="#7ad8c4" opacity="0.6"/>
<rect x="287.06" y="121.84" width="2" height="4.56" fill="none" stroke="#3aa888" stroke-width="0.25"/>
<line x1="287.06" y1="124.12" x2="289.06" y2="124.12" stroke="#3aa888" stroke-width="0.3" />
<text x="288.06" y="135.1" font-size="1.3" fill="#999" text-anchor="middle" font-family="'Liberation Sans', Arial, sans-serif" >III</text>
<rect x="292.79" y="116.26" width="1.8" height="16.27" fill="#e6a0ea" opacity="0.3"/>
<circle cx="293.05" cy="126.65" r="0.3" fill="#e6a0ea" opacity="0.9"/>
<circle cx="293.83" cy="129.92" r="0.3" fill="#e6a0ea" opacity="0.9"/>
<circle cx="293.2" cy="127.92" r="0.3" fill="#e6a0ea" opacity="0.9"/>
<circle cx="294.06" cy="123.34" r="0.3" fill="#e6a0ea" opacity="0.9"/>
<circle cx="292.69" cy="121.94" r="0.3" fill="#e6a0ea" opacity="0.9"/>
<circle cx="294.24" cy="129.84" r="0.3" fill="#e6a0ea" opacity="0.9"/>
<circle cx="292.77" cy="120.92" r="0.3" fill="#e6a0ea" opacity="0.9"/>
<circle cx="293.9" cy="130.16" r="0.3" fill="#e6a0ea" opacity="0.9"/>
<circle cx="293.18" cy="117.03" r="0.3" fill="#e6a0ea" opacity="0.9"/>
<circle cx="294.27" cy="118.07" r="0.3" fill="#e6a0ea" opacity="0.9"/>
<circle cx="294.52" cy="119.68" r="0.3" fill="#e6a0ea" opacity="0.9"/>
<circle cx="292.86" cy="128.46" r="0.3" fill="#e6a0ea" opacity="0.9"/>
<circle cx="293.47" cy="127.56" r="0.3" fill="#e6a0ea" opacity="0.9"/>
<circle cx="294.34" cy="128.43" r="0.3" fill="#e6a0ea" opacity="0.9"/>
<circle cx="292.87" cy="120.83" r="0.3" fill="#e6a0ea" opacity="0.9"/>
<circle cx="293.54" cy="131.66" r="0.3" fill="#e6a0ea" opacity="0.9"/>
<circle cx="294.07" cy="131.4" r="0.3" fill="#e6a0ea" opacity="0.9"/>
<circle cx="294.35" cy="128.28" r="0.3" fill="#e6a0ea" opacity="0.9"/>
<circle cx="293.59" cy="126.48" r="0.3" fill="#e6a0ea" opacity="0.9"/>
<circle cx="294.08" cy="117.14" r="0.3" fill="#e6a0ea" opacity="0.9"/>
<circle cx="293.71" cy="123.23" r="0.3" fill="#e6a0ea" opacity="0.9"/>
<circle cx="292.94" cy="131.36" r="0.3" fill="#e6a0ea" opacity="0.9"/>
<circle cx="292.77" cy="128.66" r="0.3" fill="#e6a0ea" opacity="0.9"/>
<circle cx="294.3" cy="127.7" r="0.3" fill="#e6a0ea" opacity="0.9"/>
<circle cx="293.78" cy="120.51" r="0.3" fill="#e6a0ea" opacity="0.9"/>
<circle cx="293.96" cy="132.04" r="0.3" fill="#e6a0ea" opacity="0.9"/>
<rect x="292.69" y="121.47" width="2" height="4.88" fill="#e6a0ea" opacity="0.6"/>
<rect x="292.69" y="121.47" width="2" height="4.88" fill="none" stroke="#b86ad0" stroke-width="0.25"/>
<line x1="292.69" y1="123.91" x2="294.69" y2="123.91" stroke="#b86ad0" stroke-width="0.3" />
<text x="293.69" y="135.1" font-size="1.3" fill="#999" text-anchor="middle" font-family="'Liberation Sans', Arial, sans-serif" >IV</text>
<text x="298.5" y="114.5" font-size="1.8" fill="#333" text-anchor="start" font-family="'Liberation Sans', Arial, sans-serif" >b</text>
<text x="310.5" y="113.8" font-size="1.3" fill="#999" text-anchor="middle" font-family="'Liberation Sans', Arial, sans-serif" >Kruskal-Wallis, p = 0.0</text>
<text x="310.5" y="115.8" font-size="1.2" fill="#aaa" text-anchor="middle" font-family="'Liberation Sans', Arial, sans-serif" >Stage  I  II  III  IV</text>
<line x1="301" y1="116.7" x2="301" y2="133.5" stroke="#999" stroke-width="0.3" />
<text x="300.7" y="118.2" font-size="1.2" fill="#999" text-anchor="end" font-family="'Liberation Sans', Arial, sans-serif" >8</text>
<text x="300.7" y="122.7" font-size="1.2" fill="#999" text-anchor="end" font-family="'Liberation Sans', Arial, sans-serif" >6</text>
<text x="300.7" y="127.2" font-size="1.2" fill="#999" text-anchor="end" font-family="'Liberation Sans', Arial, sans-serif" >4</text>
<text x="300.7" y="131.7" font-size="1.2" fill="#999" text-anchor="end" font-family="'Liberation Sans', Arial, sans-serif" >2</text>
<line x1="301" y1="133.5" x2="321.5" y2="133.5" stroke="#aaa" stroke-width="0.3" />
<rect x="304.27" y="117.02" width="1.8" height="15.61" fill="#f7a3a3" opacity="0.3"/>
<circle cx="304.88" cy="117.94" r="0.3" fill="#f7a3a3" opacity="0.9"/>
<circle cx="304.57" cy="123.44" r="0.3" fill="#f7a3a3" opacity="0.9"/>
<circle cx="304.44" cy="121.86" r="0.3" fill="#f7a3a3" opacity="0.9"/>
<circle cx="305.51" cy="128.05" r="0.3" fill="#f7a3a3" opacity="0.9"/>
<circle cx="304.65" cy="120.73" r="0.3" fill="#f7a3a3" opacity="0.9"/>
<circle cx="305.06" cy="125.06" r="0.3" fill="#f7a3a3" opacity="0.9"/>
<circle cx="304.87" cy="131.62" r="0.3" fill="#f7a3a3" opacity="0.9"/>
<circle cx="305.94" cy="121.69" r="0.3" fill="#f7a3a3" opacity="0.9"/>
<circle cx="305.29" cy="119.23" r="0.3" fill="#f7a3a3" opacity="0.9"/>
<circle cx="305.8" cy="122.22" r="0.3" fill="#f7a3a3" opacity="0.9"/>
<circle cx="305.69" cy="125.57" r="0.3" fill="#f7a3a3" opacity="0.9"/>
<circle cx="305.5" cy="119.66" r="0.3" fill="#f7a3a3" opacity="0.9"/>
<circle cx="305.09" cy="126.36" r="0.3" fill="#f7a3a3" opacity="0.9"/>
<circle cx="305.83" cy="128.98" r="0.3" fill="#f7a3a3" opacity="0.9"/>
<circle cx="304.75" cy="118.8" r="0.3" fill="#f7a3a3" opacity="0.9"/>
<circle cx="304.58" cy="122.64" r="0.3" fill="#f7a3a3" opacity="0.9"/>
<circle cx="304.73" cy="117.96" r="0.3" fill="#f7a3a3" opacity="0.9"/>
<circle cx="305.57" cy="120.09" r="0.3" fill="#f7a3a3" opacity="0.9"/>
<circle cx="304.39" cy="124.01" r="0.3" fill="#f7a3a3" opacity="0.9"/>
<circle cx="305.1" cy="122.08" r="0.3" fill="#f7a3a3" opacity="0.9"/>
<circle cx="304.5" cy="122.68" r="0.3" fill="#f7a3a3" opacity="0.9"/>
<circle cx="304.19" cy="118.14" r="0.3" fill="#f7a3a3" opacity="0.9"/>
<circle cx="305.67" cy="132.5" r="0.3" fill="#f7a3a3" opacity="0.9"/>
<circle cx="305.6" cy="118.33" r="0.3" fill="#f7a3a3" opacity="0.9"/>
<circle cx="305.29" cy="132.32" r="0.3" fill="#f7a3a3" opacity="0.9"/>
<circle cx="305.14" cy="118.71" r="0.3" fill="#f7a3a3" opacity="0.9"/>
<rect x="304.17" y="122.01" width="2" height="4.68" fill="#f7a3a3" opacity="0.6"/>
<rect x="304.17" y="122.01" width="2" height="4.68" fill="none" stroke="#e36a6a" stroke-width="0.25"/>
<line x1="304.17" y1="124.35" x2="306.17" y2="124.35" stroke="#e36a6a" stroke-width="0.3" />
<text x="305.17" y="135.1" font-size="1.3" fill="#999" text-anchor="middle" font-family="'Liberation Sans', Arial, sans-serif" >I</text>
<rect x="310.6" y="116.85" width="1.8" height="15.86" fill="#e8e080" opacity="0.3"/>
<circle cx="310.52" cy="125.47" r="0.3" fill="#e8e080" opacity="0.9"/>
<circle cx="311.79" cy="131.44" r="0.3" fill="#e8e080" opacity="0.9"/>
<circle cx="312.37" cy="126.81" r="0.3" fill="#e8e080" opacity="0.9"/>
<circle cx="311" cy="127.2" r="0.3" fill="#e8e080" opacity="0.9"/>
<circle cx="310.78" cy="120.75" r="0.3" fill="#e8e080" opacity="0.9"/>
<circle cx="312.05" cy="117.29" r="0.3" fill="#e8e080" opacity="0.9"/>
<circle cx="311.09" cy="130.17" r="0.3" fill="#e8e080" opacity="0.9"/>
<circle cx="311.78" cy="119.8" r="0.3" fill="#e8e080" opacity="0.9"/>
<circle cx="312.35" cy="130.27" r="0.3" fill="#e8e080" opacity="0.9"/>
<circle cx="312.07" cy="119.52" r="0.3" fill="#e8e080" opacity="0.9"/>
<circle cx="311.98" cy="130.02" r="0.3" fill="#e8e080" opacity="0.9"/>
<circle cx="310.87" cy="122.03" r="0.3" fill="#e8e080" opacity="0.9"/>
<circle cx="311.14" cy="129.94" r="0.3" fill="#e8e080" opacity="0.9"/>
<circle cx="311.6" cy="122.7" r="0.3" fill="#e8e080" opacity="0.9"/>
<circle cx="312.16" cy="122.71" r="0.3" fill="#e8e080" opacity="0.9"/>
<circle cx="310.58" cy="120.65" r="0.3" fill="#e8e080" opacity="0.9"/>
<circle cx="311.76" cy="125.84" r="0.3" fill="#e8e080" opacity="0.9"/>
<circle cx="311.91" cy="129.86" r="0.3" fill="#e8e080" opacity="0.9"/>
<circle cx="312.39" cy="131.21" r="0.3" fill="#e8e080" opacity="0.9"/>
<circle cx="311.5" cy="124.69" r="0.3" fill="#e8e080" opacity="0.9"/>
<circle cx="311.1" cy="119.35" r="0.3" fill="#e8e080" opacity="0.9"/>
<circle cx="310.66" cy="126.07" r="0.3" fill="#e8e080" opacity="0.9"/>
<circle cx="310.83" cy="127.77" r="0.3" fill="#e8e080" opacity="0.9"/>
<circle cx="312.44" cy="123.88" r="0.3" fill="#e8e080" opacity="0.9"/>
<circle cx="310.58" cy="118.27" r="0.3" fill="#e8e080" opacity="0.9"/>
<circle cx="310.88" cy="123.82" r="0.3" fill="#e8e080" opacity="0.9"/>
<rect x="310.5" y="121.93" width="2" height="4.76" fill="#e8e080" opacity="0.6"/>
<rect x="310.5" y="121.93" width="2" height="4.76" fill="none" stroke="#b8b040" stroke-width="0.25"/>
<line x1="310.5" y1="124.31" x2="312.5" y2="124.31" stroke="#b8b040" stroke-width="0.3" />
<text x="311.5" y="135.1" font-size="1.3" fill="#999" text-anchor="middle" font-family="'Liberation Sans', Arial, sans-serif" >II</text>
<rect x="316.93" y="117.28" width="1.8" height="15.71" fill="#86dcc8" opacity="0.3"/>
<circle cx="318.54" cy="130.49" r="0.3" fill="#86dcc8" opacity="0.9"/>
<circle cx="317.68" cy="129.65" r="0.3" fill="#86dcc8" opacity="0.9"/>
<circle cx="318.16" cy="121.73" r="0.3" fill="#86dcc8" opacity="0.9"/>
<circle cx="317.68" cy="125.37" r="0.3" fill="#86dcc8" opacity="0.9"/>
<circle cx="317.71" cy="122.61" r="0.3" fill="#86dcc8" opacity="0.9"/>
<circle cx="318.49" cy="127.75" r="0.3" fill="#86dcc8" opacity="0.9"/>
<circle cx="317.16" cy="131.49" r="0.3" fill="#86dcc8" opacity="0.9"/>
<circle cx="317.72" cy="121.93" r="0.3" fill="#86dcc8" opacity="0.9"/>
<circle cx="317.53" cy="126.14" r="0.3" fill="#86dcc8" opacity="0.9"/>
<circle cx="317" cy="120.35" r="0.3" fill="#86dcc8" opacity="0.9"/>
<circle cx="317.75" cy="122.37" r="0.3" fill="#86dcc8" opacity="0.9"/>
<circle cx="318.65" cy="132.54" r="0.3" fill="#86dcc8" opacity="0.9"/>
<circle cx="318.78" cy="130.88" r="0.3" fill="#86dcc8" opacity="0.9"/>
<circle cx="318.07" cy="132.4" r="0.3" fill="#86dcc8" opacity="0.9"/>
<circle cx="316.95" cy="130.03" r="0.3" fill="#86dcc8" opacity="0.9"/>
<circle cx="318.05" cy="127.91" r="0.3" fill="#86dcc8" opacity="0.9"/>
<circle cx="317.98" cy="121.95" r="0.3" fill="#86dcc8" opacity="0.9"/>
<circle cx="317.79" cy="132.25" r="0.3" fill="#86dcc8" opacity="0.9"/>
<circle cx="317.43" cy="127.46" r="0.3" fill="#86dcc8" opacity="0.9"/>
<circle cx="318.6" cy="122.68" r="0.3" fill="#86dcc8" opacity="0.9"/>
<circle cx="317.21" cy="117.72" r="0.3" fill="#86dcc8" opacity="0.9"/>
<circle cx="317.73" cy="127.95" r="0.3" fill="#86dcc8" opacity="0.9"/>
<circle cx="318.15" cy="118.62" r="0.3" fill="#86dcc8" opacity="0.9"/>
<circle cx="317.99" cy="123.13" r="0.3" fill="#86dcc8" opacity="0.9"/>
<circle cx="317.89" cy="123.83" r="0.3" fill="#86dcc8" opacity="0.9"/>
<circle cx="317.63" cy="126.16" r="0.3" fill="#86dcc8" opacity="0.9"/>
<rect x="316.83" y="122.31" width="2" height="4.71" fill="#86dcc8" opacity="0.6"/>
<rect x="316.83" y="122.31" width="2" height="4.71" fill="none" stroke="#3aa888" stroke-width="0.25"/>
<line x1="316.83" y1="124.67" x2="318.83" y2="124.67" stroke="#3aa888" stroke-width="0.3" />
<text x="317.83" y="135.1" font-size="1.3" fill="#999" text-anchor="middle" font-family="'Liberation Sans', Arial, sans-serif" >III</text>
<text x="335.5" y="113.8" font-size="1.3" fill="#999" text-anchor="middle" font-family="'Liberation Sans', Arial, sans-serif" >Kruskal-Wallis, p = 0.0</text>
<text x="335.5" y="115.8" font-size="1.2" fill="#aaa" text-anchor="middle" font-family="'Liberation Sans', Arial, sans-serif" >Stage  I  II  III  IV</text>
<line x1="325" y1="116.7" x2="325" y2="133.5" stroke="#999" stroke-width="0.3" />
<text x="324.7" y="118.2" font-size="1.2" fill="#999" text-anchor="end" font-family="'Liberation Sans', Arial, sans-serif" >8</text>
<text x="324.7" y="122.7" font-size="1.2" fill="#999" text-anchor="end" font-family="'Liberation Sans', Arial, sans-serif" >6</text>
<text x="324.7" y="127.2" font-size="1.2" fill="#999" text-anchor="end" font-family="'Liberation Sans', Arial, sans-serif" >4</text>
<text x="324.7" y="131.7" font-size="1.2" fill="#999" text-anchor="end" font-family="'Liberation Sans', Arial, sans-serif" >2</text>
<line x1="325" y1="133.5" x2="347.5" y2="133.5" stroke="#aaa" stroke-width="0.3" />
<rect x="327.2" y="116.37" width="1.8" height="16.36" fill="#c0c0c0" opacity="0.3"/>
<circle cx="328.2" cy="130.93" r="0.3" fill="#c0c0c0" opacity="0.9"/>
<circle cx="328.82" cy="118.21" r="0.3" fill="#c0c0c0" opacity="0.9"/>
<circle cx="327.29" cy="120.52" r="0.3" fill="#c0c0c0" opacity="0.9"/>
<circle cx="327.6" cy="125.05" r="0.3" fill="#c0c0c0" opacity="0.9"/>
<circle cx="328.21" cy="124.37" r="0.3" fill="#c0c0c0" opacity="0.9"/>
<circle cx="328.25" cy="120.08" r="0.3" fill="#c0c0c0" opacity="0.9"/>
<circle cx="328.13" cy="118.22" r="0.3" fill="#c0c0c0" opacity="0.9"/>
<circle cx="327.26" cy="126" r="0.3" fill="#c0c0c0" opacity="0.9"/>
<circle cx="327.25" cy="123.05" r="0.3" fill="#c0c0c0" opacity="0.9"/>
<circle cx="328.83" cy="123.56" r="0.3" fill="#c0c0c0" opacity="0.9"/>
<circle cx="328.53" cy="125.38" r="0.3" fill="#c0c0c0" opacity="0.9"/>
<circle cx="327.33" cy="128.75" r="0.3" fill="#c0c0c0" opacity="0.9"/>
<circle cx="328.54" cy="132.58" r="0.3" fill="#c0c0c0" opacity="0.9"/>
<circle cx="328.76" cy="118.04" r="0.3" fill="#c0c0c0" opacity="0.9"/>
<circle cx="327.44" cy="122.78" r="0.3" fill="#c0c0c0" opacity="0.9"/>
<circle cx="328.23" cy="132.08" r="0.3" fill="#c0c0c0" opacity="0.9"/>
<circle cx="327.37" cy="129.05" r="0.3" fill="#c0c0c0" opacity="0.9"/>
<circle cx="327.22" cy="129.07" r="0.3" fill="#c0c0c0" opacity="0.9"/>
<circle cx="327.84" cy="120.25" r="0.3" fill="#c0c0c0" opacity="0.9"/>
<circle cx="328.29" cy="116.62" r="0.3" fill="#c0c0c0" opacity="0.9"/>
<circle cx="327.7" cy="119.86" r="0.3" fill="#c0c0c0" opacity="0.9"/>
<circle cx="327.95" cy="127.94" r="0.3" fill="#c0c0c0" opacity="0.9"/>
<circle cx="328.34" cy="130.91" r="0.3" fill="#c0c0c0" opacity="0.9"/>
<circle cx="328.23" cy="130.64" r="0.3" fill="#c0c0c0" opacity="0.9"/>
<circle cx="328.84" cy="131.38" r="0.3" fill="#c0c0c0" opacity="0.9"/>
<circle cx="328.59" cy="119.12" r="0.3" fill="#c0c0c0" opacity="0.9"/>
<rect x="327.1" y="121.61" width="2" height="4.91" fill="#c0c0c0" opacity="0.6"/>
<rect x="327.1" y="121.61" width="2" height="4.91" fill="none" stroke="#888" stroke-width="0.25"/>
<line x1="327.1" y1="124.06" x2="329.1" y2="124.06" stroke="#888" stroke-width="0.3" />
<text x="328.1" y="135.1" font-size="1.3" fill="#999" text-anchor="middle" font-family="'Liberation Sans', Arial, sans-serif" >I</text>
<rect x="331.4" y="116.71" width="1.8" height="15.14" fill="#f7a3a3" opacity="0.3"/>
<circle cx="332.95" cy="127.02" r="0.3" fill="#f7a3a3" opacity="0.9"/>
<circle cx="332.05" cy="118.57" r="0.3" fill="#f7a3a3" opacity="0.9"/>
<circle cx="333.2" cy="127.88" r="0.3" fill="#f7a3a3" opacity="0.9"/>
<circle cx="331.39" cy="127.64" r="0.3" fill="#f7a3a3" opacity="0.9"/>
<circle cx="331.5" cy="125.86" r="0.3" fill="#f7a3a3" opacity="0.9"/>
<circle cx="332.91" cy="125.02" r="0.3" fill="#f7a3a3" opacity="0.9"/>
<circle cx="333.15" cy="118.42" r="0.3" fill="#f7a3a3" opacity="0.9"/>
<circle cx="331.81" cy="126.94" r="0.3" fill="#f7a3a3" opacity="0.9"/>
<circle cx="332.19" cy="119.64" r="0.3" fill="#f7a3a3" opacity="0.9"/>
<circle cx="332.46" cy="129.4" r="0.3" fill="#f7a3a3" opacity="0.9"/>
<circle cx="331.34" cy="118.43" r="0.3" fill="#f7a3a3" opacity="0.9"/>
<circle cx="332.9" cy="118.38" r="0.3" fill="#f7a3a3" opacity="0.9"/>
<circle cx="332.41" cy="119.52" r="0.3" fill="#f7a3a3" opacity="0.9"/>
<circle cx="332.67" cy="121.1" r="0.3" fill="#f7a3a3" opacity="0.9"/>
<circle cx="331.59" cy="122.48" r="0.3" fill="#f7a3a3" opacity="0.9"/>
<circle cx="332.38" cy="129.97" r="0.3" fill="#f7a3a3" opacity="0.9"/>
<circle cx="332.92" cy="127.15" r="0.3" fill="#f7a3a3" opacity="0.9"/>
<circle cx="331.33" cy="131.08" r="0.3" fill="#f7a3a3" opacity="0.9"/>
<circle cx="331.6" cy="121.9" r="0.3" fill="#f7a3a3" opacity="0.9"/>
<circle cx="333.05" cy="124.31" r="0.3" fill="#f7a3a3" opacity="0.9"/>
<circle cx="331.37" cy="128.83" r="0.3" fill="#f7a3a3" opacity="0.9"/>
<circle cx="332.94" cy="119.47" r="0.3" fill="#f7a3a3" opacity="0.9"/>
<circle cx="332.09" cy="127" r="0.3" fill="#f7a3a3" opacity="0.9"/>
<circle cx="331.62" cy="123.92" r="0.3" fill="#f7a3a3" opacity="0.9"/>
<circle cx="332.09" cy="129.51" r="0.3" fill="#f7a3a3" opacity="0.9"/>
<circle cx="332.52" cy="129.93" r="0.3" fill="#f7a3a3" opacity="0.9"/>
<rect x="331.3" y="121.56" width="2" height="4.54" fill="#f7a3a3" opacity="0.6"/>
<rect x="331.3" y="121.56" width="2" height="4.54" fill="none" stroke="#e36a6a" stroke-width="0.25"/>
<line x1="331.3" y1="123.83" x2="333.3" y2="123.83" stroke="#e36a6a" stroke-width="0.3" />
<text x="332.3" y="135.1" font-size="1.3" fill="#999" text-anchor="middle" font-family="'Liberation Sans', Arial, sans-serif" >II</text>
<rect x="335.6" y="116.31" width="1.8" height="16.19" fill="#d8e37a" opacity="0.3"/>
<circle cx="337.29" cy="119.82" r="0.3" fill="#d8e37a" opacity="0.9"/>
<circle cx="335.59" cy="125.85" r="0.3" fill="#d8e37a" opacity="0.9"/>
<circle cx="336.22" cy="119.06" r="0.3" fill="#d8e37a" opacity="0.9"/>
<circle cx="336.65" cy="123.89" r="0.3" fill="#d8e37a" opacity="0.9"/>
<circle cx="336.21" cy="122.59" r="0.3" fill="#d8e37a" opacity="0.9"/>
<circle cx="336.66" cy="116.41" r="0.3" fill="#d8e37a" opacity="0.9"/>
<circle cx="335.54" cy="121.72" r="0.3" fill="#d8e37a" opacity="0.9"/>
<circle cx="337.47" cy="123.75" r="0.3" fill="#d8e37a" opacity="0.9"/>
<circle cx="335.79" cy="117.05" r="0.3" fill="#d8e37a" opacity="0.9"/>
<circle cx="336.05" cy="127.18" r="0.3" fill="#d8e37a" opacity="0.9"/>
<circle cx="336.5" cy="120.74" r="0.3" fill="#d8e37a" opacity="0.9"/>
<circle cx="336.64" cy="120.56" r="0.3" fill="#d8e37a" opacity="0.9"/>
<circle cx="337.41" cy="124.87" r="0.3" fill="#d8e37a" opacity="0.9"/>
<circle cx="335.57" cy="132.38" r="0.3" fill="#d8e37a" opacity="0.9"/>
<circle cx="337.04" cy="125.39" r="0.3" fill="#d8e37a" opacity="0.9"/>
<circle cx="337.05" cy="130.44" r="0.3" fill="#d8e37a" opacity="0.9"/>
<circle cx="336.77" cy="126.57" r="0.3" fill="#d8e37a" opacity="0.9"/>
<circle cx="336.06" cy="122.19" r="0.3" fill="#d8e37a" opacity="0.9"/>
<circle cx="337.25" cy="129.19" r="0.3" fill="#d8e37a" opacity="0.9"/>
<circle cx="336.86" cy="131.51" r="0.3" fill="#d8e37a" opacity="0.9"/>
<circle cx="337.03" cy="121.24" r="0.3" fill="#d8e37a" opacity="0.9"/>
<circle cx="336.52" cy="128.29" r="0.3" fill="#d8e37a" opacity="0.9"/>
<circle cx="336.2" cy="126.6" r="0.3" fill="#d8e37a" opacity="0.9"/>
<circle cx="336.31" cy="125.23" r="0.3" fill="#d8e37a" opacity="0.9"/>
<circle cx="336.17" cy="117.29" r="0.3" fill="#d8e37a" opacity="0.9"/>
<circle cx="337.48" cy="121.55" r="0.3" fill="#d8e37a" opacity="0.9"/>
<rect x="335.5" y="121.5" width="2" height="4.86" fill="#d8e37a" opacity="0.6"/>
<rect x="335.5" y="121.5" width="2" height="4.86" fill="none" stroke="#a7b83a" stroke-width="0.25"/>
<line x1="335.5" y1="123.92" x2="337.5" y2="123.92" stroke="#a7b83a" stroke-width="0.3" />
<text x="336.5" y="135.1" font-size="1.3" fill="#999" text-anchor="middle" font-family="'Liberation Sans', Arial, sans-serif" >III</text>
<rect x="339.8" y="116.92" width="1.8" height="15.53" fill="#86dcc8" opacity="0.3"/>
<circle cx="340.17" cy="120.7" r="0.3" fill="#86dcc8" opacity="0.9"/>
<circle cx="339.97" cy="122.34" r="0.3" fill="#86dcc8" opacity="0.9"/>
<circle cx="341.44" cy="117.03" r="0.3" fill="#86dcc8" opacity="0.9"/>
<circle cx="340.59" cy="123.96" r="0.3" fill="#86dcc8" opacity="0.9"/>
<circle cx="340.3" cy="125.75" r="0.3" fill="#86dcc8" opacity="0.9"/>
<circle cx="339.83" cy="119.54" r="0.3" fill="#86dcc8" opacity="0.9"/>
<circle cx="340.32" cy="121.6" r="0.3" fill="#86dcc8" opacity="0.9"/>
<circle cx="340.8" cy="128.2" r="0.3" fill="#86dcc8" opacity="0.9"/>
<circle cx="340.38" cy="131.48" r="0.3" fill="#86dcc8" opacity="0.9"/>
<circle cx="340.87" cy="131.23" r="0.3" fill="#86dcc8" opacity="0.9"/>
<circle cx="340.06" cy="118.16" r="0.3" fill="#86dcc8" opacity="0.9"/>
<circle cx="341.67" cy="125.94" r="0.3" fill="#86dcc8" opacity="0.9"/>
<circle cx="341.25" cy="122.46" r="0.3" fill="#86dcc8" opacity="0.9"/>
<circle cx="341.44" cy="123.57" r="0.3" fill="#86dcc8" opacity="0.9"/>
<circle cx="340.67" cy="117.97" r="0.3" fill="#86dcc8" opacity="0.9"/>
<circle cx="340.25" cy="130.88" r="0.3" fill="#86dcc8" opacity="0.9"/>
<circle cx="339.75" cy="120.92" r="0.3" fill="#86dcc8" opacity="0.9"/>
<circle cx="340.24" cy="119.48" r="0.3" fill="#86dcc8" opacity="0.9"/>
<circle cx="340.14" cy="127.86" r="0.3" fill="#86dcc8" opacity="0.9"/>
<circle cx="340.1" cy="123.13" r="0.3" fill="#86dcc8" opacity="0.9"/>
<circle cx="341.43" cy="126.28" r="0.3" fill="#86dcc8" opacity="0.9"/>
<circle cx="340.09" cy="126.99" r="0.3" fill="#86dcc8" opacity="0.9"/>
<circle cx="341.63" cy="128.32" r="0.3" fill="#86dcc8" opacity="0.9"/>
<circle cx="339.86" cy="126.25" r="0.3" fill="#86dcc8" opacity="0.9"/>
<circle cx="341.45" cy="129.49" r="0.3" fill="#86dcc8" opacity="0.9"/>
<circle cx="339.97" cy="122.22" r="0.3" fill="#86dcc8" opacity="0.9"/>
<rect x="339.7" y="121.89" width="2" height="4.66" fill="#86dcc8" opacity="0.6"/>
<rect x="339.7" y="121.89" width="2" height="4.66" fill="none" stroke="#3aa888" stroke-width="0.25"/>
<line x1="339.7" y1="124.22" x2="341.7" y2="124.22" stroke="#3aa888" stroke-width="0.3" />
<text x="340.7" y="135.1" font-size="1.3" fill="#999" text-anchor="middle" font-family="'Liberation Sans', Arial, sans-serif" >IV</text>
<rect x="344" y="116.48" width="1.8" height="15.71" fill="#e2a8f0" opacity="0.3"/>
<circle cx="345.18" cy="130.24" r="0.3" fill="#e2a8f0" opacity="0.9"/>
<circle cx="344.32" cy="130.98" r="0.3" fill="#e2a8f0" opacity="0.9"/>
<circle cx="345.4" cy="121.62" r="0.3" fill="#e2a8f0" opacity="0.9"/>
<circle cx="344.71" cy="126.68" r="0.3" fill="#e2a8f0" opacity="0.9"/>
<circle cx="344.58" cy="127.15" r="0.3" fill="#e2a8f0" opacity="0.9"/>
<circle cx="344.73" cy="117.38" r="0.3" fill="#e2a8f0" opacity="0.9"/>
<circle cx="345.15" cy="117.2" r="0.3" fill="#e2a8f0" opacity="0.9"/>
<circle cx="344.89" cy="121.74" r="0.3" fill="#e2a8f0" opacity="0.9"/>
<circle cx="344.41" cy="125.88" r="0.3" fill="#e2a8f0" opacity="0.9"/>
<circle cx="343.93" cy="123.76" r="0.3" fill="#e2a8f0" opacity="0.9"/>
<circle cx="345.03" cy="131.02" r="0.3" fill="#e2a8f0" opacity="0.9"/>
<circle cx="344.01" cy="132" r="0.3" fill="#e2a8f0" opacity="0.9"/>
<circle cx="345.35" cy="126.13" r="0.3" fill="#e2a8f0" opacity="0.9"/>
<circle cx="344.09" cy="121.65" r="0.3" fill="#e2a8f0" opacity="0.9"/>
<circle cx="344.19" cy="118.94" r="0.3" fill="#e2a8f0" opacity="0.9"/>
<circle cx="344.08" cy="128.54" r="0.3" fill="#e2a8f0" opacity="0.9"/>
<circle cx="344.75" cy="129.27" r="0.3" fill="#e2a8f0" opacity="0.9"/>
<circle cx="345.08" cy="124.95" r="0.3" fill="#e2a8f0" opacity="0.9"/>
<circle cx="345.21" cy="125.2" r="0.3" fill="#e2a8f0" opacity="0.9"/>
<circle cx="344.56" cy="125.93" r="0.3" fill="#e2a8f0" opacity="0.9"/>
<circle cx="344.42" cy="128.13" r="0.3" fill="#e2a8f0" opacity="0.9"/>
<circle cx="345.43" cy="127.66" r="0.3" fill="#e2a8f0" opacity="0.9"/>
<circle cx="344.52" cy="128.67" r="0.3" fill="#e2a8f0" opacity="0.9"/>
<circle cx="345.85" cy="128.62" r="0.3" fill="#e2a8f0" opacity="0.9"/>
<circle cx="344.46" cy="123.6" r="0.3" fill="#e2a8f0" opacity="0.9"/>
<circle cx="345.78" cy="124.7" r="0.3" fill="#e2a8f0" opacity="0.9"/>
<rect x="343.9" y="121.51" width="2" height="4.71" fill="#e2a8f0" opacity="0.6"/>
<rect x="343.9" y="121.51" width="2" height="4.71" fill="none" stroke="#b86ad0" stroke-width="0.25"/>
<line x1="343.9" y1="123.87" x2="345.9" y2="123.87" stroke="#b86ad0" stroke-width="0.3" />
<text x="344.9" y="135.1" font-size="1.3" fill="#999" text-anchor="middle" font-family="'Liberation Sans', Arial, sans-serif" >NA</text>
<text x="265" y="162.3" font-size="1.4" fill="#999" text-anchor="middle" font-family="'Liberation Sans', Arial, sans-serif" >CIBERSORT immune cell infiltration</text>
<line x1="234" y1="163" x2="234" y2="192" stroke="#999" stroke-width="0.3" />
<line x1="234" y1="192" x2="299" y2="192" stroke="#999" stroke-width="0.3" />
<line x1="233.3" y1="163" x2="234" y2="163" stroke="#999" stroke-width="0.3" />
<text x="233" y="163.5" font-size="1.2" fill="#aaa" text-anchor="end" font-family="'Liberation Sans', Arial, sans-serif" >0.4</text>
<line x1="233.3" y1="170.25" x2="234" y2="170.25" stroke="#999" stroke-width="0.3" />
<text x="233" y="170.75" font-size="1.2" fill="#aaa" text-anchor="end" font-family="'Liberation Sans', Arial, sans-serif" >0.3</text>
<line x1="233.3" y1="177.5" x2="234" y2="177.5" stroke="#999" stroke-width="0.3" />
<text x="233" y="178" font-size="1.2" fill="#aaa" text-anchor="end" font-family="'Liberation Sans', Arial, sans-serif" >0.2</text>
<line x1="233.3" y1="184.75" x2="234" y2="184.75" stroke="#999" stroke-width="0.3" />
<text x="233" y="185.25" font-size="1.2" fill="#aaa" text-anchor="end" font-family="'Liberation Sans', Arial, sans-serif" >0.1</text>
<line x1="233.3" y1="192" x2="234" y2="192" stroke="#999" stroke-width="0.3" />
<text x="233" y="192.5" font-size="1.2" fill="#aaa" text-anchor="end" font-family="'Liberation Sans', Arial, sans-serif" >0.0</text>
<path d="M235.5,192 C235.89,178 236.6,166 236.8,164 C237,166 237.71,178 238.1,192 Z" fill="#8fdc8f" />
<path d="M236.45,192 L236.8,165.5 L237.15,192 Z" fill="#3d7d3d" />
<line x1="236.8" y1="162.5" x2="236.8" y2="164" stroke="#aaa" stroke-width="0.2" />
<line x1="236.3" y1="162.5" x2="237.3" y2="162.5" stroke="#aaa" stroke-width="0.2" />
<path d="M238.2,192 C238.5,188.5 239,187 239.2,185 C239.4,187 239.9,188.5 240.2,192 Z" fill="#f4a0a0" />
<path d="M238.85,192 L239.2,186.5 L239.55,192 Z" fill="#d06060" />
<line x1="239.2" y1="183.5" x2="239.2" y2="185" stroke="#aaa" stroke-width="0.2" />
<line x1="238.7" y1="183.5" x2="239.7" y2="183.5" stroke="#aaa" stroke-width="0.2" />
<path d="M240.1,192 C240.37,189.5 240.8,189 241,187 C241.2,189 241.63,189.5 241.9,192 Z" fill="#8fdc8f" />
<path d="M240.65,192 L241,188.5 L241.35,192 Z" fill="#6a9a6a" />
<line x1="241" y1="185.5" x2="241" y2="187" stroke="#aaa" stroke-width="0.2" />
<line x1="240.5" y1="185.5" x2="241.5" y2="185.5" stroke="#aaa" stroke-width="0.2" />
<path d="M244.2,192 C244.59,181.75 245.3,173.5 245.5,171.5 C245.7,173.5 246.41,181.75 246.8,192 Z" fill="#8fdc8f" />
<path d="M245.15,192 L245.5,173 L245.85,192 Z" fill="#2e5a2e" />
<line x1="245.5" y1="170" x2="245.5" y2="171.5" stroke="#aaa" stroke-width="0.2" />
<line x1="245" y1="170" x2="246" y2="170" stroke="#aaa" stroke-width="0.2" />
<path d="M246.5,192 C246.83,185 247.4,180 247.6,178 C247.8,180 248.37,185 248.7,192 Z" fill="#f4a0a0" />
<path d="M247.25,192 L247.6,179.5 L247.95,192 Z" fill="#b05050" />
<line x1="247.6" y1="176.5" x2="247.6" y2="178" stroke="#aaa" stroke-width="0.2" />
<line x1="247.1" y1="176.5" x2="248.1" y2="176.5" stroke="#aaa" stroke-width="0.2" />
<path d="M248.9,192 C249.17,188.5 249.6,187 249.8,185 C250,187 250.43,188.5 250.7,192 Z" fill="#c6ebc6" />
<path d="M249.45,192 L249.8,186.5 L250.15,192 Z" fill="#7a9a7a" />
<line x1="249.8" y1="183.5" x2="249.8" y2="185" stroke="#aaa" stroke-width="0.2" />
<line x1="249.3" y1="183.5" x2="250.3" y2="183.5" stroke="#aaa" stroke-width="0.2" />
<path d="M253.2,192 C253.59,182.5 254.3,175 254.5,173 C254.7,175 255.41,182.5 255.8,192 Z" fill="#e6b0a0" />
<path d="M254.15,192 L254.5,174.5 L254.85,192 Z" fill="#5a3a2a" />
<line x1="254.5" y1="171.5" x2="254.5" y2="173" stroke="#aaa" stroke-width="0.2" />
<line x1="254" y1="171.5" x2="255" y2="171.5" stroke="#aaa" stroke-width="0.2" />
<path d="M255.8,192 C256.16,182 256.8,174 257,172 C257.2,174 257.84,182 258.2,192 Z" fill="#8fdc8f" />
<path d="M256.65,192 L257,173.5 L257.35,192 Z" fill="#4a6a2a" />
<line x1="257" y1="170.5" x2="257" y2="172" stroke="#aaa" stroke-width="0.2" />
<line x1="256.5" y1="170.5" x2="257.5" y2="170.5" stroke="#aaa" stroke-width="0.2" />
<path d="M258.3,192 C258.57,187.5 259,185 259.2,183 C259.4,185 259.83,187.5 260.1,192 Z" fill="#f4a0a0" />
<path d="M258.85,192 L259.2,184.5 L259.55,192 Z" fill="#c06060" />
<line x1="259.2" y1="181.5" x2="259.2" y2="183" stroke="#aaa" stroke-width="0.2" />
<line x1="258.7" y1="181.5" x2="259.7" y2="181.5" stroke="#aaa" stroke-width="0.2" />
<path d="M261.4,192 C261.82,181.2 262.6,172.4 262.8,170.4 C263,172.4 263.78,181.2 264.2,192 Z" fill="#c8dca0" />
<path d="M262.45,192 L262.8,171.9 L263.15,192 Z" fill="#5a5224" />
<line x1="262.8" y1="168.9" x2="262.8" y2="170.4" stroke="#aaa" stroke-width="0.2" />
<line x1="262.3" y1="168.9" x2="263.3" y2="168.9" stroke="#aaa" stroke-width="0.2" />
<path d="M264.2,192 C264.5,187 265,184 265.2,182 C265.4,184 265.9,187 266.2,192 Z" fill="#f4a0a0" />
<path d="M264.85,192 L265.2,183.5 L265.55,192 Z" fill="#c06a6a" />
<line x1="265.2" y1="180.5" x2="265.2" y2="182" stroke="#aaa" stroke-width="0.2" />
<line x1="264.7" y1="180.5" x2="265.7" y2="180.5" stroke="#aaa" stroke-width="0.2" />
<path d="M266.6,192 C266.87,186.5 267.3,183 267.5,181 C267.7,183 268.13,186.5 268.4,192 Z" fill="#cdeccd" />
<path d="M267.15,192 L267.5,182.5 L267.85,192 Z" fill="#8aaa8a" />
<line x1="267.5" y1="179.5" x2="267.5" y2="181" stroke="#aaa" stroke-width="0.2" />
<line x1="267" y1="179.5" x2="268" y2="179.5" stroke="#aaa" stroke-width="0.2" />
<path d="M272.8,192 C273.25,179.2 274.1,168.4 274.3,166.4 C274.5,168.4 275.35,179.2 275.8,192 Z" fill="#9fdc9f" />
<path d="M273.95,192 L274.3,167.9 L274.65,192 Z" fill="#2a2a2a" />
<line x1="274.3" y1="164.9" x2="274.3" y2="166.4" stroke="#aaa" stroke-width="0.2" />
<line x1="273.8" y1="164.9" x2="274.8" y2="164.9" stroke="#aaa" stroke-width="0.2" />
<path d="M274.7,192 C275.03,184 275.6,178 275.8,176 C276,178 276.57,184 276.9,192 Z" fill="#f09090" />
<path d="M275.45,192 L275.8,177.5 L276.15,192 Z" fill="#c83030" />
<line x1="275.8" y1="174.5" x2="275.8" y2="176" stroke="#aaa" stroke-width="0.2" />
<line x1="275.3" y1="174.5" x2="276.3" y2="174.5" stroke="#aaa" stroke-width="0.2" />
<path d="M276.7,192 C277.03,184.5 277.6,179 277.8,177 C278,179 278.57,184.5 278.9,192 Z" fill="#d0d0d0" />
<path d="M277.45,192 L277.8,178.5 L278.15,192 Z" fill="#333" />
<line x1="277.8" y1="175.5" x2="277.8" y2="177" stroke="#aaa" stroke-width="0.2" />
<line x1="277.3" y1="175.5" x2="278.3" y2="175.5" stroke="#aaa" stroke-width="0.2" />
<path d="M279.1,192 C279.43,185 280,180 280.2,178 C280.4,180 280.97,185 281.3,192 Z" fill="#8fdc8f" />
<path d="M279.85,192 L280.2,179.5 L280.55,192 Z" fill="#5a8a5a" />
<line x1="280.2" y1="176.5" x2="280.2" y2="178" stroke="#aaa" stroke-width="0.2" />
<line x1="279.7" y1="176.5" x2="280.7" y2="176.5" stroke="#aaa" stroke-width="0.2" />
<path d="M282.3,192 C282.57,189 283,188 283.2,186 C283.4,188 283.83,189 284.1,192 Z" fill="#e0e0e0" />
<path d="M282.85,192 L283.2,187.5 L283.55,192 Z" fill="#666" />
<line x1="283.2" y1="184.5" x2="283.2" y2="186" stroke="#aaa" stroke-width="0.2" />
<line x1="282.7" y1="184.5" x2="283.7" y2="184.5" stroke="#aaa" stroke-width="0.2" />
<path d="M286.1,192 C286.37,189.5 286.8,189 287,187 C287.2,189 287.63,189.5 287.9,192 Z" fill="#e6e6e6" />
<path d="M286.65,192 L287,188.5 L287.35,192 Z" fill="#777" />
<line x1="287" y1="185.5" x2="287" y2="187" stroke="#aaa" stroke-width="0.2" />
<line x1="286.5" y1="185.5" x2="287.5" y2="185.5" stroke="#aaa" stroke-width="0.2" />
<path d="M289.1,192 C289.37,189 289.8,188 290,186 C290.2,188 290.63,189 290.9,192 Z" fill="#e0e0e0" />
<path d="M289.65,192 L290,187.5 L290.35,192 Z" fill="#666" />
<line x1="290" y1="184.5" x2="290" y2="186" stroke="#aaa" stroke-width="0.2" />
<line x1="289.5" y1="184.5" x2="290.5" y2="184.5" stroke="#aaa" stroke-width="0.2" />
<path d="M291.7,192 C291.97,189.5 292.4,189 292.6,187 C292.8,189 293.23,189.5 293.5,192 Z" fill="#e6e6e6" />
<path d="M292.25,192 L292.6,188.5 L292.95,192 Z" fill="#777" />
<line x1="292.6" y1="185.5" x2="292.6" y2="187" stroke="#aaa" stroke-width="0.2" />
<line x1="292.1" y1="185.5" x2="293.1" y2="185.5" stroke="#aaa" stroke-width="0.2" />
<path d="M294.3,192 C294.57,189 295,188 295.2,186 C295.4,188 295.83,189 296.1,192 Z" fill="#e0e0e0" />
<path d="M294.85,192 L295.2,187.5 L295.55,192 Z" fill="#777" />
<line x1="295.2" y1="184.5" x2="295.2" y2="186" stroke="#aaa" stroke-width="0.2" />
<line x1="294.7" y1="184.5" x2="295.7" y2="184.5" stroke="#aaa" stroke-width="0.2" />
<path d="M296.8,192 C297.04,190.5 297.4,191 297.6,189 C297.8,191 298.16,190.5 298.4,192 Z" fill="#e6e6e6" />
<path d="M297.25,192 L297.6,190.5 L297.95,192 Z" fill="#888" />
<line x1="297.6" y1="187.5" x2="297.6" y2="189" stroke="#aaa" stroke-width="0.2" />
<line x1="297.1" y1="187.5" x2="298.1" y2="187.5" stroke="#aaa" stroke-width="0.2" />
<text x="237.5" y="160.8" font-size="1.3" fill="#666" text-anchor="middle" font-family="'Liberation Sans', Arial, sans-serif" >***</text>
<text x="246" y="167.8" font-size="1.3" fill="#666" text-anchor="middle" font-family="'Liberation Sans', Arial, sans-serif" >***</text>
<text x="255" y="169.8" font-size="1.3" fill="#666" text-anchor="middle" font-family="'Liberation Sans', Arial, sans-serif" >***</text>
<text x="263.5" y="166.8" font-size="1.3" fill="#666" text-anchor="middle" font-family="'Liberation Sans', Arial, sans-serif" >***</text>
<text x="274.5" y="162.8" font-size="1.3" fill="#666" text-anchor="middle" font-family="'Liberation Sans', Arial, sans-serif" >***</text>
<line x1="283" y1="183.5" x2="292" y2="183.5" stroke="#999" stroke-width="0.25" />
<line x1="288" y1="183.5" x2="297" y2="183.5" stroke="#999" stroke-width="0.25" />
<text x="236" y="193.2" font-size="1.7" fill="#666" text-anchor="end" font-family="'Liberation Sans', Arial, sans-serif" transform="rotate(-45 236 193.2)">B cells naive</text>
<text x="238.95" y="193.2" font-size="1.7" fill="#666" text-anchor="end" font-family="'Liberation Sans', Arial, sans-serif" transform="rotate(-45 238.95 193.2)">B cells memory</text>
<text x="241.9" y="193.2" font-size="1.7" fill="#666" text-anchor="end" font-family="'Liberation Sans', Arial, sans-serif" transform="rotate(-45 241.9 193.2)">Plasma cells</text>
<text x="244.85" y="193.2" font-size="1.7" fill="#666" text-anchor="end" font-family="'Liberation Sans', Arial, sans-serif" transform="rotate(-45 244.85 193.2)">T cells CD8</text>
<text x="247.8" y="193.2" font-size="1.7" fill="#666" text-anchor="end" font-family="'Liberation Sans', Arial, sans-serif" transform="rotate(-45 247.8 193.2)">T cells CD4</text>
<text x="250.75" y="193.2" font-size="1.7" fill="#666" text-anchor="end" font-family="'Liberation Sans', Arial, sans-serif" transform="rotate(-45 250.75 193.2)">T cells follicular</text>
<text x="253.7" y="193.2" font-size="1.7" fill="#666" text-anchor="end" font-family="'Liberation Sans', Arial, sans-serif" transform="rotate(-45 253.7 193.2)">Tregs</text>
<text x="256.65" y="193.2" font-size="1.7" fill="#666" text-anchor="end" font-family="'Liberation Sans', Arial, sans-serif" transform="rotate(-45 256.65 193.2)">T cells gamma</text>
<text x="259.6" y="193.2" font-size="1.7" fill="#666" text-anchor="end" font-family="'Liberation Sans', Arial, sans-serif" transform="rotate(-45 259.6 193.2)">NK resting</text>
<text x="262.55" y="193.2" font-size="1.7" fill="#666" text-anchor="end" font-family="'Liberation Sans', Arial, sans-serif" transform="rotate(-45 262.55 193.2)">NK activated</text>
<text x="265.5" y="193.2" font-size="1.7" fill="#666" text-anchor="end" font-family="'Liberation Sans', Arial, sans-serif" transform="rotate(-45 265.5 193.2)">Monocytes</text>
<text x="268.45" y="193.2" font-size="1.7" fill="#666" text-anchor="end" font-family="'Liberation Sans', Arial, sans-serif" transform="rotate(-45 268.45 193.2)">Macrophages M0</text>
<text x="271.4" y="193.2" font-size="1.7" fill="#666" text-anchor="end" font-family="'Liberation Sans', Arial, sans-serif" transform="rotate(-45 271.4 193.2)">Macrophages M1</text>
<text x="274.35" y="193.2" font-size="1.7" fill="#666" text-anchor="end" font-family="'Liberation Sans', Arial, sans-serif" transform="rotate(-45 274.35 193.2)">Macrophages M2</text>
<text x="277.3" y="193.2" font-size="1.7" fill="#666" text-anchor="end" font-family="'Liberation Sans', Arial, sans-serif" transform="rotate(-45 277.3 193.2)">Dendritic resting</text>
<text x="280.25" y="193.2" font-size="1.7" fill="#666" text-anchor="end" font-family="'Liberation Sans', Arial, sans-serif" transform="rotate(-45 280.25 193.2)">Dendritic act</text>
<text x="283.2" y="193.2" font-size="1.7" fill="#666" text-anchor="end" font-family="'Liberation Sans', Arial, sans-serif" transform="rotate(-45 283.2 193.2)">Mast resting</text>
<text x="286.15" y="193.2" font-size="1.7" fill="#666" text-anchor="end" font-family="'Liberation Sans', Arial, sans-serif" transform="rotate(-45 286.15 193.2)">Mast activated</text>
<text x="289.1" y="193.2" font-size="1.7" fill="#666" text-anchor="end" font-family="'Liberation Sans', Arial, sans-serif" transform="rotate(-45 289.1 193.2)">Eosinophils</text>
<text x="292.05" y="193.2" font-size="1.7" fill="#666" text-anchor="end" font-family="'Liberation Sans', Arial, sans-serif" transform="rotate(-45 292.05 193.2)">Neutrophils</text>
<text x="295" y="193.2" font-size="1.7" fill="#666" text-anchor="end" font-family="'Liberation Sans', Arial, sans-serif" transform="rotate(-45 295 193.2)">CCL8 high</text>
<text x="297.95" y="193.2" font-size="1.7" fill="#666" text-anchor="end" font-family="'Liberation Sans', Arial, sans-serif" transform="rotate(-45 297.95 193.2)">CCL8 low</text>
<rect x="241" y="205.3" width="7.5" height="2.2" fill="#f6dde2"/>
<line x1="234.1" y1="206" x2="234.1" y2="220" stroke="#aaa" stroke-width="0.3" />
<line x1="234.1" y1="220" x2="249" y2="220" stroke="#aaa" stroke-width="0.3" />
<text x="248" y="208" font-size="1.3" fill="#d06a7a" text-anchor="end" font-family="'Liberation Sans', Arial, sans-serif" >R = 0.5, p &lt; 0.001</text>
<circle cx="236.37" cy="213.75" r="0.25" fill="#b5b5c5" opacity="0.7"/>
<circle cx="240.98" cy="213.99" r="0.25" fill="#b5b5c5" opacity="0.7"/>
<circle cx="244.97" cy="209.93" r="0.25" fill="#b5b5c5" opacity="0.7"/>
<circle cx="247.86" cy="207.38" r="0.25" fill="#b5b5c5" opacity="0.7"/>
<circle cx="244.74" cy="208.72" r="0.25" fill="#b5b5c5" opacity="0.7"/>
<circle cx="234.97" cy="215.28" r="0.25" fill="#b5b5c5" opacity="0.7"/>
<circle cx="235.41" cy="216.84" r="0.25" fill="#b5b5c5" opacity="0.7"/>
<circle cx="242.04" cy="210.93" r="0.25" fill="#b5b5c5" opacity="0.7"/>
<circle cx="247.19" cy="208.5" r="0.25" fill="#b5b5c5" opacity="0.7"/>
<circle cx="236.6" cy="214.44" r="0.25" fill="#b5b5c5" opacity="0.7"/>
<circle cx="244.49" cy="213.04" r="0.25" fill="#b5b5c5" opacity="0.7"/>
<circle cx="236.77" cy="213.59" r="0.25" fill="#b5b5c5" opacity="0.7"/>
<circle cx="245.03" cy="209.29" r="0.25" fill="#b5b5c5" opacity="0.7"/>
<circle cx="247.76" cy="208.8" r="0.25" fill="#b5b5c5" opacity="0.7"/>
<circle cx="243.12" cy="211.04" r="0.25" fill="#b5b5c5" opacity="0.7"/>
<circle cx="245.33" cy="210.19" r="0.25" fill="#b5b5c5" opacity="0.7"/>
<circle cx="238.94" cy="216.55" r="0.25" fill="#b5b5c5" opacity="0.7"/>
<circle cx="236.04" cy="217.58" r="0.25" fill="#b5b5c5" opacity="0.7"/>
<circle cx="235.48" cy="217.51" r="0.25" fill="#b5b5c5" opacity="0.7"/>
<circle cx="239.98" cy="215.67" r="0.25" fill="#b5b5c5" opacity="0.7"/>
<circle cx="235.4" cy="217.15" r="0.25" fill="#b5b5c5" opacity="0.7"/>
<circle cx="240.09" cy="215.88" r="0.25" fill="#b5b5c5" opacity="0.7"/>
<circle cx="247.26" cy="209.76" r="0.25" fill="#b5b5c5" opacity="0.7"/>
<circle cx="237.6" cy="214.16" r="0.25" fill="#b5b5c5" opacity="0.7"/>
<circle cx="238.12" cy="214.74" r="0.25" fill="#b5b5c5" opacity="0.7"/>
<path d="M234.6,213 L240.6,216 L248,214" fill="none" stroke="#cdd0d8" stroke-width="1.2" />
<text x="241.3" y="221.3" font-size="1.2" fill="#999" text-anchor="middle" font-family="'Liberation Sans', Arial, sans-serif" >CCL8 expression</text>
<rect x="256.5" y="205.3" width="7.5" height="2.2" fill="#f6dde2"/>
<line x1="249.5" y1="206" x2="249.5" y2="220" stroke="#aaa" stroke-width="0.3" />
<line x1="249.5" y1="220" x2="264.5" y2="220" stroke="#aaa" stroke-width="0.3" />
<text x="263.5" y="208" font-size="1.3" fill="#d06a7a" text-anchor="end" font-family="'Liberation Sans', Arial, sans-serif" >R = 0.5, p &lt; 0.001</text>
<circle cx="253.12" cy="213.86" r="0.25" fill="#b5b5c5" opacity="0.7"/>
<circle cx="260.25" cy="211.46" r="0.25" fill="#b5b5c5" opacity="0.7"/>
<circle cx="254.03" cy="217.23" r="0.25" fill="#b5b5c5" opacity="0.7"/>
<circle cx="252.92" cy="215.82" r="0.25" fill="#b5b5c5" opacity="0.7"/>
<circle cx="252.12" cy="217.81" r="0.25" fill="#b5b5c5" opacity="0.7"/>
<circle cx="261.74" cy="208.62" r="0.25" fill="#b5b5c5" opacity="0.7"/>
<circle cx="260.15" cy="212.42" r="0.25" fill="#b5b5c5" opacity="0.7"/>
<circle cx="253.81" cy="214.05" r="0.25" fill="#b5b5c5" opacity="0.7"/>
<circle cx="256.55" cy="215.08" r="0.25" fill="#b5b5c5" opacity="0.7"/>
<circle cx="252.18" cy="216.86" r="0.25" fill="#b5b5c5" opacity="0.7"/>
<circle cx="258.07" cy="211.92" r="0.25" fill="#b5b5c5" opacity="0.7"/>
<circle cx="257.82" cy="214.22" r="0.25" fill="#b5b5c5" opacity="0.7"/>
<circle cx="252.83" cy="217.45" r="0.25" fill="#b5b5c5" opacity="0.7"/>
<circle cx="254.86" cy="215.62" r="0.25" fill="#b5b5c5" opacity="0.7"/>
<circle cx="261.66" cy="208.25" r="0.25" fill="#b5b5c5" opacity="0.7"/>
<circle cx="261.66" cy="212.3" r="0.25" fill="#b5b5c5" opacity="0.7"/>
<circle cx="254.02" cy="212.38" r="0.25" fill="#b5b5c5" opacity="0.7"/>
<circle cx="251.51" cy="218.75" r="0.25" fill="#b5b5c5" opacity="0.7"/>
<circle cx="250.13" cy="219.33" r="0.25" fill="#b5b5c5" opacity="0.7"/>
<circle cx="252.04" cy="217.22" r="0.25" fill="#b5b5c5" opacity="0.7"/>
<circle cx="251.32" cy="214.85" r="0.25" fill="#b5b5c5" opacity="0.7"/>
<circle cx="259.22" cy="209.36" r="0.25" fill="#b5b5c5" opacity="0.7"/>
<circle cx="254.58" cy="216.49" r="0.25" fill="#b5b5c5" opacity="0.7"/>
<circle cx="259.67" cy="213.03" r="0.25" fill="#b5b5c5" opacity="0.7"/>
<circle cx="263.23" cy="206.5" r="0.25" fill="#b5b5c5" opacity="0.7"/>
<path d="M250,218 L263.5,209" fill="none" stroke="#cdd0d8" stroke-width="1.3" />
<path d="M250,218 L263.5,209" fill="none" stroke="#a0a6b4" stroke-width="0.3" />
<text x="256.75" y="221.3" font-size="1.2" fill="#999" text-anchor="middle" font-family="'Liberation Sans', Arial, sans-serif" >CCL8 expression</text>
<rect x="273" y="205.3" width="7.5" height="2.2" fill="#f6dde2"/>
<line x1="266.5" y1="206" x2="266.5" y2="220" stroke="#aaa" stroke-width="0.3" />
<line x1="266.5" y1="220" x2="281" y2="220" stroke="#aaa" stroke-width="0.3" />
<text x="280" y="208" font-size="1.3" fill="#d06a7a" text-anchor="end" font-family="'Liberation Sans', Arial, sans-serif" >R = 0.5, p &lt; 0.001</text>
<circle cx="270.05" cy="216.76" r="0.25" fill="#b5b5c5" opacity="0.7"/>
<circle cx="275.96" cy="209.05" r="0.25" fill="#b5b5c5" opacity="0.7"/>
<circle cx="273.56" cy="211.62" r="0.25" fill="#b5b5c5" opacity="0.7"/>
<circle cx="272.6" cy="211.63" r="0.25" fill="#b5b5c5" opacity="0.7"/>
<circle cx="267.26" cy="219.5" r="0.25" fill="#b5b5c5" opacity="0.7"/>
<circle cx="271.11" cy="216.48" r="0.25" fill="#b5b5c5" opacity="0.7"/>
<circle cx="268.57" cy="216.23" r="0.25" fill="#b5b5c5" opacity="0.7"/>
<circle cx="268.77" cy="215.8" r="0.25" fill="#b5b5c5" opacity="0.7"/>
<circle cx="269.33" cy="216.71" r="0.25" fill="#b5b5c5" opacity="0.7"/>
<circle cx="268.92" cy="217.24" r="0.25" fill="#b5b5c5" opacity="0.7"/>
<circle cx="273.51" cy="211.06" r="0.25" fill="#b5b5c5" opacity="0.7"/>
<circle cx="271.6" cy="214.25" r="0.25" fill="#b5b5c5" opacity="0.7"/>
<circle cx="278.94" cy="208.62" r="0.25" fill="#b5b5c5" opacity="0.7"/>
<circle cx="269.8" cy="217.81" r="0.25" fill="#b5b5c5" opacity="0.7"/>
<circle cx="278.48" cy="210.84" r="0.25" fill="#b5b5c5" opacity="0.7"/>
<circle cx="270.55" cy="213.35" r="0.25" fill="#b5b5c5" opacity="0.7"/>
<circle cx="270.44" cy="212.88" r="0.25" fill="#b5b5c5" opacity="0.7"/>
<circle cx="267.56" cy="217" r="0.25" fill="#b5b5c5" opacity="0.7"/>
<circle cx="272.31" cy="214.08" r="0.25" fill="#b5b5c5" opacity="0.7"/>
<circle cx="271.71" cy="211.74" r="0.25" fill="#b5b5c5" opacity="0.7"/>
<circle cx="275.95" cy="212.13" r="0.25" fill="#b5b5c5" opacity="0.7"/>
<circle cx="274.07" cy="212.86" r="0.25" fill="#b5b5c5" opacity="0.7"/>
<circle cx="275.97" cy="213.76" r="0.25" fill="#b5b5c5" opacity="0.7"/>
<circle cx="278.36" cy="210.85" r="0.25" fill="#b5b5c5" opacity="0.7"/>
<circle cx="272.19" cy="212.96" r="0.25" fill="#b5b5c5" opacity="0.7"/>
<path d="M267,218 L280,209" fill="none" stroke="#cdd0d8" stroke-width="1.3" />
<path d="M267,218 L280,209" fill="none" stroke="#a0a6b4" stroke-width="0.3" />
<text x="273.5" y="221.3" font-size="1.2" fill="#999" text-anchor="middle" font-family="'Liberation Sans', Arial, sans-serif" >CCL8 expression</text>
<rect x="289" y="205.3" width="7.5" height="2.2" fill="#f6dde2"/>
<line x1="282.5" y1="206" x2="282.5" y2="220" stroke="#aaa" stroke-width="0.3" />
<line x1="282.5" y1="220" x2="297" y2="220" stroke="#aaa" stroke-width="0.3" />
<text x="296" y="208" font-size="1.3" fill="#d06a7a" text-anchor="end" font-family="'Liberation Sans', Arial, sans-serif" >R = 0.5, p &lt; 0.001</text>
<circle cx="288.45" cy="216.07" r="0.25" fill="#b5b5c5" opacity="0.7"/>
<circle cx="288.03" cy="213.41" r="0.25" fill="#b5b5c5" opacity="0.7"/>
<circle cx="288.33" cy="212" r="0.25" fill="#b5b5c5" opacity="0.7"/>
<circle cx="295.98" cy="206.5" r="0.25" fill="#b5b5c5" opacity="0.7"/>
<circle cx="290.9" cy="214.2" r="0.25" fill="#b5b5c5" opacity="0.7"/>
<circle cx="286.31" cy="215.68" r="0.25" fill="#b5b5c5" opacity="0.7"/>
<circle cx="287.9" cy="212.77" r="0.25" fill="#b5b5c5" opacity="0.7"/>
<circle cx="285.58" cy="213.69" r="0.25" fill="#b5b5c5" opacity="0.7"/>
<circle cx="293.96" cy="211.45" r="0.25" fill="#b5b5c5" opacity="0.7"/>
<circle cx="294.81" cy="207.21" r="0.25" fill="#b5b5c5" opacity="0.7"/>
<circle cx="292.02" cy="210.44" r="0.25" fill="#b5b5c5" opacity="0.7"/>
<circle cx="291.4" cy="211.98" r="0.25" fill="#b5b5c5" opacity="0.7"/>
<circle cx="287.1" cy="216.96" r="0.25" fill="#b5b5c5" opacity="0.7"/>
<circle cx="283.01" cy="218.56" r="0.25" fill="#b5b5c5" opacity="0.7"/>
<circle cx="294.1" cy="209.99" r="0.25" fill="#b5b5c5" opacity="0.7"/>
<circle cx="290.7" cy="214.67" r="0.25" fill="#b5b5c5" opacity="0.7"/>
<circle cx="286.05" cy="215.95" r="0.25" fill="#b5b5c5" opacity="0.7"/>
<circle cx="292.66" cy="210.29" r="0.25" fill="#b5b5c5" opacity="0.7"/>
<circle cx="292.26" cy="210.63" r="0.25" fill="#b5b5c5" opacity="0.7"/>
<circle cx="289.84" cy="213.34" r="0.25" fill="#b5b5c5" opacity="0.7"/>
<circle cx="291.8" cy="210.57" r="0.25" fill="#b5b5c5" opacity="0.7"/>
<circle cx="291.18" cy="212.1" r="0.25" fill="#b5b5c5" opacity="0.7"/>
<circle cx="285.9" cy="215.96" r="0.25" fill="#b5b5c5" opacity="0.7"/>
<circle cx="286.44" cy="217.08" r="0.25" fill="#b5b5c5" opacity="0.7"/>
<circle cx="289.15" cy="214.34" r="0.25" fill="#b5b5c5" opacity="0.7"/>
<path d="M283,218 L296,209" fill="none" stroke="#cdd0d8" stroke-width="1.3" />
<path d="M283,218 L296,209" fill="none" stroke="#a0a6b4" stroke-width="0.3" />
<text x="289.5" y="221.3" font-size="1.2" fill="#999" text-anchor="middle" font-family="'Liberation Sans', Arial, sans-serif" >CCL8 expression</text>
<text x="362" y="162.6" font-size="1.4" fill="#777" text-anchor="middle" font-family="'Liberation Sans', Arial, sans-serif" >Univariate</text>
<text x="371.5" y="162.6" font-size="1.4" fill="#777" text-anchor="middle" font-family="'Liberation Sans', Arial, sans-serif" >p value</text>
<text x="346" y="165.8" font-size="1.5" fill="#777" text-anchor="end" font-family="'Liberation Sans', Arial, sans-serif" >Age</text>
<text x="355" y="165.8" font-size="1.4" fill="#888" text-anchor="middle" font-family="'Liberation Sans', Arial, sans-serif" >1.2(0.8-1.9)</text>
<text x="363.5" y="165.8" font-size="1.4" fill="#888" text-anchor="middle" font-family="'Liberation Sans', Arial, sans-serif" >1.38(1.1-2.0)</text>
<text x="371.5" y="165.8" font-size="1.4" fill="#888" text-anchor="middle" font-family="'Liberation Sans', Arial, sans-serif" >0.001</text>
<text x="346" y="168.9" font-size="1.5" fill="#777" text-anchor="end" font-family="'Liberation Sans', Arial, sans-serif" >Stage</text>
<text x="355" y="168.9" font-size="1.4" fill="#888" text-anchor="middle" font-family="'Liberation Sans', Arial, sans-serif" >1.2(0.8-1.9)</text>
<text x="363.5" y="168.9" font-size="1.4" fill="#888" text-anchor="middle" font-family="'Liberation Sans', Arial, sans-serif" >1.38(1.1-2.0)</text>
<text x="371.5" y="168.9" font-size="1.4" fill="#888" text-anchor="middle" font-family="'Liberation Sans', Arial, sans-serif" >0.002</text>
<text x="346" y="172" font-size="1.5" fill="#777" text-anchor="end" font-family="'Liberation Sans', Arial, sans-serif" >Gender</text>
<text x="355" y="172" font-size="1.4" fill="#888" text-anchor="middle" font-family="'Liberation Sans', Arial, sans-serif" >1.2(0.8-1.9)</text>
<text x="363.5" y="172" font-size="1.4" fill="#888" text-anchor="middle" font-family="'Liberation Sans', Arial, sans-serif" >1.38(1.1-2.0)</text>
<text x="371.5" y="172" font-size="1.4" fill="#888" text-anchor="middle" font-family="'Liberation Sans', Arial, sans-serif" >0.003</text>
<text x="346" y="175.1" font-size="1.5" fill="#777" text-anchor="end" font-family="'Liberation Sans', Arial, sans-serif" >LDH</text>
<text x="355" y="175.1" font-size="1.4" fill="#888" text-anchor="middle" font-family="'Liberation Sans', Arial, sans-serif" >1.2(0.8-1.9)</text>
<text x="363.5" y="175.1" font-size="1.4" fill="#888" text-anchor="middle" font-family="'Liberation Sans', Arial, sans-serif" >1.38(1.1-2.0)</text>
<text x="371.5" y="175.1" font-size="1.4" fill="#888" text-anchor="middle" font-family="'Liberation Sans', Arial, sans-serif" >0.004</text>
<text x="346" y="178.2" font-size="1.5" fill="#777" text-anchor="end" font-family="'Liberation Sans', Arial, sans-serif" >CCL8</text>
<text x="355" y="178.2" font-size="1.4" fill="#888" text-anchor="middle" font-family="'Liberation Sans', Arial, sans-serif" >1.2(0.8-1.9)</text>
<text x="363.5" y="178.2" font-size="1.4" fill="#888" text-anchor="middle" font-family="'Liberation Sans', Arial, sans-serif" >1.38(1.1-2.0)</text>
<text x="371.5" y="178.2" font-size="1.4" fill="#888" text-anchor="middle" font-family="'Liberation Sans', Arial, sans-serif" >0.005</text>
<line x1="351.5" y1="161" x2="351.5" y2="180" stroke="#ccc" stroke-width="0.3" />
<line x1="338" y1="163.4" x2="375" y2="163.4" stroke="#ccc" stroke-width="0.3" />
<line x1="338" y1="179.5" x2="375" y2="179.5" stroke="#ccc" stroke-width="0.3" />
<text x="356" y="181.6" font-size="1.2" fill="#aaa" text-anchor="middle" font-family="'Liberation Sans', Arial, sans-serif" >HR: hazard ratio; CI: confidence interval</text>
<text x="342.32" y="185.2" font-size="1.4" fill="#c46a8a" text-anchor="middle" font-family="'Liberation Sans', Arial, sans-serif" >CCL8 &amp; Stage</text>
<line x1="329.6" y1="186.5" x2="329.6" y2="199" stroke="#999" stroke-width="0.3" />
<line x1="329.6" y1="199" x2="355" y2="199" stroke="#999" stroke-width="0.3" />
<text x="329.1" y="188" font-size="1.1" fill="#999" text-anchor="end" font-family="'Liberation Sans', Arial, sans-serif" >1.00</text>
<text x="329.1" y="191.5" font-size="1.1" fill="#999" text-anchor="end" font-family="'Liberation Sans', Arial, sans-serif" >0.75</text>
<text x="329.1" y="195" font-size="1.1" fill="#999" text-anchor="end" font-family="'Liberation Sans', Arial, sans-serif" >0.50</text>
<text x="329.1" y="198.5" font-size="1.1" fill="#999" text-anchor="end" font-family="'Liberation Sans', Arial, sans-serif" >0.25</text>
<path d="M330.1,187 L336.6,187.5 C342.6,188.5 346.6,194 351,197 L354,197.8" fill="none" stroke="#7a3fb0" stroke-width="0.55" />
<path d="M330.1,187.21 L336.6,187.78 C342.6,189.2 346.6,194.7 351,197.28 L354,197.8" fill="none" stroke="#b05cc0" stroke-width="0.55" />
<path d="M330.1,187.42 L336.6,188.06 C342.6,189.9 346.6,195.4 351,197.56 L354,197.8" fill="none" stroke="#d07ad0" stroke-width="0.55" />
<path d="M330.1,187.63 L336.6,188.34 C342.6,190.6 346.6,196.1 351,197.84 L354,197.8" fill="none" stroke="#e59ad8" stroke-width="0.55" />
<text x="342.32" y="201" font-size="1.2" fill="#aaa" text-anchor="middle" font-family="'Liberation Sans', Arial, sans-serif" >Time</text>
<text x="330.6" y="196.8" font-size="1" fill="#999" text-anchor="start" font-family="'Liberation Sans', Arial, sans-serif" >high/I-II  low/I-II  high/III-IV</text>
<rect x="339.28" y="199.5" width="3.04" height="1" fill="#f2d27a"/>
<text x="374.94" y="185.2" font-size="1.4" fill="#c46a8a" text-anchor="middle" font-family="'Liberation Sans', Arial, sans-serif" >CCL8 &amp; Stage</text>
<line x1="362.5" y1="186.5" x2="362.5" y2="199" stroke="#999" stroke-width="0.3" />
<line x1="362.5" y1="199" x2="387.4" y2="199" stroke="#999" stroke-width="0.3" />
<text x="362" y="188" font-size="1.1" fill="#999" text-anchor="end" font-family="'Liberation Sans', Arial, sans-serif" >1.00</text>
<text x="362" y="191.5" font-size="1.1" fill="#999" text-anchor="end" font-family="'Liberation Sans', Arial, sans-serif" >0.75</text>
<text x="362" y="195" font-size="1.1" fill="#999" text-anchor="end" font-family="'Liberation Sans', Arial, sans-serif" >0.50</text>
<text x="362" y="198.5" font-size="1.1" fill="#999" text-anchor="end" font-family="'Liberation Sans', Arial, sans-serif" >0.25</text>
<path d="M363,187 L369.5,187.5 C375.5,188.5 379.5,194 383.4,197 L386.4,197.8" fill="none" stroke="#7a3fb0" stroke-width="0.55" />
<path d="M363,187.21 L369.5,187.78 C375.5,189.2 379.5,194.7 383.4,197.28 L386.4,197.8" fill="none" stroke="#b05cc0" stroke-width="0.55" />
<path d="M363,187.42 L369.5,188.06 C375.5,189.9 379.5,195.4 383.4,197.56 L386.4,197.8" fill="none" stroke="#d07ad0" stroke-width="0.55" />
<path d="M363,187.63 L369.5,188.34 C375.5,190.6 379.5,196.1 383.4,197.84 L386.4,197.8" fill="none" stroke="#e59ad8" stroke-width="0.55" />
<text x="374.94" y="201" font-size="1.2" fill="#aaa" text-anchor="middle" font-family="'Liberation Sans', Arial, sans-serif" >Time</text>
<text x="363.5" y="196.8" font-size="1" fill="#999" text-anchor="start" font-family="'Liberation Sans', Arial, sans-serif" >high/I-II  low/I-II  high/III-IV</text>
<rect x="371.95" y="199.5" width="2.99" height="1" fill="#f2d27a"/>
<text x="344" y="203.8" font-size="1.6" fill="#444" text-anchor="start" font-family="'Liberation Sans', Arial, sans-serif" >b</text>
<text x="361" y="203.8" font-size="1.6" fill="#444" text-anchor="start" font-family="'Liberation Sans', Arial, sans-serif" >c</text>
<line x1="328.5" y1="205.5" x2="328.5" y2="218.5" stroke="#555" stroke-width="0.35" />
<line x1="328.5" y1="218.5" x2="341" y2="218.5" stroke="#555" stroke-width="0.35" />
<text x="334.75" y="206" font-size="1.2" fill="#777" text-anchor="middle" font-family="'Liberation Sans', Arial, sans-serif" >0.01</text>
<rect x="330.7" y="210.59" width="1.6" height="4.96" fill="none" stroke="#c04a6a" stroke-width="0.35"/>
<line x1="331.5" y1="208.59" x2="331.5" y2="210.59" stroke="#777" stroke-width="0.3" />
<circle cx="331.05" cy="211.29" r="0.3" fill="#d4506a" />
<circle cx="332.18" cy="213.21" r="0.3" fill="#d4506a" />
<circle cx="331.54" cy="213.2" r="0.3" fill="#d4506a" />
<circle cx="332" cy="211.77" r="0.3" fill="#d4506a" />
<circle cx="330.98" cy="214.66" r="0.3" fill="#d4506a" />
<circle cx="331.44" cy="213.76" r="0.3" fill="#d4506a" />
<rect x="333.87" y="211.81" width="1.6" height="2.9" fill="none" stroke="#555" stroke-width="0.35"/>
<line x1="334.67" y1="209.81" x2="334.67" y2="211.81" stroke="#777" stroke-width="0.3" />
<circle cx="335.26" cy="211.94" r="0.3" fill="#7a4a6a" />
<circle cx="334.48" cy="214.22" r="0.3" fill="#7a4a6a" />
<circle cx="335.18" cy="212.17" r="0.3" fill="#7a4a6a" />
<circle cx="334.11" cy="212.54" r="0.3" fill="#7a4a6a" />
<circle cx="334.03" cy="212.84" r="0.3" fill="#7a4a6a" />
<circle cx="335.15" cy="213.32" r="0.3" fill="#7a4a6a" />
<rect x="337.03" y="210.31" width="1.6" height="6.01" fill="none" stroke="#c04a6a" stroke-width="0.35"/>
<line x1="337.83" y1="208.31" x2="337.83" y2="210.31" stroke="#777" stroke-width="0.3" />
<circle cx="337.67" cy="216.31" r="0.3" fill="#d4506a" />
<circle cx="338.15" cy="213.01" r="0.3" fill="#d4506a" />
<circle cx="337.8" cy="215.11" r="0.3" fill="#d4506a" />
<circle cx="338.25" cy="211.21" r="0.3" fill="#d4506a" />
<circle cx="338.12" cy="212.52" r="0.3" fill="#d4506a" />
<circle cx="337.87" cy="211.74" r="0.3" fill="#d4506a" />
<text x="331.5" y="220.1" font-size="1.2" fill="#888" text-anchor="end" font-family="'Liberation Sans', Arial, sans-serif" transform="rotate(-45 331.5 220.1)">Stage</text>
<text x="334.67" y="220.1" font-size="1.2" fill="#888" text-anchor="end" font-family="'Liberation Sans', Arial, sans-serif" transform="rotate(-45 334.67 220.1)">Stage</text>
<text x="337.83" y="220.1" font-size="1.2" fill="#888" text-anchor="end" font-family="'Liberation Sans', Arial, sans-serif" transform="rotate(-45 337.83 220.1)">Stage</text>
<line x1="346" y1="205.5" x2="346" y2="218.5" stroke="#555" stroke-width="0.35" />
<line x1="346" y1="218.5" x2="357.5" y2="218.5" stroke="#555" stroke-width="0.35" />
<text x="351.75" y="206" font-size="1.2" fill="#777" text-anchor="middle" font-family="'Liberation Sans', Arial, sans-serif" >0.01</text>
<rect x="348.2" y="209.98" width="1.6" height="5.84" fill="none" stroke="#c04a6a" stroke-width="0.35"/>
<line x1="349" y1="207.98" x2="349" y2="209.98" stroke="#777" stroke-width="0.3" />
<circle cx="348.81" cy="210.09" r="0.3" fill="#d4506a" />
<circle cx="348.52" cy="213.31" r="0.3" fill="#d4506a" />
<circle cx="348.29" cy="211.02" r="0.3" fill="#d4506a" />
<circle cx="349.35" cy="211.59" r="0.3" fill="#d4506a" />
<circle cx="348.72" cy="211.39" r="0.3" fill="#d4506a" />
<circle cx="349.53" cy="210.52" r="0.3" fill="#d4506a" />
<rect x="352.45" y="211.04" width="1.6" height="3.74" fill="none" stroke="#555" stroke-width="0.35"/>
<line x1="353.25" y1="209.04" x2="353.25" y2="211.04" stroke="#777" stroke-width="0.3" />
<circle cx="352.77" cy="212.63" r="0.3" fill="#7a4a6a" />
<circle cx="353.72" cy="213.35" r="0.3" fill="#7a4a6a" />
<circle cx="353.04" cy="211.21" r="0.3" fill="#7a4a6a" />
<circle cx="353.16" cy="212.42" r="0.3" fill="#7a4a6a" />
<circle cx="353.59" cy="212.15" r="0.3" fill="#7a4a6a" />
<circle cx="353.1" cy="213.47" r="0.3" fill="#7a4a6a" />
<text x="349" y="220.1" font-size="1.2" fill="#888" text-anchor="end" font-family="'Liberation Sans', Arial, sans-serif" transform="rotate(-45 349 220.1)">Stage</text>
<text x="353.25" y="220.1" font-size="1.2" fill="#888" text-anchor="end" font-family="'Liberation Sans', Arial, sans-serif" transform="rotate(-45 353.25 220.1)">Stage</text>
<line x1="363" y1="205.5" x2="363" y2="218.5" stroke="#555" stroke-width="0.35" />
<line x1="363" y1="218.5" x2="378" y2="218.5" stroke="#555" stroke-width="0.35" />
<text x="370.5" y="206" font-size="1.2" fill="#777" text-anchor="middle" font-family="'Liberation Sans', Arial, sans-serif" >0.01</text>
<rect x="365.2" y="211.74" width="1.6" height="4.05" fill="none" stroke="#c04a6a" stroke-width="0.35"/>
<line x1="366" y1="209.74" x2="366" y2="211.74" stroke="#777" stroke-width="0.3" />
<circle cx="365.82" cy="214.09" r="0.3" fill="#d4506a" />
<circle cx="366.68" cy="212.52" r="0.3" fill="#d4506a" />
<circle cx="366.75" cy="214.63" r="0.3" fill="#d4506a" />
<circle cx="365.8" cy="214.44" r="0.3" fill="#d4506a" />
<circle cx="365.73" cy="212.03" r="0.3" fill="#d4506a" />
<circle cx="366.41" cy="213.28" r="0.3" fill="#d4506a" />
<rect x="368.2" y="210.6" width="1.6" height="4.9" fill="none" stroke="#555" stroke-width="0.35"/>
<line x1="369" y1="208.6" x2="369" y2="210.6" stroke="#777" stroke-width="0.3" />
<circle cx="369.64" cy="214.32" r="0.3" fill="#7a4a6a" />
<circle cx="368.24" cy="213.51" r="0.3" fill="#7a4a6a" />
<circle cx="368.94" cy="212.87" r="0.3" fill="#7a4a6a" />
<circle cx="369.54" cy="212.64" r="0.3" fill="#7a4a6a" />
<circle cx="368.96" cy="214.97" r="0.3" fill="#7a4a6a" />
<circle cx="368.9" cy="213.01" r="0.3" fill="#7a4a6a" />
<rect x="371.2" y="210.55" width="1.6" height="4.3" fill="none" stroke="#c04a6a" stroke-width="0.35"/>
<line x1="372" y1="208.55" x2="372" y2="210.55" stroke="#777" stroke-width="0.3" />
<circle cx="372.27" cy="213.73" r="0.3" fill="#d4506a" />
<circle cx="371.84" cy="210.72" r="0.3" fill="#d4506a" />
<circle cx="372.29" cy="212.93" r="0.3" fill="#d4506a" />
<circle cx="372.43" cy="213.86" r="0.3" fill="#d4506a" />
<circle cx="371.39" cy="211.5" r="0.3" fill="#d4506a" />
<circle cx="371.32" cy="214.07" r="0.3" fill="#d4506a" />
<rect x="374.2" y="208.91" width="1.6" height="7.42" fill="none" stroke="#555" stroke-width="0.35"/>
<line x1="375" y1="206.91" x2="375" y2="208.91" stroke="#777" stroke-width="0.3" />
<circle cx="375.41" cy="213.09" r="0.3" fill="#7a4a6a" />
<circle cx="374.29" cy="213.96" r="0.3" fill="#7a4a6a" />
<circle cx="375.34" cy="212.49" r="0.3" fill="#7a4a6a" />
<circle cx="374.29" cy="214.03" r="0.3" fill="#7a4a6a" />
<circle cx="374.87" cy="213.24" r="0.3" fill="#7a4a6a" />
<circle cx="375.8" cy="214.97" r="0.3" fill="#7a4a6a" />
<text x="366" y="220.1" font-size="1.2" fill="#888" text-anchor="end" font-family="'Liberation Sans', Arial, sans-serif" transform="rotate(-45 366 220.1)">Stage</text>
<text x="369" y="220.1" font-size="1.2" fill="#888" text-anchor="end" font-family="'Liberation Sans', Arial, sans-serif" transform="rotate(-45 369 220.1)">Stage</text>
<text x="372" y="220.1" font-size="1.2" fill="#888" text-anchor="end" font-family="'Liberation Sans', Arial, sans-serif" transform="rotate(-45 372 220.1)">Stage</text>
<text x="375" y="220.1" font-size="1.2" fill="#888" text-anchor="end" font-family="'Liberation Sans', Arial, sans-serif" transform="rotate(-45 375 220.1)">Stage</text>
<text x="236.5" y="237" font-size="1.7" fill="#7a7a7a" text-anchor="end" font-family="'Liberation Sans', Arial, sans-serif" >immune response</text>
<text x="236.5" y="239" font-size="1.7" fill="#7a7a7a" text-anchor="end" font-family="'Liberation Sans', Arial, sans-serif" >T cell activation</text>
<text x="236.5" y="241" font-size="1.7" fill="#7a7a7a" text-anchor="end" font-family="'Liberation Sans', Arial, sans-serif" >cytokine signal</text>
<text x="236.5" y="243" font-size="1.7" fill="#7a7a7a" text-anchor="end" font-family="'Liberation Sans', Arial, sans-serif" >chemotaxis</text>
<text x="236.5" y="245" font-size="1.7" fill="#7a7a7a" text-anchor="end" font-family="'Liberation Sans', Arial, sans-serif" >IFN-gamma resp</text>
<text x="236.5" y="247" font-size="1.7" fill="#7a7a7a" text-anchor="end" font-family="'Liberation Sans', Arial, sans-serif" >antigen process</text>
<text x="236.5" y="249" font-size="1.7" fill="#7a7a7a" text-anchor="end" font-family="'Liberation Sans', Arial, sans-serif" >leukocyte migr</text>
<text x="236.5" y="251" font-size="1.7" fill="#7a7a7a" text-anchor="end" font-family="'Liberation Sans', Arial, sans-serif" >inflammation</text>
<line x1="249.5" y1="235.5" x2="249.5" y2="252.5" stroke="#bbb" stroke-width="0.3" />
<path d="M243.5,252.5 L245,248.5 L246.5,244.5 L248,240.5 L249,236.5" fill="none" stroke="#dc5a70" stroke-width="0.8" />
<circle cx="243.5" cy="252.5" r="0.55" fill="#d84a64" opacity="0.85"/>
<circle cx="244.19" cy="250.5" r="0.55" fill="#d84a64" opacity="0.85"/>
<circle cx="245.68" cy="248.5" r="0.55" fill="#d84a64" opacity="0.85"/>
<circle cx="246.36" cy="246.5" r="0.55" fill="#d84a64" opacity="0.85"/>
<circle cx="247.05" cy="244.5" r="0.55" fill="#d84a64" opacity="0.85"/>
<circle cx="246.94" cy="242.5" r="0.55" fill="#d84a64" opacity="0.85"/>
<circle cx="247.62" cy="240.5" r="0.55" fill="#d84a64" opacity="0.85"/>
<circle cx="248.31" cy="238.5" r="0.55" fill="#d84a64" opacity="0.85"/>
<circle cx="249" cy="236.5" r="0.55" fill="#d84a64" opacity="0.85"/>
<text x="261.5" y="237" font-size="1.7" fill="#7a7a7a" text-anchor="end" font-family="'Liberation Sans', Arial, sans-serif" >immune response</text>
<text x="261.5" y="239" font-size="1.7" fill="#7a7a7a" text-anchor="end" font-family="'Liberation Sans', Arial, sans-serif" >T cell activation</text>
<text x="261.5" y="241" font-size="1.7" fill="#7a7a7a" text-anchor="end" font-family="'Liberation Sans', Arial, sans-serif" >cytokine signal</text>
<text x="261.5" y="243" font-size="1.7" fill="#7a7a7a" text-anchor="end" font-family="'Liberation Sans', Arial, sans-serif" >chemotaxis</text>
<text x="261.5" y="245" font-size="1.7" fill="#7a7a7a" text-anchor="end" font-family="'Liberation Sans', Arial, sans-serif" >IFN-gamma resp</text>
<text x="261.5" y="247" font-size="1.7" fill="#7a7a7a" text-anchor="end" font-family="'Liberation Sans', Arial, sans-serif" >antigen process</text>
<text x="261.5" y="249" font-size="1.7" fill="#7a7a7a" text-anchor="end" font-family="'Liberation Sans', Arial, sans-serif" >leukocyte migr</text>
<text x="261.5" y="251" font-size="1.7" fill="#7a7a7a" text-anchor="end" font-family="'Liberation Sans', Arial, sans-serif" >inflammation</text>
<line x1="271.5" y1="235.5" x2="271.5" y2="252.5" stroke="#bbb" stroke-width="0.3" />
<path d="M264.5,252 L266,248 L267.5,244 L268.5,240.5 L269.5,236.5" fill="none" stroke="#dc5a70" stroke-width="0.8" />
<circle cx="264.5" cy="252" r="0.55" fill="#d84a64" opacity="0.85"/>
<circle cx="265.12" cy="250.06" r="0.55" fill="#d84a64" opacity="0.85"/>
<circle cx="266.55" cy="248.12" r="0.55" fill="#d84a64" opacity="0.85"/>
<circle cx="267.18" cy="246.19" r="0.55" fill="#d84a64" opacity="0.85"/>
<circle cx="267.8" cy="244.25" r="0.55" fill="#d84a64" opacity="0.85"/>
<circle cx="267.62" cy="242.31" r="0.55" fill="#d84a64" opacity="0.85"/>
<circle cx="268.25" cy="240.38" r="0.55" fill="#d84a64" opacity="0.85"/>
<circle cx="268.88" cy="238.44" r="0.55" fill="#d84a64" opacity="0.85"/>
<circle cx="269.5" cy="236.5" r="0.55" fill="#d84a64" opacity="0.85"/>
<text x="283.5" y="237" font-size="1.7" fill="#7a7a7a" text-anchor="end" font-family="'Liberation Sans', Arial, sans-serif" >immune response</text>
<text x="283.5" y="239" font-size="1.7" fill="#7a7a7a" text-anchor="end" font-family="'Liberation Sans', Arial, sans-serif" >T cell activation</text>
<text x="283.5" y="241" font-size="1.7" fill="#7a7a7a" text-anchor="end" font-family="'Liberation Sans', Arial, sans-serif" >cytokine signal</text>
<text x="283.5" y="243" font-size="1.7" fill="#7a7a7a" text-anchor="end" font-family="'Liberation Sans', Arial, sans-serif" >chemotaxis</text>
<text x="283.5" y="245" font-size="1.7" fill="#7a7a7a" text-anchor="end" font-family="'Liberation Sans', Arial, sans-serif" >IFN-gamma resp</text>
<text x="283.5" y="247" font-size="1.7" fill="#7a7a7a" text-anchor="end" font-family="'Liberation Sans', Arial, sans-serif" >antigen process</text>
<text x="283.5" y="249" font-size="1.7" fill="#7a7a7a" text-anchor="end" font-family="'Liberation Sans', Arial, sans-serif" >leukocyte migr</text>
<text x="283.5" y="251" font-size="1.7" fill="#7a7a7a" text-anchor="end" font-family="'Liberation Sans', Arial, sans-serif" >inflammation</text>
<line x1="293.5" y1="235.5" x2="293.5" y2="252.5" stroke="#bbb" stroke-width="0.3" />
<path d="M286,252 L287.5,248 L289,244 L290,241 L291,237" fill="none" stroke="#dc5a70" stroke-width="0.8" />
<circle cx="286" cy="252" r="0.55" fill="#d84a64" opacity="0.85"/>
<circle cx="286.62" cy="250.12" r="0.55" fill="#d84a64" opacity="0.85"/>
<circle cx="288.05" cy="248.25" r="0.55" fill="#d84a64" opacity="0.85"/>
<circle cx="288.68" cy="246.38" r="0.55" fill="#d84a64" opacity="0.85"/>
<circle cx="289.3" cy="244.5" r="0.55" fill="#d84a64" opacity="0.85"/>
<circle cx="289.12" cy="242.62" r="0.55" fill="#d84a64" opacity="0.85"/>
<circle cx="289.75" cy="240.75" r="0.55" fill="#d84a64" opacity="0.85"/>
<circle cx="290.38" cy="238.88" r="0.55" fill="#d84a64" opacity="0.85"/>
<circle cx="291" cy="237" r="0.55" fill="#d84a64" opacity="0.85"/>
<rect x="299" y="240" width="2" height="3.5" fill="#2c3a8a"/>
<rect x="299" y="244" width="2" height="4" fill="#d04050"/>
<text x="300" y="238.5" font-size="1.3" fill="#888" text-anchor="middle" font-family="'Liberation Sans', Arial, sans-serif" >p.adj</text>
<line x1="230" y1="256" x2="230" y2="271" stroke="#bbb" stroke-width="0.3" />
<path d="M231.5,262 C233,259 234.5,257.5 236.5,257.5 L253.5,263.5 L255,266" fill="none" stroke="#c0a8a8" stroke-width="0.6" />
<path d="M231.5,262.2 C233,264 234.5,265 236.5,265.3 L246,268 L252.5,270.3 L255,268.2" fill="none" stroke="#3a3a3a" stroke-width="1" />
<path d="M232,263 L236.5,266 L246,268.5" fill="none" stroke="#8a8a8a" stroke-width="0.5" />
<text x="256.5" y="260" font-size="1.5" fill="#8a8a8a" text-anchor="start" font-family="'Liberation Sans', Arial, sans-serif" >KEGG_CYTOKINE_RECEPTOR</text>
<text x="256.5" y="261.7" font-size="1.5" fill="#8a8a8a" text-anchor="start" font-family="'Liberation Sans', Arial, sans-serif" >KEGG_CHEMOKINE_SIGNAL</text>
<text x="256.5" y="263.4" font-size="1.5" fill="#8a8a8a" text-anchor="start" font-family="'Liberation Sans', Arial, sans-serif" >KEGG_ANTIGEN_PROCESS</text>
<text x="256.5" y="265.1" font-size="1.5" fill="#8a8a8a" text-anchor="start" font-family="'Liberation Sans', Arial, sans-serif" >KEGG_NATURAL_KILLER</text>
<text x="256.5" y="266.8" font-size="1.5" fill="#8a8a8a" text-anchor="start" font-family="'Liberation Sans', Arial, sans-serif" >KEGG_T_CELL_RECEPTOR</text>
<text x="256.5" y="268.5" font-size="1.5" fill="#8a8a8a" text-anchor="start" font-family="'Liberation Sans', Arial, sans-serif" >KEGG_JAK_STAT</text>
<text x="256.5" y="270.2" font-size="1.5" fill="#8a8a8a" text-anchor="start" font-family="'Liberation Sans', Arial, sans-serif" >KEGG_TOLL_LIKE</text>
<rect x="229.5" y="288" width="26.5" height="2.8" fill="#e4e4e4"/>
<text x="242.75" y="290" font-size="1.3" fill="#777" text-anchor="middle" font-family="'Liberation Sans', Arial, sans-serif" >PDCD1</text>
<line x1="231" y1="291" x2="231" y2="309.5" stroke="#999" stroke-width="0.3" />
<line x1="231" y1="309.5" x2="256" y2="309.5" stroke="#999" stroke-width="0.3" />
<text x="254" y="294.2" font-size="1.4" fill="#d8505a" text-anchor="end" font-family="'Liberation Sans', Arial, sans-serif" >R = 0.62</text>
<text x="254" y="296" font-size="1.4" fill="#d8505a" text-anchor="end" font-family="'Liberation Sans', Arial, sans-serif" >p &lt; 2.2e-16</text>
<circle cx="251.99" cy="296.82" r="0.25" fill="#c0c4cc" opacity="0.8"/>
<circle cx="239.36" cy="300.38" r="0.25" fill="#c0c4cc" opacity="0.8"/>
<circle cx="231.64" cy="304.26" r="0.25" fill="#c0c4cc" opacity="0.8"/>
<circle cx="237.95" cy="298.7" r="0.25" fill="#c0c4cc" opacity="0.8"/>
<circle cx="238.86" cy="298.58" r="0.25" fill="#c0c4cc" opacity="0.8"/>
<circle cx="251.68" cy="299.72" r="0.25" fill="#c0c4cc" opacity="0.8"/>
<circle cx="243.51" cy="299.38" r="0.25" fill="#c0c4cc" opacity="0.8"/>
<circle cx="232.7" cy="299.39" r="0.25" fill="#c0c4cc" opacity="0.8"/>
<circle cx="251.87" cy="301.43" r="0.25" fill="#c0c4cc" opacity="0.8"/>
<circle cx="251.63" cy="297.63" r="0.25" fill="#c0c4cc" opacity="0.8"/>
<circle cx="236.25" cy="297.36" r="0.25" fill="#c0c4cc" opacity="0.8"/>
<circle cx="244.12" cy="299.01" r="0.25" fill="#c0c4cc" opacity="0.8"/>
<circle cx="242.41" cy="299.95" r="0.25" fill="#c0c4cc" opacity="0.8"/>
<circle cx="245.22" cy="298.87" r="0.25" fill="#c0c4cc" opacity="0.8"/>
<circle cx="250.33" cy="297.33" r="0.25" fill="#c0c4cc" opacity="0.8"/>
<circle cx="253.11" cy="299.61" r="0.25" fill="#c0c4cc" opacity="0.8"/>
<circle cx="232.7" cy="299.46" r="0.25" fill="#c0c4cc" opacity="0.8"/>
<circle cx="244.03" cy="299.27" r="0.25" fill="#c0c4cc" opacity="0.8"/>
<circle cx="244.78" cy="298.61" r="0.25" fill="#c0c4cc" opacity="0.8"/>
<circle cx="237.93" cy="302.44" r="0.25" fill="#c0c4cc" opacity="0.8"/>
<circle cx="238.35" cy="301.81" r="0.25" fill="#c0c4cc" opacity="0.8"/>
<circle cx="250.36" cy="300.07" r="0.25" fill="#c0c4cc" opacity="0.8"/>
<circle cx="242.18" cy="303.09" r="0.25" fill="#c0c4cc" opacity="0.8"/>
<circle cx="241.95" cy="302.71" r="0.25" fill="#c0c4cc" opacity="0.8"/>
<circle cx="232.86" cy="300.28" r="0.25" fill="#c0c4cc" opacity="0.8"/>
<circle cx="246.52" cy="296.56" r="0.25" fill="#c0c4cc" opacity="0.8"/>
<circle cx="251.77" cy="296.32" r="0.25" fill="#c0c4cc" opacity="0.8"/>
<circle cx="245.51" cy="297.55" r="0.25" fill="#c0c4cc" opacity="0.8"/>
<circle cx="253.18" cy="299.64" r="0.25" fill="#c0c4cc" opacity="0.8"/>
<circle cx="250.32" cy="299.42" r="0.25" fill="#c0c4cc" opacity="0.8"/>
<circle cx="247.34" cy="300.88" r="0.25" fill="#c0c4cc" opacity="0.8"/>
<circle cx="238.43" cy="298.3" r="0.25" fill="#c0c4cc" opacity="0.8"/>
<circle cx="251.2" cy="296.88" r="0.25" fill="#c0c4cc" opacity="0.8"/>
<circle cx="253.07" cy="297.17" r="0.25" fill="#c0c4cc" opacity="0.8"/>
<circle cx="233.87" cy="297.84" r="0.25" fill="#c0c4cc" opacity="0.8"/>
<circle cx="249.93" cy="302.61" r="0.25" fill="#c0c4cc" opacity="0.8"/>
<circle cx="241.25" cy="301.23" r="0.25" fill="#c0c4cc" opacity="0.8"/>
<circle cx="237.55" cy="303.23" r="0.25" fill="#c0c4cc" opacity="0.8"/>
<circle cx="247.62" cy="297.22" r="0.25" fill="#c0c4cc" opacity="0.8"/>
<circle cx="232.83" cy="302.12" r="0.25" fill="#c0c4cc" opacity="0.8"/>
<path d="M231.5,300 C237.5,302 243.5,302 255,298" fill="none" stroke="#c6cad2" stroke-width="2.8" />
<path d="M231.5,300.3 C237.5,302.2 243.5,302.2 255,298.3" fill="none" stroke="#8a92a6" stroke-width="0.4" />
<text x="242.75" y="311.8" font-size="1.3" fill="#888" text-anchor="middle" font-family="'Liberation Sans', Arial, sans-serif" >CCL8</text>
<rect x="256" y="288" width="25.5" height="2.8" fill="#e4e4e4"/>
<text x="268.75" y="290" font-size="1.3" fill="#777" text-anchor="middle" font-family="'Liberation Sans', Arial, sans-serif" >PDCD1</text>
<line x1="257.5" y1="291" x2="257.5" y2="309.5" stroke="#999" stroke-width="0.3" />
<line x1="257.5" y1="309.5" x2="281.5" y2="309.5" stroke="#999" stroke-width="0.3" />
<text x="279.5" y="294.2" font-size="1.4" fill="#d8505a" text-anchor="end" font-family="'Liberation Sans', Arial, sans-serif" >R = 0.62</text>
<text x="279.5" y="296" font-size="1.4" fill="#d8505a" text-anchor="end" font-family="'Liberation Sans', Arial, sans-serif" >p &lt; 2.2e-16</text>
<circle cx="258.94" cy="309" r="0.25" fill="#c0c4cc" opacity="0.8"/>
<circle cx="264.61" cy="303.75" r="0.25" fill="#c0c4cc" opacity="0.8"/>
<circle cx="271.1" cy="301.81" r="0.25" fill="#c0c4cc" opacity="0.8"/>
<circle cx="270.61" cy="300.85" r="0.25" fill="#c0c4cc" opacity="0.8"/>
<circle cx="278.52" cy="298.94" r="0.25" fill="#c0c4cc" opacity="0.8"/>
<circle cx="276.93" cy="298.36" r="0.25" fill="#c0c4cc" opacity="0.8"/>
<circle cx="275.99" cy="304.52" r="0.25" fill="#c0c4cc" opacity="0.8"/>
<circle cx="266.81" cy="301.49" r="0.25" fill="#c0c4cc" opacity="0.8"/>
<circle cx="266.55" cy="305.85" r="0.25" fill="#c0c4cc" opacity="0.8"/>
<circle cx="263.03" cy="306.56" r="0.25" fill="#c0c4cc" opacity="0.8"/>
<circle cx="260.11" cy="307.14" r="0.25" fill="#c0c4cc" opacity="0.8"/>
<circle cx="274.39" cy="301.3" r="0.25" fill="#c0c4cc" opacity="0.8"/>
<circle cx="273.28" cy="299.53" r="0.25" fill="#c0c4cc" opacity="0.8"/>
<circle cx="276.64" cy="298.26" r="0.25" fill="#c0c4cc" opacity="0.8"/>
<circle cx="278.77" cy="303.54" r="0.25" fill="#c0c4cc" opacity="0.8"/>
<circle cx="279.14" cy="300.11" r="0.25" fill="#c0c4cc" opacity="0.8"/>
<circle cx="264.54" cy="304.59" r="0.25" fill="#c0c4cc" opacity="0.8"/>
<circle cx="274.88" cy="301.57" r="0.25" fill="#c0c4cc" opacity="0.8"/>
<circle cx="278.92" cy="297.16" r="0.25" fill="#c0c4cc" opacity="0.8"/>
<circle cx="268.91" cy="306.49" r="0.25" fill="#c0c4cc" opacity="0.8"/>
<circle cx="271.45" cy="303.23" r="0.25" fill="#c0c4cc" opacity="0.8"/>
<circle cx="259.99" cy="304.91" r="0.25" fill="#c0c4cc" opacity="0.8"/>
<circle cx="264.1" cy="308.57" r="0.25" fill="#c0c4cc" opacity="0.8"/>
<circle cx="277.02" cy="298.85" r="0.25" fill="#c0c4cc" opacity="0.8"/>
<circle cx="278.8" cy="296.78" r="0.25" fill="#c0c4cc" opacity="0.8"/>
<circle cx="271.47" cy="306.2" r="0.25" fill="#c0c4cc" opacity="0.8"/>
<circle cx="265.75" cy="308.29" r="0.25" fill="#c0c4cc" opacity="0.8"/>
<circle cx="272.77" cy="299.27" r="0.25" fill="#c0c4cc" opacity="0.8"/>
<circle cx="265.5" cy="304.92" r="0.25" fill="#c0c4cc" opacity="0.8"/>
<circle cx="263.57" cy="307.73" r="0.25" fill="#c0c4cc" opacity="0.8"/>
<circle cx="262.02" cy="308.65" r="0.25" fill="#c0c4cc" opacity="0.8"/>
<circle cx="264.71" cy="302.57" r="0.25" fill="#c0c4cc" opacity="0.8"/>
<circle cx="270.58" cy="300.45" r="0.25" fill="#c0c4cc" opacity="0.8"/>
<circle cx="270.41" cy="305.36" r="0.25" fill="#c0c4cc" opacity="0.8"/>
<circle cx="271.4" cy="302.69" r="0.25" fill="#c0c4cc" opacity="0.8"/>
<circle cx="258.76" cy="308.01" r="0.25" fill="#c0c4cc" opacity="0.8"/>
<circle cx="260.19" cy="308.39" r="0.25" fill="#c0c4cc" opacity="0.8"/>
<circle cx="260.97" cy="307.6" r="0.25" fill="#c0c4cc" opacity="0.8"/>
<circle cx="265.94" cy="304.23" r="0.25" fill="#c0c4cc" opacity="0.8"/>
<circle cx="272.92" cy="300.01" r="0.25" fill="#c0c4cc" opacity="0.8"/>
<path d="M258,309 L280.5,299" fill="none" stroke="#bfc4cc" stroke-width="2.4" />
<path d="M258,309 L280.5,299" fill="none" stroke="#7a8296" stroke-width="0.45" />
<text x="268.75" y="311.8" font-size="1.3" fill="#888" text-anchor="middle" font-family="'Liberation Sans', Arial, sans-serif" >CCL8</text>
<rect x="281.5" y="288" width="19.5" height="2.8" fill="#e4e4e4"/>
<text x="291.25" y="290" font-size="1.3" fill="#777" text-anchor="middle" font-family="'Liberation Sans', Arial, sans-serif" >PDCD1</text>
<line x1="283" y1="291" x2="283" y2="309.5" stroke="#999" stroke-width="0.3" />
<line x1="283" y1="309.5" x2="301" y2="309.5" stroke="#999" stroke-width="0.3" />
<text x="299" y="294.2" font-size="1.4" fill="#d8505a" text-anchor="end" font-family="'Liberation Sans', Arial, sans-serif" >R = 0.62</text>
<text x="299" y="296" font-size="1.4" fill="#d8505a" text-anchor="end" font-family="'Liberation Sans', Arial, sans-serif" >p &lt; 2.2e-16</text>
<circle cx="286.3" cy="303.6" r="0.25" fill="#c0c4cc" opacity="0.8"/>
<circle cx="288.97" cy="302.63" r="0.25" fill="#c0c4cc" opacity="0.8"/>
<circle cx="297.91" cy="299.18" r="0.25" fill="#c0c4cc" opacity="0.8"/>
<circle cx="285.96" cy="297.7" r="0.25" fill="#c0c4cc" opacity="0.8"/>
<circle cx="298" cy="296.63" r="0.25" fill="#c0c4cc" opacity="0.8"/>
<circle cx="291.69" cy="300.21" r="0.25" fill="#c0c4cc" opacity="0.8"/>
<circle cx="285.44" cy="300.37" r="0.25" fill="#c0c4cc" opacity="0.8"/>
<circle cx="286.21" cy="300.77" r="0.25" fill="#c0c4cc" opacity="0.8"/>
<circle cx="291.86" cy="299.01" r="0.25" fill="#c0c4cc" opacity="0.8"/>
<circle cx="286.76" cy="299.79" r="0.25" fill="#c0c4cc" opacity="0.8"/>
<circle cx="286.86" cy="297.84" r="0.25" fill="#c0c4cc" opacity="0.8"/>
<circle cx="287.46" cy="302.99" r="0.25" fill="#c0c4cc" opacity="0.8"/>
<circle cx="291.78" cy="302.68" r="0.25" fill="#c0c4cc" opacity="0.8"/>
<circle cx="283.75" cy="303.87" r="0.25" fill="#c0c4cc" opacity="0.8"/>
<circle cx="291.56" cy="302.01" r="0.25" fill="#c0c4cc" opacity="0.8"/>
<circle cx="292.91" cy="301.15" r="0.25" fill="#c0c4cc" opacity="0.8"/>
<circle cx="287.28" cy="302.16" r="0.25" fill="#c0c4cc" opacity="0.8"/>
<circle cx="286.04" cy="298.88" r="0.25" fill="#c0c4cc" opacity="0.8"/>
<circle cx="284.01" cy="300" r="0.25" fill="#c0c4cc" opacity="0.8"/>
<circle cx="292.05" cy="298.46" r="0.25" fill="#c0c4cc" opacity="0.8"/>
<circle cx="298.19" cy="296.38" r="0.25" fill="#c0c4cc" opacity="0.8"/>
<circle cx="293.05" cy="297.95" r="0.25" fill="#c0c4cc" opacity="0.8"/>
<circle cx="293.32" cy="301.78" r="0.25" fill="#c0c4cc" opacity="0.8"/>
<circle cx="295.23" cy="296.53" r="0.25" fill="#c0c4cc" opacity="0.8"/>
<circle cx="287.55" cy="301.07" r="0.25" fill="#c0c4cc" opacity="0.8"/>
<circle cx="299.72" cy="295.92" r="0.25" fill="#c0c4cc" opacity="0.8"/>
<circle cx="293.7" cy="301.09" r="0.25" fill="#c0c4cc" opacity="0.8"/>
<circle cx="296.94" cy="298.31" r="0.25" fill="#c0c4cc" opacity="0.8"/>
<circle cx="296.87" cy="299.16" r="0.25" fill="#c0c4cc" opacity="0.8"/>
<circle cx="298.69" cy="295.81" r="0.25" fill="#c0c4cc" opacity="0.8"/>
<circle cx="299.02" cy="298.59" r="0.25" fill="#c0c4cc" opacity="0.8"/>
<circle cx="290.22" cy="297.22" r="0.25" fill="#c0c4cc" opacity="0.8"/>
<circle cx="287.54" cy="302.02" r="0.25" fill="#c0c4cc" opacity="0.8"/>
<circle cx="294.7" cy="297.2" r="0.25" fill="#c0c4cc" opacity="0.8"/>
<circle cx="289.18" cy="297.69" r="0.25" fill="#c0c4cc" opacity="0.8"/>
<circle cx="286.77" cy="298.5" r="0.25" fill="#c0c4cc" opacity="0.8"/>
<circle cx="288.96" cy="303.57" r="0.25" fill="#c0c4cc" opacity="0.8"/>
<circle cx="299.96" cy="301.15" r="0.25" fill="#c0c4cc" opacity="0.8"/>
<circle cx="291.42" cy="299.96" r="0.25" fill="#c0c4cc" opacity="0.8"/>
<circle cx="296.36" cy="302.33" r="0.25" fill="#c0c4cc" opacity="0.8"/>
<path d="M283.5,300 C289.5,302 295.5,302 300,298" fill="none" stroke="#c6cad2" stroke-width="2.8" />
<path d="M283.5,300.3 C289.5,302.2 295.5,302.2 300,298.3" fill="none" stroke="#8a92a6" stroke-width="0.4" />
<text x="291.25" y="311.8" font-size="1.3" fill="#888" text-anchor="middle" font-family="'Liberation Sans', Arial, sans-serif" >CCL8</text>
<text x="321.6" y="250.6" font-size="5.2" fill="#111" text-anchor="start" font-family="'Liberation Sans', Arial, sans-serif" font-weight="bold">K</text>
<text x="352" y="249.6" font-size="1.4" fill="#666" text-anchor="middle" font-family="'Liberation Sans', Arial, sans-serif" >CCL8 relative expression</text>
<text x="341" y="251.5" font-size="1.2" fill="#666" text-anchor="middle" font-family="'Liberation Sans', Arial, sans-serif" >low</text>
<text x="362" y="251.5" font-size="1.2" fill="#666" text-anchor="middle" font-family="'Liberation Sans', Arial, sans-serif" >high</text>
<rect x="331.8" y="251.9" width="20.2" height="2.5" fill="#1414c8"/>
<rect x="352" y="251.9" width="20.5" height="2.5" fill="#e01818"/>
<rect x="331.8" y="254.4" width="40.7" height="51.8" fill="#26b232"/>
<rect x="339.43" y="254.4" width="1.27" height="6.91" fill="#b5341f"/>
<rect x="367.41" y="254.4" width="1.27" height="6.91" fill="#b5341f"/>
<text x="331.2" y="257.16" font-size="2.4" fill="#2a2a2a" text-anchor="end" font-family="'Liberation Sans', Arial, sans-serif" font-weight="bold" stroke="#2a2a2a" stroke-width="0.15">MUC16</text>
<text x="373.3" y="257.16" font-size="2.1" fill="#333" text-anchor="start" font-family="'Liberation Sans', Arial, sans-serif" >0.001</text>
<rect x="350.88" y="257.85" width="1.27" height="3.45" fill="#b5341f"/>
<rect x="358.51" y="257.85" width="1.27" height="3.45" fill="#b5341f"/>
<rect x="359.78" y="257.85" width="1.27" height="3.45" fill="#b5341f"/>
<text x="331.2" y="260.62" font-size="2.4" fill="#2a2a2a" text-anchor="end" font-family="'Liberation Sans', Arial, sans-serif" font-weight="bold" stroke="#2a2a2a" stroke-width="0.15">TTN</text>
<text x="373.3" y="260.62" font-size="2.1" fill="#333" text-anchor="start" font-family="'Liberation Sans', Arial, sans-serif" >0.002</text>
<rect x="333.07" y="261.31" width="1.27" height="3.45" fill="#b5341f"/>
<rect x="341.98" y="261.31" width="1.27" height="6.91" fill="#b5341f"/>
<rect x="362.32" y="261.31" width="1.27" height="3.45" fill="#b5341f"/>
<rect x="363.6" y="261.31" width="1.27" height="3.45" fill="#b5341f"/>
<rect x="371.23" y="261.31" width="1.27" height="3.45" fill="#b5341f"/>
<text x="331.2" y="264.07" font-size="2.4" fill="#2a2a2a" text-anchor="end" font-family="'Liberation Sans', Arial, sans-serif" font-weight="bold" stroke="#2a2a2a" stroke-width="0.15">KMT2D</text>
<text x="373.3" y="264.07" font-size="2.1" fill="#333" text-anchor="start" font-family="'Liberation Sans', Arial, sans-serif" >0.003</text>
<rect x="339.43" y="264.76" width="1.27" height="3.45" fill="#b5341f"/>
<rect x="355.97" y="264.76" width="1.27" height="6.91" fill="#b5341f"/>
<rect x="366.14" y="264.76" width="1.27" height="3.45" fill="#b5341f"/>
<rect x="367.41" y="264.76" width="1.27" height="6.91" fill="#b5341f"/>
<rect x="369.96" y="264.76" width="1.27" height="3.45" fill="#b5341f"/>
<text x="331.2" y="267.52" font-size="2.4" fill="#2a2a2a" text-anchor="end" font-family="'Liberation Sans', Arial, sans-serif" font-weight="bold" stroke="#2a2a2a" stroke-width="0.15">PIM1</text>
<text x="373.3" y="267.52" font-size="2.1" fill="#333" text-anchor="start" font-family="'Liberation Sans', Arial, sans-serif" >0.004</text>
<rect x="331.8" y="268.21" width="1.27" height="3.45" fill="#b5341f"/>
<rect x="353.42" y="268.21" width="1.27" height="3.45" fill="#b5341f"/>
<rect x="358.51" y="268.21" width="1.27" height="3.45" fill="#b5341f"/>
<rect x="361.05" y="268.21" width="1.27" height="6.91" fill="#b5341f"/>
<rect x="364.87" y="268.21" width="1.27" height="3.45" fill="#b5341f"/>
<text x="331.2" y="270.98" font-size="2.4" fill="#2a2a2a" text-anchor="end" font-family="'Liberation Sans', Arial, sans-serif" font-weight="bold" stroke="#2a2a2a" stroke-width="0.15">CREBBP</text>
<text x="373.3" y="270.98" font-size="2.1" fill="#333" text-anchor="start" font-family="'Liberation Sans', Arial, sans-serif" >0.005</text>
<rect x="336.89" y="271.67" width="1.27" height="3.45" fill="#b5341f"/>
<rect x="352.15" y="271.67" width="1.27" height="6.91" fill="#b5341f"/>
<rect x="368.68" y="271.67" width="1.27" height="6.91" fill="#b5341f"/>
<text x="331.2" y="274.43" font-size="2.4" fill="#2a2a2a" text-anchor="end" font-family="'Liberation Sans', Arial, sans-serif" font-weight="bold" stroke="#2a2a2a" stroke-width="0.15">BTG2</text>
<text x="373.3" y="274.43" font-size="2.1" fill="#333" text-anchor="start" font-family="'Liberation Sans', Arial, sans-serif" >0.006</text>
<rect x="335.62" y="275.12" width="1.27" height="3.45" fill="#b5341f"/>
<rect x="341.98" y="275.12" width="1.27" height="3.45" fill="#b5341f"/>
<rect x="366.14" y="275.12" width="1.27" height="3.45" fill="#b5341f"/>
<rect x="367.41" y="275.12" width="1.27" height="3.45" fill="#b5341f"/>
<text x="331.2" y="277.88" font-size="2.4" fill="#2a2a2a" text-anchor="end" font-family="'Liberation Sans', Arial, sans-serif" font-weight="bold" stroke="#2a2a2a" stroke-width="0.15">CARD11</text>
<text x="373.3" y="277.88" font-size="2.1" fill="#333" text-anchor="start" font-family="'Liberation Sans', Arial, sans-serif" >0.007</text>
<rect x="353.42" y="278.57" width="1.27" height="6.91" fill="#b5341f"/>
<rect x="358.51" y="278.57" width="1.27" height="3.45" fill="#b5341f"/>
<rect x="364.87" y="278.57" width="1.27" height="3.45" fill="#b5341f"/>
<rect x="371.23" y="278.57" width="1.27" height="6.91" fill="#b5341f"/>
<text x="331.2" y="281.34" font-size="2.4" fill="#2a2a2a" text-anchor="end" font-family="'Liberation Sans', Arial, sans-serif" font-weight="bold" stroke="#2a2a2a" stroke-width="0.15">SGK1</text>
<text x="373.3" y="281.34" font-size="2.1" fill="#333" text-anchor="start" font-family="'Liberation Sans', Arial, sans-serif" >0.008</text>
<rect x="333.07" y="282.03" width="1.27" height="3.45" fill="#b5341f"/>
<rect x="336.89" y="282.03" width="1.27" height="3.45" fill="#b5341f"/>
<rect x="340.7" y="282.03" width="1.27" height="6.91" fill="#b5341f"/>
<rect x="341.98" y="282.03" width="1.27" height="3.45" fill="#b5341f"/>
<rect x="355.97" y="282.03" width="1.27" height="6.91" fill="#b5341f"/>
<rect x="357.24" y="282.03" width="1.27" height="3.45" fill="#b5341f"/>
<rect x="359.78" y="282.03" width="1.27" height="3.45" fill="#b5341f"/>
<text x="331.2" y="284.79" font-size="2.4" fill="#2a2a2a" text-anchor="end" font-family="'Liberation Sans', Arial, sans-serif" font-weight="bold" stroke="#2a2a2a" stroke-width="0.15">MYD88</text>
<text x="373.3" y="284.79" font-size="2.1" fill="#333" text-anchor="start" font-family="'Liberation Sans', Arial, sans-serif" >0.009</text>
<rect x="335.62" y="285.48" width="1.27" height="3.45" fill="#b5341f"/>
<rect x="368.68" y="285.48" width="1.27" height="3.45" fill="#b5341f"/>
<rect x="369.96" y="285.48" width="1.27" height="6.91" fill="#b5341f"/>
<text x="331.2" y="288.24" font-size="2.4" fill="#2a2a2a" text-anchor="end" font-family="'Liberation Sans', Arial, sans-serif" font-weight="bold" stroke="#2a2a2a" stroke-width="0.15">TP53</text>
<text x="373.3" y="288.24" font-size="2.1" fill="#333" text-anchor="start" font-family="'Liberation Sans', Arial, sans-serif" >0.010</text>
<rect x="340.7" y="288.93" width="1.27" height="3.45" fill="#b5341f"/>
<rect x="347.06" y="288.93" width="1.27" height="3.45" fill="#b5341f"/>
<rect x="358.51" y="288.93" width="1.27" height="3.45" fill="#b5341f"/>
<rect x="364.87" y="288.93" width="1.27" height="6.91" fill="#b5341f"/>
<text x="331.2" y="291.7" font-size="2.4" fill="#2a2a2a" text-anchor="end" font-family="'Liberation Sans', Arial, sans-serif" font-weight="bold" stroke="#2a2a2a" stroke-width="0.15">B2M</text>
<text x="373.3" y="291.7" font-size="2.1" fill="#333" text-anchor="start" font-family="'Liberation Sans', Arial, sans-serif" >0.011</text>
<rect x="336.89" y="292.39" width="1.27" height="3.45" fill="#b5341f"/>
<rect x="340.7" y="292.39" width="1.27" height="6.91" fill="#b5341f"/>
<rect x="344.52" y="292.39" width="1.27" height="6.91" fill="#b5341f"/>
<rect x="347.06" y="292.39" width="1.27" height="3.45" fill="#b5341f"/>
<rect x="358.51" y="292.39" width="1.27" height="3.45" fill="#b5341f"/>
<rect x="359.78" y="292.39" width="1.27" height="3.45" fill="#b5341f"/>
<rect x="367.41" y="292.39" width="1.27" height="6.91" fill="#b5341f"/>
<rect x="368.68" y="292.39" width="1.27" height="3.45" fill="#b5341f"/>
<text x="331.2" y="295.15" font-size="2.4" fill="#2a2a2a" text-anchor="end" font-family="'Liberation Sans', Arial, sans-serif" font-weight="bold" stroke="#2a2a2a" stroke-width="0.15">BCL2</text>
<text x="373.3" y="295.15" font-size="2.1" fill="#333" text-anchor="start" font-family="'Liberation Sans', Arial, sans-serif" >0.012</text>
<rect x="341.98" y="295.84" width="1.27" height="3.45" fill="#b5341f"/>
<rect x="352.15" y="295.84" width="1.27" height="3.45" fill="#b5341f"/>
<rect x="355.97" y="295.84" width="1.27" height="3.45" fill="#b5341f"/>
<rect x="367.41" y="295.84" width="1.27" height="3.45" fill="#b5341f"/>
<rect x="369.96" y="295.84" width="1.27" height="6.91" fill="#b5341f"/>
<text x="331.2" y="298.6" font-size="2.4" fill="#2a2a2a" text-anchor="end" font-family="'Liberation Sans', Arial, sans-serif" font-weight="bold" stroke="#2a2a2a" stroke-width="0.15">CD79B</text>
<text x="373.3" y="298.6" font-size="2.1" fill="#333" text-anchor="start" font-family="'Liberation Sans', Arial, sans-serif" >0.013</text>
<rect x="336.89" y="299.29" width="1.27" height="6.91" fill="#b5341f"/>
<rect x="340.7" y="299.29" width="1.27" height="6.91" fill="#b5341f"/>
<rect x="349.61" y="299.29" width="1.27" height="3.45" fill="#b5341f"/>
<rect x="354.69" y="299.29" width="1.27" height="6.91" fill="#b5341f"/>
<rect x="355.97" y="299.29" width="1.27" height="6.91" fill="#b5341f"/>
<rect x="359.78" y="299.29" width="1.27" height="3.45" fill="#b5341f"/>
<rect x="363.6" y="299.29" width="1.27" height="6.91" fill="#b5341f"/>
<rect x="367.41" y="299.29" width="1.27" height="6.91" fill="#b5341f"/>
<rect x="371.23" y="299.29" width="1.27" height="3.45" fill="#b5341f"/>
<text x="331.2" y="302.06" font-size="2.4" fill="#2a2a2a" text-anchor="end" font-family="'Liberation Sans', Arial, sans-serif" font-weight="bold" stroke="#2a2a2a" stroke-width="0.15">EP300</text>
<text x="373.3" y="302.06" font-size="2.1" fill="#333" text-anchor="start" font-family="'Liberation Sans', Arial, sans-serif" >0.014</text>
<rect x="339.43" y="302.75" width="1.27" height="3.45" fill="#b5341f"/>
<rect x="340.7" y="302.75" width="1.27" height="3.45" fill="#b5341f"/>
<rect x="357.24" y="302.75" width="1.27" height="3.45" fill="#b5341f"/>
<text x="331.2" y="305.51" font-size="2.4" fill="#2a2a2a" text-anchor="end" font-family="'Liberation Sans', Arial, sans-serif" font-weight="bold" stroke="#2a2a2a" stroke-width="0.15">FAT4</text>
<text x="373.3" y="305.51" font-size="2.1" fill="#333" text-anchor="start" font-family="'Liberation Sans', Arial, sans-serif" >0.015</text>
<line x1="331.8" y1="257.85" x2="372.5" y2="257.85" stroke="#8fd48f" stroke-width="0.35" />
<line x1="331.8" y1="261.31" x2="372.5" y2="261.31" stroke="#8fd48f" stroke-width="0.35" />
<line x1="331.8" y1="264.76" x2="372.5" y2="264.76" stroke="#8fd48f" stroke-width="0.35" />
<line x1="331.8" y1="268.21" x2="372.5" y2="268.21" stroke="#8fd48f" stroke-width="0.35" />
<line x1="331.8" y1="271.67" x2="372.5" y2="271.67" stroke="#8fd48f" stroke-width="0.35" />
<line x1="331.8" y1="275.12" x2="372.5" y2="275.12" stroke="#8fd48f" stroke-width="0.35" />
<line x1="331.8" y1="278.57" x2="372.5" y2="278.57" stroke="#8fd48f" stroke-width="0.35" />
<line x1="331.8" y1="282.03" x2="372.5" y2="282.03" stroke="#8fd48f" stroke-width="0.35" />
<line x1="331.8" y1="285.48" x2="372.5" y2="285.48" stroke="#8fd48f" stroke-width="0.35" />
<line x1="331.8" y1="288.93" x2="372.5" y2="288.93" stroke="#8fd48f" stroke-width="0.35" />
<line x1="331.8" y1="292.39" x2="372.5" y2="292.39" stroke="#8fd48f" stroke-width="0.35" />
<line x1="331.8" y1="295.84" x2="372.5" y2="295.84" stroke="#8fd48f" stroke-width="0.35" />
<line x1="331.8" y1="299.29" x2="372.5" y2="299.29" stroke="#8fd48f" stroke-width="0.35" />
<line x1="331.8" y1="302.75" x2="372.5" y2="302.75" stroke="#8fd48f" stroke-width="0.35" />
<rect x="382.3" y="255.2" width="4" height="3.8" fill="#26b232"/>
<rect x="382.3" y="260.7" width="4" height="3.3" fill="#e01818"/>
<text x="387" y="258" font-size="1.4" fill="#555" text-anchor="start" font-family="'Liberation Sans', Arial, sans-serif" >Wild</text>
<text x="387" y="263.2" font-size="1.4" fill="#555" text-anchor="start" font-family="'Liberation Sans', Arial, sans-serif" >Mutation</text>
</svg>
</div></body></html>
